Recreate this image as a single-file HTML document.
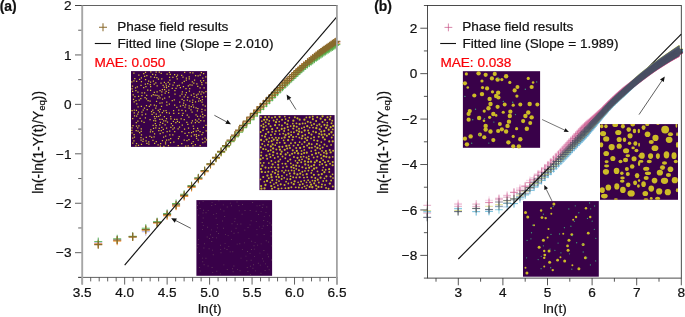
<!DOCTYPE html>
<html lang="en">
<head>
<meta charset="utf-8">
<title>JMAK fit of phase field results</title>
<style>html,body{margin:0;padding:0;background:#fff}svg{display:block}</style>
</head>
<body>
<svg width="685" height="317" viewBox="0 0 685 317" font-family='"Liberation Sans", sans-serif'>
<rect width="685" height="317" fill="#fff"/>
<defs>
<clipPath id="ca"><rect x="77.2" y="5.5" width="263.8" height="271.9"/></clipPath>
</defs>
<g clip-path="url(#ca)" fill="none">
<path d="M94.24 242.78h8M98.24 238.78v8M113.19 239.68h8M117.19 235.68v8M128.68 236.61h8M132.68 232.61v8M141.77 231.71h8M145.77 227.71v8M153.11 222.17h8M157.11 218.17v8M163.12 213.59h8M167.12 209.59v8M172.07 204.61h8M176.07 200.61v8M180.16 195.17h8M184.16 191.17v8M187.55 186.3h8M191.55 182.3v8M194.35 178.34h8M198.35 174.34v8M200.64 171h8M204.64 167v8M206.5 164.18h8M210.5 160.18v8M211.98 157.8h8M215.98 153.8v8M217.13 151.8h8M221.13 147.8v8M221.99 146.16h8M225.99 142.16v8M226.58 140.83h8M230.58 136.83v8M230.94 135.79h8M234.94 131.79v8M235.08 130.93h8M239.08 126.93v8M239.03 126.29h8M243.03 122.29v8M242.81 121.96h8M246.81 117.96v8M246.42 118.01h8M250.42 114.01v8M249.89 114.38h8M253.89 110.38v8M253.22 111.03h8M257.22 107.03v8M256.43 107.85h8M260.43 103.85v8M259.51 104.78h8M263.51 100.78v8M262.5 101.81h8M266.5 97.81v8M265.37 98.96h8M269.37 94.96v8M268.16 96.22h8M272.16 92.22v8M270.86 93.58h8M274.86 89.58v8M273.47 91.04h8M277.47 87.04v8M276.01 88.58h8M280.01 84.58v8M278.47 86.2h8M282.47 82.2v8M280.86 83.89h8M284.86 79.89v8M283.19 81.67h8M287.19 77.67v8M285.45 79.53h8M289.45 75.53v8M287.66 77.46h8M291.66 73.46v8M289.81 75.47h8M293.81 71.47v8M291.91 73.54h8M295.91 69.54v8M293.95 71.67h8M297.95 67.67v8M295.95 69.86h8M299.95 65.86v8M297.9 68.13h8M301.9 64.13v8M299.81 66.47h8M303.81 62.47v8M301.68 64.9h8M305.68 60.9v8M303.51 63.42h8M307.51 59.42v8M305.29 61.98h8M309.29 57.98v8M307.04 60.6h8M311.04 56.6v8M308.76 59.27h8M312.76 55.27v8M310.44 57.98h8M314.44 53.98v8M312.09 56.73h8M316.09 52.73v8M313.71 55.53h8M317.71 51.53v8M315.3 54.37h8M319.3 50.37v8M316.86 53.25h8M320.86 49.25v8M318.39 52.16h8M322.39 48.16v8M319.89 51.11h8M323.89 47.11v8M321.37 50.08h8M325.37 46.08v8M322.82 49.09h8M326.82 45.09v8M324.25 48.12h8M328.25 44.12v8M325.65 47.18h8M329.65 43.18v8M327.03 46.27h8M331.03 42.27v8M328.39 45.39h8M332.39 41.39v8M329.73 44.53h8M333.73 40.53v8M331.04 43.69h8M335.04 39.69v8M332.34 42.88h8M336.34 38.88v8" stroke="#b3b0ea" stroke-width="1.0"/>
<path d="M94.24 243.78h8M98.24 239.78v8M113.19 240.58h8M117.19 236.58v8M128.68 236.8h8M132.68 232.8v8M141.77 229.92h8M145.77 225.92v8M153.11 223.07h8M157.11 219.07v8M163.12 215.88h8M167.12 211.88v8M172.07 206.21h8M176.07 202.21v8M180.16 196.48h8M184.16 192.48v8M187.55 187.35h8M191.55 183.35v8M194.35 179.14h8M198.35 175.14v8M200.64 171.58h8M204.64 167.58v8M206.5 164.56h8M210.5 160.56v8M211.98 158.04h8M215.98 154.04v8M217.13 151.92h8M221.13 147.92v8M221.99 146.15h8M225.99 142.15v8M226.58 140.71h8M230.58 136.71v8M230.94 135.55h8M234.94 131.55v8M235.08 130.6h8M239.08 126.6v8M239.03 125.85h8M243.03 121.85v8M242.81 121.42h8M246.81 117.42v8M246.42 117.4h8M250.42 113.4v8M249.89 113.75h8M253.89 109.75v8M253.22 110.37h8M257.22 106.37v8M256.43 107.17h8M260.43 103.17v8M259.51 104.08h8M263.51 100.08v8M262.5 101.09h8M266.5 97.09v8M265.37 98.22h8M269.37 94.22v8M268.16 95.46h8M272.16 91.46v8M270.86 92.8h8M274.86 88.8v8M273.47 90.24h8M277.47 86.24v8M276.01 87.78h8M280.01 83.78v8M278.47 85.4h8M282.47 81.4v8M280.86 83.09h8M284.86 79.09v8M283.19 80.87h8M287.19 76.87v8M285.45 78.73h8M289.45 74.73v8M287.66 76.66h8M291.66 72.66v8M289.81 74.67h8M293.81 70.67v8M291.91 72.74h8M295.91 68.74v8M293.95 70.87h8M297.95 66.87v8M295.95 69.06h8M299.95 65.06v8M297.9 67.33h8M301.9 63.33v8M299.81 65.67h8M303.81 61.67v8M301.68 64.09h8M305.68 60.09v8M303.51 62.58h8M307.51 58.58v8M305.29 61.13h8M309.29 57.13v8M307.04 59.72h8M311.04 55.72v8M308.76 58.36h8M312.76 54.36v8M310.44 57.05h8M314.44 53.05v8M312.09 55.79h8M316.09 51.79v8M313.71 54.57h8M317.71 50.57v8M315.3 53.39h8M319.3 49.39v8M316.86 52.25h8M320.86 48.25v8M318.39 51.14h8M322.39 47.14v8M319.89 50.06h8M323.89 46.06v8M321.37 49.02h8M325.37 45.02v8M322.82 48h8M326.82 44v8M324.25 47.02h8M328.25 43.02v8M325.65 46.06h8M329.65 42.06v8M327.03 45.14h8M331.03 41.14v8M328.39 44.23h8M332.39 40.23v8M329.73 43.36h8M333.73 39.36v8M331.04 42.51h8M335.04 38.51v8M332.34 41.68h8M336.34 37.68v8" stroke="#e8703a" stroke-width="0.75"/>
<path d="M94.24 244.18h8M98.24 240.18v8M113.19 241.28h8M117.19 237.28v8M128.68 237h8M132.68 233v8M141.77 230.12h8M145.77 226.12v8M153.11 222.87h8M157.11 218.87v8M163.12 215.38h8M167.12 211.38v8M172.07 205.91h8M176.07 201.91v8M180.16 196.32h8M184.16 192.32v8M187.55 187.32h8M191.55 183.32v8M194.35 179.24h8M198.35 175.24v8M200.64 171.79h8M204.64 167.79v8M206.5 164.88h8M210.5 160.88v8M211.98 158.53h8M215.98 154.53v8M217.13 152.56h8M221.13 148.56v8M221.99 146.94h8M225.99 142.94v8M226.58 141.64h8M230.58 137.64v8M230.94 136.61h8M234.94 132.61v8M235.08 131.78h8M239.08 127.78v8M239.03 127.15h8M243.03 123.15v8M242.81 122.84h8M246.81 118.84v8M246.42 118.87h8M250.42 114.87v8M249.89 115.1h8M253.89 111.1v8M253.22 111.6h8M257.22 107.6v8M256.43 108.28h8M260.43 104.28v8M259.51 105.08h8M263.51 101.08v8M262.5 101.98h8M266.5 97.98v8M265.37 99.01h8M269.37 95.01v8M268.16 96.15h8M272.16 92.15v8M270.86 93.4h8M274.86 89.4v8M273.47 90.74h8M277.47 86.74v8M276.01 88.26h8M280.01 84.26v8M278.47 85.86h8M282.47 81.86v8M280.86 83.54h8M284.86 79.54v8M283.19 81.3h8M287.19 77.3v8M285.45 79.14h8M289.45 75.14v8M287.66 77.06h8M291.66 73.06v8M289.81 75.05h8M293.81 71.05v8M291.91 73.1h8M295.91 69.1v8M293.95 71.22h8M297.95 67.22v8M295.95 69.4h8M299.95 65.4v8M297.9 67.65h8M301.9 63.65v8M299.81 65.98h8M303.81 61.98v8M301.68 64.44h8M305.68 60.44v8M303.51 63.02h8M307.51 59.02v8M305.29 61.66h8M309.29 57.66v8M307.04 60.34h8M311.04 56.34v8M308.76 59.07h8M312.76 55.07v8M310.44 57.85h8M314.44 53.85v8M312.09 56.67h8M316.09 52.67v8M313.71 55.53h8M317.71 51.53v8M315.3 54.43h8M319.3 50.43v8M316.86 53.37h8M320.86 49.37v8M318.39 52.34h8M322.39 48.34v8M319.89 51.34h8M323.89 47.34v8M321.37 50.37h8M325.37 46.37v8M322.82 49.43h8M326.82 45.43v8M324.25 48.52h8M328.25 44.52v8M325.65 47.63h8M329.65 43.63v8M327.03 46.77h8M331.03 42.77v8M328.39 45.94h8M332.39 41.94v8M329.73 45.14h8M333.73 41.14v8M331.04 44.35h8M335.04 40.35v8M332.34 43.58h8M336.34 39.58v8" stroke="#f59b2e" stroke-width="0.8"/>
<path d="M94.24 241.58h8M98.24 237.58v8M113.19 238.78h8M117.19 234.78v8M128.68 236.3h8M132.68 232.3v8M141.77 228.22h8M145.77 224.22v8M153.11 221.67h8M157.11 217.67v8M163.12 213.59h8M167.12 209.59v8M172.07 203.51h8M176.07 199.51v8M180.16 194.26h8M184.16 190.26v8M187.55 185.57h8M191.55 181.57v8M194.35 177.77h8M198.35 173.77v8M200.64 170.58h8M204.64 166.58v8M206.5 163.93h8M210.5 159.93v8M211.98 157.83h8M215.98 153.83v8M217.13 152.11h8M221.13 148.11v8M221.99 146.72h8M225.99 142.72v8M226.58 141.64h8M230.58 137.64v8M230.94 136.82h8M234.94 132.82v8M235.08 132.19h8M239.08 128.19v8M239.03 127.74h8M243.03 123.74v8M242.81 123.61h8M246.81 119.61v8M246.42 119.79h8M250.42 115.79v8M249.89 116.08h8M253.89 112.08v8M253.22 112.63h8M257.22 108.63v8M256.43 109.37h8M260.43 105.37v8M259.51 106.23h8M263.51 102.23v8M262.5 103.19h8M266.5 99.19v8M265.37 100.27h8M269.37 96.27v8M268.16 97.46h8M272.16 93.46v8M270.86 94.75h8M274.86 90.75v8M273.47 92.14h8M277.47 88.14v8M276.01 89.67h8M280.01 85.67v8M278.47 87.28h8M282.47 83.28v8M280.86 84.97h8M284.86 80.97v8M283.19 82.73h8M287.19 78.73v8M285.45 80.58h8M289.45 76.58v8M287.66 78.51h8M291.66 74.51v8M289.81 76.51h8M293.81 72.51v8M291.91 74.57h8M295.91 70.57v8M293.95 72.69h8M297.95 68.69v8M295.95 70.88h8M299.95 66.88v8M297.9 69.14h8M301.9 65.14v8M299.81 67.47h8M303.81 63.47v8M301.68 65.93h8M305.68 61.93v8M303.51 64.48h8M307.51 60.48v8M305.29 63.08h8M309.29 59.08v8M307.04 61.74h8M311.04 57.74v8M308.76 60.44h8M312.76 56.44v8M310.44 59.19h8M314.44 55.19v8M312.09 57.99h8M316.09 53.99v8M313.71 56.82h8M317.71 52.82v8M315.3 55.7h8M319.3 51.7v8M316.86 54.61h8M320.86 50.61v8M318.39 53.56h8M322.39 49.56v8M319.89 52.53h8M323.89 48.53v8M321.37 51.54h8M325.37 47.54v8M322.82 50.58h8M326.82 46.58v8M324.25 49.64h8M328.25 45.64v8M325.65 48.74h8M329.65 44.74v8M327.03 47.86h8M331.03 43.86v8M328.39 47h8M332.39 43v8M329.73 46.17h8M333.73 42.17v8M331.04 45.37h8M335.04 41.37v8M332.34 44.58h8M336.34 40.58v8" stroke="#4fb04a" stroke-width="0.9"/>
<path d="M94.24 244.68h8M98.24 240.68v8M113.19 239.98h8M117.19 235.98v8M128.68 236.8h8M132.68 232.8v8M141.77 229.62h8M145.77 225.62v8M153.11 222.47h8M157.11 218.47v8M163.12 214.59h8M167.12 210.59v8M172.07 204.91h8M176.07 200.91v8M180.16 195.32h8M184.16 191.32v8M187.55 186.32h8M191.55 182.32v8M194.35 178.24h8M198.35 174.24v8M200.64 170.79h8M204.64 166.79v8M206.5 163.86h8M210.5 159.86v8M211.98 157.38h8M215.98 153.38v8M217.13 151.3h8M221.13 147.3v8M221.99 145.57h8M225.99 141.57v8M226.58 140.16h8M230.58 136.16v8M230.94 135.04h8M234.94 131.04v8M235.08 130.12h8M239.08 126.12v8M239.03 125.4h8M243.03 121.4v8M242.81 121h8M246.81 117v8M246.42 117.01h8M250.42 113.01v8M249.89 113.38h8M253.89 109.38v8M253.22 110.03h8M257.22 106.03v8M256.43 106.85h8M260.43 102.85v8M259.51 103.78h8M263.51 99.78v8M262.5 100.81h8M266.5 96.81v8M265.37 97.96h8M269.37 93.96v8M268.16 95.22h8M272.16 91.22v8M270.86 92.58h8M274.86 88.58v8M273.47 90.04h8M277.47 86.04v8M276.01 87.58h8M280.01 83.58v8M278.47 85.2h8M282.47 81.2v8M280.86 82.89h8M284.86 78.89v8M283.19 80.67h8M287.19 76.67v8M285.45 78.53h8M289.45 74.53v8M287.66 76.46h8M291.66 72.46v8M289.81 74.47h8M293.81 70.47v8M291.91 72.54h8M295.91 68.54v8M293.95 70.67h8M297.95 66.67v8M295.95 68.86h8M299.95 64.86v8M297.9 67.13h8M301.9 63.13v8M299.81 65.47h8M303.81 61.47v8M301.68 63.89h8M305.68 59.89v8M303.51 62.36h8M307.51 58.36v8M305.29 60.9h8M309.29 56.9v8M307.04 59.48h8M311.04 55.48v8M308.76 58.11h8M312.76 54.11v8M310.44 56.79h8M314.44 52.79v8M312.09 55.52h8M316.09 51.52v8M313.71 54.28h8M317.71 50.28v8M315.3 53.09h8M319.3 49.09v8M316.86 51.94h8M320.86 47.94v8M318.39 50.83h8M322.39 46.83v8M319.89 49.74h8M323.89 45.74v8M321.37 48.69h8M325.37 44.69v8M322.82 47.66h8M326.82 43.66v8M324.25 46.67h8M328.25 42.67v8M325.65 45.71h8M329.65 41.71v8M327.03 44.77h8M331.03 40.77v8M328.39 43.86h8M332.39 39.86v8M329.73 42.97h8M333.73 38.97v8M331.04 42.12h8M335.04 38.12v8M332.34 41.28h8M336.34 37.28v8" stroke="#876a2c" stroke-width="1.15"/>
</g>
<path d="M124.67 265.04L337 16.62" stroke="#111" stroke-width="1.15" fill="none"/>
<rect x="131" y="71.1" width="76.1" height="75.8" fill="#390149"/>
<path d="M177.82 138.03h1.25v1.25h-1.25zM189.1 87.9h1.25v1.25h-1.25zM153.48 136.27h1.25v1.25h-1.25zM131.39 132.36h1.25v1.25h-1.25zM190.7 106.01h1.25v1.25h-1.25zM153.7 91.87h1.25v1.25h-1.25zM150.09 104.3h1.25v1.25h-1.25zM168.79 112.39h1.25v1.25h-1.25zM205.56 130.23h1.25v1.25h-1.25zM177.6 144.88h1.25v1.25h-1.25zM147.13 83.05h1.25v1.25h-1.25zM176.88 74.38h1.25v1.25h-1.25zM133.67 109.51h1.25v1.25h-1.25zM165.92 139.52h1.25v1.25h-1.25zM178.13 109.45h1.25v1.25h-1.25zM168.22 89.56h1.25v1.25h-1.25zM131.88 85.45h1.25v1.25h-1.25zM182.83 86.07h1.25v1.25h-1.25zM158.68 71.38h1.25v1.25h-1.25zM193.17 82.62h1.25v1.25h-1.25zM151.04 136.77h1.25v1.25h-1.25zM169.18 134.3h1.25v1.25h-1.25zM178.91 126.44h1.25v1.25h-1.25zM137.85 111.47h1.25v1.25h-1.25zM158.06 115.72h1.25v1.25h-1.25zM135.44 100.02h1.25v1.25h-1.25zM155.2 82.3h1.25v1.25h-1.25zM192.14 99.41h1.25v1.25h-1.25zM204.31 115.11h1.25v1.25h-1.25zM176.32 118.69h1.25v1.25h-1.25zM181.67 82.35h1.25v1.25h-1.25zM163.98 88.97h1.25v1.25h-1.25zM161.15 78.31h1.25v1.25h-1.25zM203.49 87.14h1.25v1.25h-1.25zM181.32 93.51h1.25v1.25h-1.25zM196.47 120.5h1.25v1.25h-1.25zM140.86 134.14h1.25v1.25h-1.25zM201.78 138.53h1.25v1.25h-1.25zM173.67 81.95h1.25v1.25h-1.25zM145.42 140.32h1.25v1.25h-1.25zM172.37 84.57h1.25v1.25h-1.25zM173.67 99.17h1.25v1.25h-1.25zM161.78 88.97h1.25v1.25h-1.25zM133.85 136.47h1.25v1.25h-1.25zM166.03 111.95h1.25v1.25h-1.25zM155.13 127.15h1.25v1.25h-1.25zM132.89 98.87h1.25v1.25h-1.25zM133.27 80.27h1.25v1.25h-1.25zM203.44 120.17h1.25v1.25h-1.25zM163.07 110.17h1.25v1.25h-1.25zM196.37 96.78h1.25v1.25h-1.25zM175.21 122.1h1.25v1.25h-1.25zM157.62 109.82h1.25v1.25h-1.25zM188.32 138.92h1.25v1.25h-1.25zM142.31 140.73h1.25v1.25h-1.25zM131.39 127.27h1.25v1.25h-1.25zM191.71 81.3h1.25v1.25h-1.25zM162.38 131.92h1.25v1.25h-1.25zM132.07 117.98h1.25v1.25h-1.25zM190.4 109.37h1.25v1.25h-1.25zM185.37 87.99h1.25v1.25h-1.25zM145.87 98.19h1.25v1.25h-1.25zM144.44 96.92h1.25v1.25h-1.25zM202.01 113.87h1.25v1.25h-1.25zM156.47 91.36h1.25v1.25h-1.25zM202.31 104.26h1.25v1.25h-1.25zM204.43 109.56h1.25v1.25h-1.25zM170.04 137.98h1.25v1.25h-1.25zM186.63 114.42h1.25v1.25h-1.25zM162.96 136.61h1.25v1.25h-1.25zM161.83 139.94h1.25v1.25h-1.25zM136.15 103.18h1.25v1.25h-1.25zM169.91 142.04h1.25v1.25h-1.25zM149.8 131.23h1.25v1.25h-1.25zM181.67 124.59h1.25v1.25h-1.25zM155.92 100.81h1.25v1.25h-1.25zM146.2 74.88h1.25v1.25h-1.25zM193.93 79.49h1.25v1.25h-1.25zM176.22 106.85h1.25v1.25h-1.25zM153.97 142.82h1.25v1.25h-1.25zM165.89 117.96h1.25v1.25h-1.25zM178.58 84.82h1.25v1.25h-1.25zM188.23 131.92h1.25v1.25h-1.25zM185.68 79.55h1.25v1.25h-1.25zM199.41 130.93h1.25v1.25h-1.25zM196.74 110.14h1.25v1.25h-1.25zM199.58 74.58h1.25v1.25h-1.25zM133.27 72.61h1.25v1.25h-1.25zM149.93 89.64h1.25v1.25h-1.25zM145.04 113.4h1.25v1.25h-1.25zM133.92 115.14h1.25v1.25h-1.25zM143.43 121.67h1.25v1.25h-1.25zM132.58 94.27h1.25v1.25h-1.25zM201.28 111.26h1.25v1.25h-1.25zM191.79 120.19h1.25v1.25h-1.25zM176.75 85.37h1.25v1.25h-1.25zM174.02 74.06h1.25v1.25h-1.25zM191.04 142.72h1.25v1.25h-1.25zM194.97 74.88h1.25v1.25h-1.25zM156.37 94.82h1.25v1.25h-1.25zM139.44 117.85h1.25v1.25h-1.25zM190.73 94.5h1.25v1.25h-1.25zM195.62 130.57h1.25v1.25h-1.25zM140.67 128.31h1.25v1.25h-1.25zM197.11 85.82h1.25v1.25h-1.25zM173.97 118.75h1.25v1.25h-1.25zM176.64 78.28h1.25v1.25h-1.25zM180.52 118.24h1.25v1.25h-1.25zM192.71 131.04h1.25v1.25h-1.25zM155.5 124.96h1.25v1.25h-1.25zM195.96 137.71h1.25v1.25h-1.25zM143.1 73.09h1.25v1.25h-1.25zM179.75 87.11h1.25v1.25h-1.25zM173.22 141.58h1.25v1.25h-1.25zM159.41 89.96h1.25v1.25h-1.25zM165.19 120.13h1.25v1.25h-1.25zM138.57 99.49h1.25v1.25h-1.25zM141.02 120.52h1.25v1.25h-1.25zM158.84 111.35h1.25v1.25h-1.25zM147.11 89.56h1.25v1.25h-1.25zM155.71 105.22h1.25v1.25h-1.25zM137.11 127.25h1.25v1.25h-1.25zM174.37 93.46h1.25v1.25h-1.25zM140.82 81.04h1.25v1.25h-1.25zM140.79 77.16h1.25v1.25h-1.25zM198.89 91.19h1.25v1.25h-1.25zM153.95 133.23h1.25v1.25h-1.25zM159.12 124.13h1.25v1.25h-1.25zM138.25 125.36h1.25v1.25h-1.25zM181.5 98.76h1.25v1.25h-1.25zM135.81 109.8h1.25v1.25h-1.25zM187.73 85.34h1.25v1.25h-1.25zM150.94 111.09h1.25v1.25h-1.25zM140.42 84.85h1.25v1.25h-1.25zM185 145.46h1.25v1.25h-1.25zM201.34 133.99h1.25v1.25h-1.25zM189.21 100.57h1.25v1.25h-1.25zM187.89 127.62h1.25v1.25h-1.25zM185.03 104.28h1.25v1.25h-1.25zM159.33 102.41h1.25v1.25h-1.25zM133.5 134.09h1.25v1.25h-1.25zM171.62 100.01h1.25v1.25h-1.25zM172.05 124.93h1.25v1.25h-1.25zM159.57 133.07h1.25v1.25h-1.25zM199.87 100h1.25v1.25h-1.25zM205.37 82.14h1.25v1.25h-1.25zM184.38 132.67h1.25v1.25h-1.25zM199.95 80.3h1.25v1.25h-1.25zM137.88 144.8h1.25v1.25h-1.25zM174.06 104.39h1.25v1.25h-1.25zM199.49 87.3h1.25v1.25h-1.25zM188.61 76.14h1.25v1.25h-1.25zM166.46 73.53h1.25v1.25h-1.25zM154.5 94.39h1.25v1.25h-1.25zM135.25 145.35h1.25v1.25h-1.25zM197.56 139.46h1.25v1.25h-1.25zM149.47 100.5h1.25v1.25h-1.25zM148.02 80.42h1.25v1.25h-1.25zM195.45 107.22h1.25v1.25h-1.25zM152.19 109.61h1.25v1.25h-1.25zM160.63 130.09h1.25v1.25h-1.25zM204.37 141.34h1.25v1.25h-1.25zM148.28 143.46h1.25v1.25h-1.25zM146.57 108.88h1.25v1.25h-1.25zM168.25 139.36h1.25v1.25h-1.25zM175.94 76.05h1.25v1.25h-1.25zM148.72 105.79h1.25v1.25h-1.25zM196.98 127.87h1.25v1.25h-1.25zM193.09 127.88h1.25v1.25h-1.25zM153.59 83.61h1.25v1.25h-1.25zM199.87 115.61h1.25v1.25h-1.25zM155.67 140.97h1.25v1.25h-1.25zM142.62 109.48h1.25v1.25h-1.25zM174.1 131.05h1.25v1.25h-1.25zM152.12 130.91h1.25v1.25h-1.25zM183.64 119.12h1.25v1.25h-1.25zM162.09 122.73h1.25v1.25h-1.25zM193.55 96.1h1.25v1.25h-1.25zM172.32 128.48h1.25v1.25h-1.25zM135.89 125.4h1.25v1.25h-1.25zM132.16 142.59h1.25v1.25h-1.25zM166.1 101.62h1.25v1.25h-1.25zM184.96 110.14h1.25v1.25h-1.25zM185.74 77.42h1.25v1.25h-1.25zM173.15 112.73h1.25v1.25h-1.25zM172.25 76.63h1.25v1.25h-1.25zM175.43 87.68h1.25v1.25h-1.25zM145.65 136.65h1.25v1.25h-1.25zM145.82 104.99h1.25v1.25h-1.25zM187.2 123.87h1.25v1.25h-1.25zM179.07 101.4h1.25v1.25h-1.25zM186.75 99.48h1.25v1.25h-1.25zM165.95 127.46h1.25v1.25h-1.25zM168.72 96.32h1.25v1.25h-1.25zM164.5 124.28h1.25v1.25h-1.25zM195.44 114.33h1.25v1.25h-1.25zM172.78 120.69h1.25v1.25h-1.25zM181.76 114.64h1.25v1.25h-1.25zM162.51 84.79h1.25v1.25h-1.25zM163.26 145.63h1.25v1.25h-1.25zM197.24 107.94h1.25v1.25h-1.25zM182.35 76.57h1.25v1.25h-1.25zM195.91 94.45h1.25v1.25h-1.25zM168.04 85.87h1.25v1.25h-1.25zM192.99 106.44h1.25v1.25h-1.25zM188.52 105.27h1.25v1.25h-1.25zM146.08 94.72h1.25v1.25h-1.25zM183.92 128.58h1.25v1.25h-1.25zM192.23 104.31h1.25v1.25h-1.25zM135.68 122.05h1.25v1.25h-1.25zM149.44 119.09h1.25v1.25h-1.25zM159.21 118.63h1.25v1.25h-1.25zM170.3 118.17h1.25v1.25h-1.25zM146.22 142.87h1.25v1.25h-1.25zM152.66 93.93h1.25v1.25h-1.25zM150.2 76.13h1.25v1.25h-1.25zM162.68 128.68h1.25v1.25h-1.25zM141.26 95.08h1.25v1.25h-1.25zM188.54 107.51h1.25v1.25h-1.25zM200.15 120.07h1.25v1.25h-1.25zM177.51 128.37h1.25v1.25h-1.25zM187.19 96.75h1.25v1.25h-1.25zM167.64 81.67h1.25v1.25h-1.25zM144.01 92.24h1.25v1.25h-1.25zM203.03 73.02h1.25v1.25h-1.25zM144.76 83.41h1.25v1.25h-1.25zM165.32 83.25h1.25v1.25h-1.25zM144.79 117.14h1.25v1.25h-1.25zM161.43 102.25h1.25v1.25h-1.25zM181.06 74.79h1.25v1.25h-1.25zM199.54 144.94h1.25v1.25h-1.25zM176.83 120.78h1.25v1.25h-1.25zM202.34 116.45h1.25v1.25h-1.25zM132.4 125.12h1.25v1.25h-1.25zM182.97 102.51h1.25v1.25h-1.25zM156.22 76.88h1.25v1.25h-1.25zM153.76 104.48h1.25v1.25h-1.25zM198.3 121.86h1.25v1.25h-1.25zM194.93 101.18h1.25v1.25h-1.25zM131.25 129.81h1.25v1.25h-1.25zM190.88 122.3h1.25v1.25h-1.25zM201.35 91.13h1.25v1.25h-1.25zM183.61 80.76h1.25v1.25h-1.25zM169.65 73.73h1.25v1.25h-1.25zM172.2 134.26h1.25v1.25h-1.25zM137.32 91.56h1.25v1.25h-1.25zM188.28 116.46h1.25v1.25h-1.25zM154.43 118.02h1.25v1.25h-1.25zM165.06 135.43h1.25v1.25h-1.25zM152.94 127.63h1.25v1.25h-1.25zM183.31 100.01h1.25v1.25h-1.25zM185.74 91.89h1.25v1.25h-1.25zM164.56 92.59h1.25v1.25h-1.25zM153.88 76.85h1.25v1.25h-1.25zM143.96 75.8h1.25v1.25h-1.25zM165.89 87.09h1.25v1.25h-1.25zM186.33 139.92h1.25v1.25h-1.25zM151.45 113.79h1.25v1.25h-1.25zM168.95 76.7h1.25v1.25h-1.25zM140.35 137.1h1.25v1.25h-1.25zM166.51 131.12h1.25v1.25h-1.25zM135.99 115.47h1.25v1.25h-1.25zM195.81 135.78h1.25v1.25h-1.25zM131.43 110.02h1.25v1.25h-1.25zM158.64 127.8h1.25v1.25h-1.25zM164.94 143.35h1.25v1.25h-1.25zM154.96 74.21h1.25v1.25h-1.25zM160.38 82.54h1.25v1.25h-1.25zM137.13 113.46h1.25v1.25h-1.25zM179.47 95.24h1.25v1.25h-1.25zM173.78 127.22h1.25v1.25h-1.25zM161.19 91.25h1.25v1.25h-1.25zM182.43 112.81h1.25v1.25h-1.25zM139.02 132.11h1.25v1.25h-1.25zM149.69 84.06h1.25v1.25h-1.25zM134.32 95.9h1.25v1.25h-1.25zM143.83 107.43h1.25v1.25h-1.25zM170.25 126.71h1.25v1.25h-1.25zM163.78 81.63h1.25v1.25h-1.25zM157.49 144.36h1.25v1.25h-1.25zM189.53 72.05h1.25v1.25h-1.25zM196.26 83.21h1.25v1.25h-1.25zM169.04 83.44h1.25v1.25h-1.25zM141.42 92.33h1.25v1.25h-1.25zM134.92 87.25h1.25v1.25h-1.25zM140.74 105.77h1.25v1.25h-1.25zM152.04 73.63h1.25v1.25h-1.25zM149.96 81.51h1.25v1.25h-1.25zM163.8 116.04h1.25v1.25h-1.25zM201.08 81.98h1.25v1.25h-1.25zM184.36 106.57h1.25v1.25h-1.25zM140.87 143.66h1.25v1.25h-1.25zM137.94 95.83h1.25v1.25h-1.25zM186.22 121.72h1.25v1.25h-1.25zM191.88 101.77h1.25v1.25h-1.25zM205.3 90.95h1.25v1.25h-1.25zM164.93 141.43h1.25v1.25h-1.25zM201.84 98.92h1.25v1.25h-1.25zM201.42 101.38h1.25v1.25h-1.25zM166.29 104.54h1.25v1.25h-1.25zM181.32 130.95h1.25v1.25h-1.25zM144.97 79.04h1.25v1.25h-1.25zM133.55 101.26h1.25v1.25h-1.25zM174.29 90.01h1.25v1.25h-1.25zM149.99 86.04h1.25v1.25h-1.25zM170.04 115.96h1.25v1.25h-1.25zM183.61 96.16h1.25v1.25h-1.25zM155.56 71.42h1.25v1.25h-1.25zM133.64 112.13h1.25v1.25h-1.25zM136.68 86.21h1.25v1.25h-1.25zM133.31 140.25h1.25v1.25h-1.25zM163.6 86.38h1.25v1.25h-1.25zM184.06 71.8h1.25v1.25h-1.25zM198.24 118.54h1.25v1.25h-1.25zM142.67 138.45h1.25v1.25h-1.25zM137.48 130.48h1.25v1.25h-1.25zM202.32 132.06h1.25v1.25h-1.25zM132.13 137.55h1.25v1.25h-1.25zM136.01 80.73h1.25v1.25h-1.25zM194.77 144.04h1.25v1.25h-1.25zM149.29 135.71h1.25v1.25h-1.25zM161.15 94.33h1.25v1.25h-1.25zM168.84 71.71h1.25v1.25h-1.25zM201.34 108.7h1.25v1.25h-1.25zM138.23 74.52h1.25v1.25h-1.25zM168.76 103.58h1.25v1.25h-1.25zM202.25 141.88h1.25v1.25h-1.25zM192.25 72.15h1.25v1.25h-1.25zM163.12 120.36h1.25v1.25h-1.25zM135.25 89.95h1.25v1.25h-1.25zM159.57 108.68h1.25v1.25h-1.25zM153.16 120.1h1.25v1.25h-1.25zM152.52 124.81h1.25v1.25h-1.25zM156.02 116.05h1.25v1.25h-1.25zM191.46 111.52h1.25v1.25h-1.25zM159.39 97.23h1.25v1.25h-1.25zM181.14 142.88h1.25v1.25h-1.25zM204.46 137.44h1.25v1.25h-1.25zM191.42 84.38h1.25v1.25h-1.25zM152.77 80.49h1.25v1.25h-1.25zM140.6 130.87h1.25v1.25h-1.25zM131.99 90.77h1.25v1.25h-1.25zM160.9 105.67h1.25v1.25h-1.25zM184.83 94.18h1.25v1.25h-1.25zM197.99 100.5h1.25v1.25h-1.25zM143.09 87.02h1.25v1.25h-1.25zM137.47 106.31h1.25v1.25h-1.25zM141.32 111.53h1.25v1.25h-1.25zM169.27 79.62h1.25v1.25h-1.25zM205.29 124.81h1.25v1.25h-1.25zM189.37 84.21h1.25v1.25h-1.25zM152.32 139.69h1.25v1.25h-1.25zM154.69 122.97h1.25v1.25h-1.25zM153.82 116.03h1.25v1.25h-1.25zM192.59 140.97h1.25v1.25h-1.25zM155.63 113.6h1.25v1.25h-1.25zM202.96 79.97h1.25v1.25h-1.25zM153.24 112.08h1.25v1.25h-1.25zM186.7 135.02h1.25v1.25h-1.25zM204.68 105.4h1.25v1.25h-1.25zM188.64 78.36h1.25v1.25h-1.25zM197.53 129.82h1.25v1.25h-1.25zM150.91 95.33h1.25v1.25h-1.25zM200.77 72.05h1.25v1.25h-1.25zM196.92 115.72h1.25v1.25h-1.25zM159.81 114.55h1.25v1.25h-1.25zM203.17 92.17h1.25v1.25h-1.25zM135.94 143.1h1.25v1.25h-1.25zM161.55 118.86h1.25v1.25h-1.25zM167.85 144.92h1.25v1.25h-1.25zM150.18 71.15h1.25v1.25h-1.25zM160.03 142.91h1.25v1.25h-1.25zM183.62 139.51h1.25v1.25h-1.25zM195.64 133.89h1.25v1.25h-1.25zM157.84 78.49h1.25v1.25h-1.25zM159.78 145.38h1.25v1.25h-1.25zM172.93 110.02h1.25v1.25h-1.25zM205.86 139.13h1.25v1.25h-1.25zM158.26 95.51h1.25v1.25h-1.25zM140.48 139.41h1.25v1.25h-1.25zM144.92 71.77h1.25v1.25h-1.25zM134.2 77.95h1.25v1.25h-1.25zM201.35 83.9h1.25v1.25h-1.25zM161.71 111.89h1.25v1.25h-1.25zM165.45 110.09h1.25v1.25h-1.25zM161.94 98.38h1.25v1.25h-1.25zM167.96 92.08h1.25v1.25h-1.25zM193.69 134.35h1.25v1.25h-1.25zM198.58 97.89h1.25v1.25h-1.25zM178.57 136.03h1.25v1.25h-1.25zM135.58 130.1h1.25v1.25h-1.25zM155.08 120.2h1.25v1.25h-1.25zM137.28 120.52h1.25v1.25h-1.25zM197.49 75.36h1.25v1.25h-1.25zM188.81 90.6h1.25v1.25h-1.25zM155.12 107.53h1.25v1.25h-1.25zM170.74 122.91h1.25v1.25h-1.25zM178.78 121.7h1.25v1.25h-1.25zM159.77 121.63h1.25v1.25h-1.25zM147.48 99.88h1.25v1.25h-1.25zM140.17 98.1h1.25v1.25h-1.25zM158.18 130.09h1.25v1.25h-1.25zM141.51 114.36h1.25v1.25h-1.25zM192.38 145.14h1.25v1.25h-1.25zM200.39 93.62h1.25v1.25h-1.25zM160.6 72.76h1.25v1.25h-1.25zM165.78 85.17h1.25v1.25h-1.25zM161.18 126.68h1.25v1.25h-1.25zM190.96 132.07h1.25v1.25h-1.25zM192.64 125.42h1.25v1.25h-1.25zM193.17 93.32h1.25v1.25h-1.25zM181.37 109.69h1.25v1.25h-1.25zM194.79 121.94h1.25v1.25h-1.25zM202.18 77.51h1.25v1.25h-1.25zM169.12 130.6h1.25v1.25h-1.25zM164.03 97.46h1.25v1.25h-1.25zM205.03 96.1h1.25v1.25h-1.25zM148.14 141.21h1.25v1.25h-1.25zM194.91 119.37h1.25v1.25h-1.25zM138.95 78.83h1.25v1.25h-1.25zM201.69 96.3h1.25v1.25h-1.25zM179.85 105.5h1.25v1.25h-1.25zM150.23 129.33h1.25v1.25h-1.25zM202.88 126.67h1.25v1.25h-1.25zM166.88 121.55h1.25v1.25h-1.25zM187.59 145.2h1.25v1.25h-1.25zM157.13 97.59h1.25v1.25h-1.25zM156.53 85.33h1.25v1.25h-1.25zM131.21 81.36h1.25v1.25h-1.25zM205.2 76.28h1.25v1.25h-1.25zM182.51 104.8h1.25v1.25h-1.25zM145.29 86.03h1.25v1.25h-1.25zM171.62 87.63h1.25v1.25h-1.25zM197.49 93.38h1.25v1.25h-1.25zM190.8 135.44h1.25v1.25h-1.25zM165.54 90.78h1.25v1.25h-1.25zM181.72 91.27h1.25v1.25h-1.25zM131.43 88.26h1.25v1.25h-1.25zM198.15 134.87h1.25v1.25h-1.25zM178.11 112.8h1.25v1.25h-1.25z" fill="#d9c234"/>
<rect x="259.4" y="115.1" width="75.2" height="75" fill="#390149"/>
<g fill="#c4b52a"><circle cx="276.65" cy="179.81" r="0.85"/><circle cx="315.93" cy="153.44" r="1.14"/><circle cx="272.15" cy="131.81" r="0.91"/><circle cx="288.09" cy="140.21" r="1.12"/><circle cx="264.86" cy="145.68" r="0.86"/><circle cx="293.16" cy="137" r="1.11"/><circle cx="287.91" cy="161.17" r="1.04"/><circle cx="296.71" cy="130.48" r="1.06"/><circle cx="293.86" cy="168.03" r="0.97"/><circle cx="315.31" cy="177.91" r="0.97"/><circle cx="319.62" cy="164.8" r="0.9"/><circle cx="313.04" cy="127.54" r="0.89"/><circle cx="311.45" cy="134.62" r="1.04"/><circle cx="279.22" cy="124.85" r="0.95"/><circle cx="289.37" cy="117.55" r="0.86"/><circle cx="308.36" cy="170.56" r="0.9"/><circle cx="317.02" cy="125.48" r="0.9"/><circle cx="307.2" cy="177.13" r="0.91"/><circle cx="263.03" cy="130.18" r="0.99"/><circle cx="279.95" cy="149.73" r="1.12"/><circle cx="272.97" cy="155.33" r="1.02"/><circle cx="285.51" cy="163.79" r="1.07"/><circle cx="299.19" cy="166.06" r="0.88"/><circle cx="278.38" cy="167.57" r="1.06"/><circle cx="314.03" cy="168.66" r="1.11"/><circle cx="265.4" cy="184.98" r="1.15"/><circle cx="302.51" cy="135.92" r="1.06"/><circle cx="292.09" cy="153.78" r="1.03"/><circle cx="298.2" cy="134.15" r="1.14"/><circle cx="279.74" cy="142.57" r="0.89"/><circle cx="317.41" cy="147.95" r="1.09"/><circle cx="263.22" cy="149.02" r="1.07"/><circle cx="275.1" cy="117" r="1.07"/><circle cx="331.72" cy="137.48" r="0.96"/><circle cx="299.64" cy="142.18" r="0.87"/><circle cx="264.3" cy="181.68" r="0.89"/><circle cx="328.7" cy="129.67" r="1.05"/><circle cx="290.91" cy="143.3" r="0.94"/><circle cx="272.61" cy="164.27" r="1.13"/><circle cx="317.49" cy="171.41" r="0.89"/><circle cx="309.69" cy="117.37" r="1.09"/><circle cx="277.16" cy="153.56" r="0.99"/><circle cx="311.71" cy="144.23" r="0.94"/><circle cx="293.2" cy="177.3" r="0.93"/><circle cx="262.12" cy="135.65" r="0.96"/><circle cx="281.57" cy="188.37" r="0.96"/><circle cx="277.01" cy="119.53" r="0.92"/><circle cx="290.8" cy="163.39" r="0.92"/><circle cx="271.6" cy="177.23" r="1.14"/><circle cx="274.74" cy="167.37" r="0.98"/><circle cx="272.21" cy="180.29" r="1.04"/><circle cx="321.62" cy="134.66" r="1.06"/><circle cx="267.18" cy="158.77" r="0.95"/><circle cx="296.83" cy="150.99" r="1.13"/><circle cx="293.58" cy="145.64" r="0.94"/><circle cx="272.15" cy="137.6" r="0.91"/><circle cx="279.74" cy="134.17" r="0.86"/><circle cx="283.22" cy="133.58" r="0.93"/><circle cx="287.66" cy="152.65" r="0.87"/><circle cx="309.63" cy="186.88" r="1.04"/><circle cx="322.64" cy="147.4" r="1.02"/><circle cx="277.84" cy="185.39" r="0.86"/><circle cx="308.72" cy="159.02" r="1.13"/><circle cx="280.74" cy="184.31" r="1.07"/><circle cx="290.29" cy="159.51" r="1.02"/><circle cx="267.04" cy="180.96" r="1.13"/><circle cx="267.92" cy="144.79" r="1.01"/><circle cx="325.05" cy="184.9" r="0.9"/><circle cx="326.39" cy="176.35" r="1.08"/><circle cx="293.38" cy="120.7" r="1.14"/><circle cx="330.52" cy="116.7" r="0.87"/><circle cx="284.16" cy="130.9" r="1"/><circle cx="261.4" cy="152.43" r="0.92"/><circle cx="321.83" cy="174.11" r="1.12"/><circle cx="284.23" cy="177.78" r="0.88"/><circle cx="328.25" cy="161.23" r="1.09"/><circle cx="286.08" cy="181.66" r="0.91"/><circle cx="329.23" cy="141.38" r="1.04"/><circle cx="308.93" cy="132.99" r="1.06"/><circle cx="301.79" cy="138.54" r="1.08"/><circle cx="285.4" cy="188.13" r="0.87"/><circle cx="276.34" cy="149.45" r="0.99"/><circle cx="281.94" cy="175.88" r="0.89"/><circle cx="321.32" cy="126.51" r="0.89"/><circle cx="303.64" cy="156.54" r="0.9"/><circle cx="311.04" cy="138.44" r="0.89"/><circle cx="288.44" cy="133.63" r="1.13"/><circle cx="281.71" cy="128.89" r="1.02"/><circle cx="326.42" cy="180.7" r="0.93"/><circle cx="286.68" cy="166.57" r="1"/><circle cx="296.19" cy="136.54" r="0.87"/><circle cx="285.33" cy="158.23" r="0.91"/><circle cx="319.45" cy="124.41" r="1.04"/><circle cx="313.93" cy="174.83" r="1.06"/><circle cx="321.53" cy="187.08" r="1.03"/><circle cx="312.3" cy="187.24" r="1.15"/><circle cx="280.72" cy="154.07" r="1.14"/><circle cx="276.03" cy="122.18" r="1.1"/><circle cx="317.23" cy="117.34" r="0.99"/><circle cx="329.18" cy="134.1" r="1.08"/><circle cx="325.68" cy="169.71" r="0.92"/><circle cx="284.7" cy="149.79" r="1.11"/><circle cx="321.33" cy="142.11" r="0.92"/><circle cx="294.61" cy="181.37" r="1.15"/><circle cx="288.47" cy="170.69" r="0.85"/><circle cx="307.1" cy="140.22" r="1.09"/><circle cx="299.22" cy="160.22" r="1"/><circle cx="299.59" cy="124.16" r="1.09"/><circle cx="332.78" cy="186.47" r="1.01"/><circle cx="299.68" cy="119.72" r="1.1"/><circle cx="326.84" cy="135.77" r="1.06"/><circle cx="317.72" cy="179.66" r="1.04"/><circle cx="286.32" cy="145.96" r="1.14"/><circle cx="284.78" cy="116.52" r="0.89"/><circle cx="277.3" cy="140.24" r="1.13"/><circle cx="268.31" cy="171.83" r="1.01"/><circle cx="315.4" cy="150.3" r="1.06"/><circle cx="303.95" cy="146.87" r="1.05"/><circle cx="301.06" cy="181.43" r="0.97"/><circle cx="310.57" cy="122.42" r="1.01"/><circle cx="330.63" cy="152.41" r="1.14"/><circle cx="278.31" cy="171.46" r="1"/><circle cx="319.94" cy="162.01" r="1.12"/><circle cx="327.28" cy="122.57" r="0.85"/><circle cx="298.91" cy="170.18" r="1.02"/><circle cx="314.22" cy="183.35" r="1.06"/><circle cx="265.23" cy="172.13" r="0.97"/><circle cx="294.24" cy="170.83" r="0.87"/><circle cx="320.6" cy="118.66" r="1.09"/><circle cx="281.65" cy="151.66" r="1.08"/><circle cx="282.53" cy="156.42" r="0.96"/><circle cx="308.14" cy="180.17" r="0.88"/><circle cx="324.6" cy="134.31" r="1.1"/><circle cx="314.83" cy="162.33" r="1.08"/><circle cx="325.92" cy="150.99" r="1.1"/><circle cx="327.28" cy="125.39" r="1.1"/><circle cx="272.53" cy="171.73" r="0.93"/><circle cx="296.69" cy="126.71" r="1.04"/><circle cx="271" cy="135.01" r="0.99"/><circle cx="318.84" cy="182.51" r="0.97"/><circle cx="323.92" cy="152.64" r="0.97"/><circle cx="287.22" cy="148.51" r="1.05"/><circle cx="273.28" cy="152.21" r="1.15"/><circle cx="277.25" cy="127.89" r="0.99"/><circle cx="288.19" cy="120.75" r="0.96"/><circle cx="325.06" cy="162.24" r="1.04"/><circle cx="318.72" cy="136.81" r="1.04"/><circle cx="298.85" cy="187.43" r="0.97"/><circle cx="304.11" cy="152.99" r="1.04"/><circle cx="302.33" cy="167.28" r="1.05"/><circle cx="316.89" cy="144" r="1.07"/><circle cx="269.31" cy="120.83" r="0.9"/><circle cx="329.18" cy="169.16" r="1.05"/><circle cx="301.57" cy="154.04" r="0.98"/><circle cx="311.02" cy="161.71" r="1.11"/><circle cx="284.95" cy="122.85" r="1.04"/><circle cx="275.07" cy="173.08" r="1.09"/><circle cx="306.72" cy="174.13" r="1.09"/><circle cx="288.3" cy="183.52" r="0.91"/><circle cx="309.64" cy="127.57" r="0.87"/><circle cx="304.53" cy="142.05" r="1.08"/><circle cx="265.92" cy="125.8" r="0.87"/><circle cx="261.41" cy="188.68" r="1.13"/><circle cx="275.73" cy="131.3" r="1.06"/><circle cx="289.77" cy="173.6" r="0.98"/><circle cx="263.25" cy="177.06" r="1.05"/><circle cx="332.69" cy="156.81" r="0.89"/><circle cx="273.76" cy="139.64" r="1.04"/><circle cx="322.57" cy="116.34" r="1.13"/><circle cx="261.79" cy="121.16" r="0.85"/><circle cx="314.06" cy="165.11" r="1.13"/><circle cx="268.8" cy="163.11" r="0.94"/><circle cx="266.75" cy="129.17" r="0.97"/><circle cx="304.68" cy="130.5" r="1.13"/><circle cx="268.75" cy="123.82" r="1.09"/><circle cx="302.77" cy="184.07" r="0.97"/><circle cx="332.72" cy="141.31" r="1.14"/><circle cx="307.93" cy="137.13" r="0.86"/><circle cx="268.21" cy="151.04" r="1.05"/><circle cx="269.62" cy="154.33" r="1"/><circle cx="306.8" cy="152.65" r="1.12"/><circle cx="322.51" cy="170.16" r="0.86"/><circle cx="321.36" cy="158.18" r="0.95"/><circle cx="314.06" cy="140.14" r="0.99"/><circle cx="292.83" cy="123.58" r="0.87"/><circle cx="287.72" cy="127.03" r="1.04"/><circle cx="285.63" cy="134.92" r="1.1"/><circle cx="288.56" cy="188.05" r="1.12"/><circle cx="332.57" cy="174.36" r="0.89"/><circle cx="302.37" cy="171.63" r="1"/><circle cx="271.27" cy="186.03" r="1.15"/><circle cx="323.24" cy="167.33" r="0.87"/><circle cx="311.68" cy="177.28" r="1.06"/><circle cx="287.19" cy="179.09" r="0.94"/><circle cx="326.18" cy="127.79" r="1.12"/><circle cx="284.1" cy="172.45" r="1.03"/><circle cx="304.4" cy="119.71" r="1.12"/><circle cx="332.99" cy="178" r="0.87"/><circle cx="293.31" cy="128.52" r="1.03"/><circle cx="324.44" cy="144.6" r="0.98"/><circle cx="311.23" cy="151.2" r="0.88"/><circle cx="282.07" cy="119.73" r="0.97"/><circle cx="260.99" cy="169.06" r="1.07"/><circle cx="309.17" cy="167.63" r="1.02"/><circle cx="316.18" cy="120.91" r="1.03"/><circle cx="288.34" cy="130.05" r="0.93"/><circle cx="322.47" cy="122.1" r="1"/><circle cx="265.67" cy="122.21" r="0.98"/><circle cx="316.81" cy="160.64" r="1.12"/><circle cx="279.58" cy="116.78" r="1.11"/><circle cx="296.46" cy="123.36" r="0.98"/><circle cx="317.37" cy="156.87" r="1"/><circle cx="332.26" cy="120.65" r="0.94"/><circle cx="314.02" cy="137.31" r="1.02"/><circle cx="290.65" cy="126.03" r="0.89"/><circle cx="329.81" cy="183.6" r="1.14"/><circle cx="320.75" cy="154.8" r="0.97"/><circle cx="282.33" cy="163.54" r="0.85"/><circle cx="271.45" cy="161" r="0.94"/><circle cx="265.22" cy="117.09" r="1.13"/><circle cx="311.3" cy="172.88" r="0.94"/><circle cx="322.21" cy="164.07" r="0.97"/><circle cx="315.9" cy="132.36" r="1.14"/><circle cx="265.5" cy="167.56" r="1.09"/><circle cx="281.97" cy="125.58" r="0.96"/><circle cx="323.21" cy="180.98" r="0.9"/><circle cx="326.04" cy="187.9" r="0.97"/><circle cx="328.54" cy="188.68" r="0.96"/><circle cx="261.79" cy="171.9" r="1.12"/><circle cx="301.75" cy="132.21" r="1.01"/><circle cx="273.16" cy="148.42" r="1.13"/><circle cx="307.25" cy="126.15" r="1.15"/><circle cx="318.61" cy="174.76" r="1.11"/><circle cx="276.25" cy="176.72" r="0.97"/><circle cx="298.96" cy="128.7" r="0.97"/><circle cx="317.47" cy="140.69" r="1.01"/><circle cx="297.46" cy="118.37" r="1.05"/><circle cx="289.13" cy="136.81" r="1.1"/><circle cx="305.25" cy="164.44" r="1.1"/><circle cx="305.21" cy="134.75" r="0.94"/><circle cx="261.17" cy="186.09" r="1.07"/><circle cx="323.15" cy="160.33" r="0.96"/><circle cx="332.68" cy="162.06" r="1.08"/><circle cx="268.64" cy="167.9" r="0.85"/><circle cx="321.27" cy="131.55" r="1.1"/><circle cx="265.83" cy="134.06" r="1.06"/><circle cx="324.43" cy="178.33" r="0.89"/><circle cx="331.12" cy="180.47" r="0.93"/><circle cx="291.12" cy="132.09" r="0.94"/><circle cx="293.93" cy="157.12" r="1"/><circle cx="293.75" cy="184.18" r="1.12"/><circle cx="316.05" cy="185.53" r="1.14"/><circle cx="329.72" cy="149.91" r="1.03"/><circle cx="331.08" cy="144.97" r="0.88"/><circle cx="325.09" cy="119.8" r="1.14"/><circle cx="263.61" cy="127.22" r="1.14"/><circle cx="295.43" cy="160.78" r="0.88"/><circle cx="278.38" cy="188.74" r="1.05"/><circle cx="284.55" cy="185.01" r="1.05"/><circle cx="260.58" cy="131.94" r="1.05"/><circle cx="284.67" cy="143.05" r="1.07"/><circle cx="298.12" cy="182.32" r="0.85"/><circle cx="303.94" cy="177.61" r="0.94"/><circle cx="304.17" cy="127.14" r="0.95"/><circle cx="293.92" cy="125.91" r="1.04"/><circle cx="269.3" cy="138.04" r="0.88"/><circle cx="283.01" cy="167.43" r="0.93"/><circle cx="308.31" cy="165.08" r="0.9"/><circle cx="308.79" cy="156.33" r="0.86"/><circle cx="275.86" cy="170.08" r="0.99"/><circle cx="326.97" cy="146.06" r="0.91"/><circle cx="331.53" cy="123.19" r="0.99"/><circle cx="274.87" cy="134.03" r="0.91"/><circle cx="308.2" cy="161.92" r="1.09"/><circle cx="283.62" cy="140.42" r="0.88"/><circle cx="299.7" cy="177.26" r="1.08"/><circle cx="296.15" cy="165.65" r="1.05"/><circle cx="296.28" cy="168.95" r="0.9"/><circle cx="321.94" cy="184.38" r="0.96"/><circle cx="302.63" cy="123.52" r="0.96"/><circle cx="281.63" cy="178.92" r="0.99"/><circle cx="297.99" cy="144.96" r="1.05"/><circle cx="307.12" cy="185.46" r="0.85"/><circle cx="333.35" cy="135.08" r="0.9"/><circle cx="316.5" cy="167.77" r="1.06"/><circle cx="275.27" cy="145.24" r="0.88"/><circle cx="278.53" cy="161.45" r="1.1"/><circle cx="301.22" cy="162.24" r="0.96"/><circle cx="264.15" cy="141.37" r="0.86"/><circle cx="276.24" cy="182.77" r="1.08"/><circle cx="265.87" cy="149.3" r="0.92"/><circle cx="267.39" cy="175.58" r="1.15"/><circle cx="309.38" cy="147.79" r="1.13"/><circle cx="270.85" cy="146.45" r="1.12"/><circle cx="326.24" cy="165.24" r="1.12"/><circle cx="304.29" cy="149.95" r="0.87"/><circle cx="290.52" cy="176.16" r="0.86"/><circle cx="260.9" cy="117.26" r="0.97"/><circle cx="289.71" cy="155.16" r="0.98"/><circle cx="333.12" cy="150.82" r="0.97"/><circle cx="287.35" cy="124.21" r="1.03"/><circle cx="324.45" cy="124.85" r="1.09"/><circle cx="292.76" cy="150.35" r="1.09"/><circle cx="291.35" cy="167.19" r="1.13"/><circle cx="312.84" cy="119.14" r="1.05"/><circle cx="332.67" cy="165.26" r="1.11"/><circle cx="280.29" cy="159.4" r="0.88"/><circle cx="270.39" cy="182.39" r="0.86"/><circle cx="296.22" cy="147.96" r="0.99"/><circle cx="326.32" cy="156.79" r="1.11"/><circle cx="291.38" cy="187.21" r="0.97"/><circle cx="306.53" cy="182.36" r="0.88"/><circle cx="273.9" cy="184.02" r="0.89"/><circle cx="311.93" cy="147.7" r="0.92"/><circle cx="260.54" cy="159.29" r="1.11"/><circle cx="318.72" cy="152.81" r="0.95"/><circle cx="304.87" cy="161.31" r="1.11"/><circle cx="324.27" cy="130.93" r="1.13"/><circle cx="324.79" cy="139.48" r="1.08"/><circle cx="316.29" cy="128.23" r="1.13"/><circle cx="313.18" cy="131.47" r="0.93"/><circle cx="300.89" cy="156.99" r="0.91"/><circle cx="261.23" cy="125.7" r="0.92"/><circle cx="260.49" cy="179.43" r="0.86"/><circle cx="272.17" cy="129.24" r="1.13"/><circle cx="322.02" cy="150.83" r="0.91"/><circle cx="292.55" cy="139.83" r="1.04"/><circle cx="279" cy="181.09" r="0.94"/><circle cx="282.4" cy="146.87" r="1.01"/><circle cx="308.14" cy="130.54" r="0.98"/><circle cx="329.43" cy="157.38" r="1.07"/><circle cx="268.68" cy="141.75" r="0.91"/><circle cx="263" cy="157.95" r="0.94"/><circle cx="309.96" cy="182.26" r="0.89"/><circle cx="313.7" cy="157.55" r="0.95"/><circle cx="294.28" cy="173.44" r="1.1"/><circle cx="298.15" cy="153.45" r="1.14"/><circle cx="260.56" cy="162.94" r="0.85"/><circle cx="275.11" cy="125.13" r="1.1"/><circle cx="311.39" cy="166.22" r="1.07"/><circle cx="306.35" cy="117.44" r="0.87"/><circle cx="286.76" cy="174.86" r="0.9"/><circle cx="264.52" cy="188.45" r="1.11"/><circle cx="281.79" cy="138.09" r="0.91"/><circle cx="262.32" cy="165.72" r="1.12"/><circle cx="262.25" cy="144" r="1.01"/><circle cx="266.53" cy="139.62" r="1.15"/><circle cx="291.12" cy="134.89" r="1"/><circle cx="311.58" cy="125.25" r="0.89"/><circle cx="290.37" cy="179.14" r="1.03"/><circle cx="332.71" cy="129.39" r="0.98"/><circle cx="302" cy="144.05" r="0.87"/><circle cx="330.69" cy="127.19" r="1.1"/><circle cx="285.67" cy="154.43" r="1.12"/><circle cx="266.43" cy="155.59" r="1.14"/><circle cx="295.19" cy="142.73" r="1.04"/><circle cx="272" cy="188.75" r="1.02"/><circle cx="274.68" cy="157.98" r="0.91"/><circle cx="323.81" cy="156.17" r="1.14"/><circle cx="271.47" cy="167.23" r="1.07"/><circle cx="294.71" cy="152.79" r="1.05"/><circle cx="278.13" cy="164.7" r="1.06"/><circle cx="299.74" cy="184.76" r="1.1"/><circle cx="263.77" cy="162.85" r="0.95"/><circle cx="279.25" cy="121.55" r="0.88"/><circle cx="300.13" cy="147.96" r="1.15"/><circle cx="302.98" cy="174.94" r="0.86"/><circle cx="270.46" cy="156.97" r="0.93"/><circle cx="260.67" cy="147.32" r="1"/><circle cx="305.28" cy="123.45" r="0.86"/><circle cx="275.35" cy="162.35" r="0.94"/><circle cx="299.16" cy="131.61" r="1.11"/><circle cx="271.68" cy="141.14" r="1.04"/><circle cx="268.42" cy="132.14" r="1.03"/><circle cx="304.96" cy="170.9" r="0.86"/><circle cx="270.69" cy="150.31" r="0.98"/><circle cx="302.14" cy="187.67" r="0.89"/><circle cx="320.22" cy="148.67" r="0.97"/><circle cx="275.88" cy="137.63" r="0.97"/><circle cx="314.05" cy="124.03" r="0.98"/><circle cx="282" cy="170.84" r="0.94"/><circle cx="300.25" cy="173.59" r="1.08"/><circle cx="327.46" cy="117.26" r="0.99"/><circle cx="264.99" cy="136.57" r="1.12"/><circle cx="279.3" cy="130.77" r="0.95"/><circle cx="304.32" cy="180.56" r="0.89"/><circle cx="293.36" cy="165.15" r="0.96"/><circle cx="279.27" cy="146.83" r="1.11"/><circle cx="273.64" cy="120.5" r="0.96"/><circle cx="320.6" cy="177.65" r="1.1"/><circle cx="307.8" cy="121.8" r="1.06"/><circle cx="306.47" cy="157.51" r="0.93"/><circle cx="296.23" cy="177.52" r="0.91"/><circle cx="312.48" cy="180.52" r="0.88"/><circle cx="307.14" cy="145.58" r="0.98"/><circle cx="312.04" cy="154.77" r="1.06"/><circle cx="312.12" cy="170.38" r="0.94"/><circle cx="322.95" cy="137.46" r="1.14"/><circle cx="301.79" cy="128.2" r="0.85"/><circle cx="266.96" cy="119.6" r="1.09"/><circle cx="315.05" cy="146.5" r="0.9"/><circle cx="331.49" cy="132.23" r="1.15"/><circle cx="291.45" cy="182.71" r="0.88"/><circle cx="311.1" cy="184.64" r="1.13"/><circle cx="319.14" cy="133.67" r="0.97"/><circle cx="316.47" cy="188.82" r="0.94"/><circle cx="306.18" cy="188.4" r="0.86"/><circle cx="301.57" cy="150.94" r="0.92"/><circle cx="295.71" cy="187.36" r="0.96"/><circle cx="284.65" cy="137.43" r="1.13"/><circle cx="326.61" cy="153.51" r="1.14"/><circle cx="268.93" cy="116.89" r="0.87"/><circle cx="284.56" cy="128.38" r="1.02"/><circle cx="271.96" cy="117.66" r="0.86"/><circle cx="285.58" cy="119.08" r="0.88"/><circle cx="330.6" cy="176.46" r="1.03"/><circle cx="315.06" cy="180.67" r="1.01"/><circle cx="297.36" cy="174.49" r="1.12"/><circle cx="333.18" cy="125.9" r="1.12"/><circle cx="278.8" cy="137.98" r="0.9"/><circle cx="270.58" cy="126.23" r="1.04"/><circle cx="271.12" cy="174.67" r="1.09"/><circle cx="278.03" cy="174.51" r="1.08"/><circle cx="261.11" cy="155.53" r="1.02"/><circle cx="268.77" cy="178.29" r="1"/><circle cx="274.66" cy="187.28" r="1.02"/><circle cx="293.93" cy="132.24" r="0.97"/><circle cx="278.9" cy="177.13" r="1.02"/><circle cx="264.13" cy="119.77" r="1.12"/><circle cx="312.73" cy="116.51" r="0.95"/><circle cx="289.21" cy="145.46" r="0.98"/><circle cx="330.05" cy="163.7" r="0.98"/><circle cx="297.55" cy="162.78" r="1.11"/><circle cx="302.01" cy="159.34" r="0.92"/><circle cx="294.83" cy="117.19" r="0.98"/><circle cx="329.79" cy="119.3" r="1.08"/><circle cx="319.67" cy="145.59" r="0.97"/><circle cx="318.48" cy="186.9" r="1.11"/><circle cx="289.99" cy="147.97" r="1.01"/><circle cx="299.34" cy="137.6" r="0.88"/><circle cx="305.94" cy="168.17" r="0.96"/><circle cx="278" cy="156.74" r="0.89"/><circle cx="329.28" cy="171.99" r="0.98"/><circle cx="263.38" cy="124.22" r="0.96"/><circle cx="276.89" cy="142.91" r="0.95"/><circle cx="272.7" cy="144.43" r="1.1"/><circle cx="305.34" cy="138.36" r="1.12"/><circle cx="324.39" cy="172.17" r="1.08"/><circle cx="297.48" cy="157.84" r="1.08"/><circle cx="309.02" cy="143.72" r="1.12"/><circle cx="261.13" cy="140" r="1.13"/><circle cx="291.61" cy="170.42" r="0.9"/><circle cx="319.7" cy="129.32" r="1.12"/><circle cx="285.7" cy="170.38" r="0.9"/><circle cx="304.55" cy="186.33" r="0.93"/></g>
<rect x="196.4" y="200.1" width="75.7" height="75.7" fill="#390149"/>
<path d="M255.71 210.76h.9v.9h-.9zM268.7 269.28h.9v.9h-.9zM196.56 247.37h.9v.9h-.9zM265.78 240.25h.9v.9h-.9zM236.74 243.69h.9v.9h-.9zM247.45 271.1h.9v.9h-.9zM202.71 217.52h.9v.9h-.9zM196.98 205.11h.9v.9h-.9zM211.64 267.08h.9v.9h-.9zM220.13 244.76h.9v.9h-.9zM219.95 273.45h.9v.9h-.9zM210.96 229.45h.9v.9h-.9zM224.21 216h.9v.9h-.9zM202.08 229.16h.9v.9h-.9zM211.64 201.89h.9v.9h-.9zM262.8 225.61h.9v.9h-.9zM232.32 251.32h.9v.9h-.9zM223.49 210.55h.9v.9h-.9zM244.39 229.71h.9v.9h-.9zM213.19 213.95h.9v.9h-.9zM215.72 217.85h.9v.9h-.9zM235.59 227.77h.9v.9h-.9zM269.07 215.28h.9v.9h-.9zM266.88 225.07h.9v.9h-.9zM232.7 271.33h.9v.9h-.9zM254.94 270.4h.9v.9h-.9zM236.85 223.74h.9v.9h-.9zM247.05 250.99h.9v.9h-.9zM199.66 208.1h.9v.9h-.9zM267.33 253.64h.9v.9h-.9zM258.1 214.1h.9v.9h-.9zM269.44 222.48h.9v.9h-.9zM207.03 226.81h.9v.9h-.9zM222.84 204.47h.9v.9h-.9zM259.87 264.72h.9v.9h-.9zM211.32 241.02h.9v.9h-.9zM261.67 228.2h.9v.9h-.9zM234.63 218.26h.9v.9h-.9zM231.55 223.32h.9v.9h-.9zM199.02 266.99h.9v.9h-.9zM249.59 224.4h.9v.9h-.9zM211.28 205h.9v.9h-.9zM263.85 216.18h.9v.9h-.9zM263.68 234.01h.9v.9h-.9zM266.33 206.6h.9v.9h-.9zM260.52 272.82h.9v.9h-.9zM249.72 210.07h.9v.9h-.9zM271.16 259.6h.9v.9h-.9zM212.26 272.16h.9v.9h-.9zM203 209.78h.9v.9h-.9zM197.67 244.1h.9v.9h-.9zM226.76 206.51h.9v.9h-.9zM233.43 265.52h.9v.9h-.9zM203.44 247.55h.9v.9h-.9zM209.16 238.05h.9v.9h-.9zM222.18 220.62h.9v.9h-.9zM229.72 251.45h.9v.9h-.9zM198.03 214.69h.9v.9h-.9zM244.54 210.09h.9v.9h-.9zM216.04 237.38h.9v.9h-.9zM253.13 264.29h.9v.9h-.9zM220.24 248.95h.9v.9h-.9zM246.8 267.1h.9v.9h-.9zM212.29 237h.9v.9h-.9zM252.18 202.02h.9v.9h-.9zM259.46 252.67h.9v.9h-.9zM254.67 242.22h.9v.9h-.9zM207.76 209.95h.9v.9h-.9zM216.9 227.47h.9v.9h-.9zM208.66 248.35h.9v.9h-.9zM263.44 250h.9v.9h-.9zM267.24 221.15h.9v.9h-.9zM223.03 227.81h.9v.9h-.9zM255.85 221.17h.9v.9h-.9zM227.69 235.2h.9v.9h-.9zM271.07 224.59h.9v.9h-.9zM256.42 228.92h.9v.9h-.9zM198.16 238.96h.9v.9h-.9zM218.44 200.29h.9v.9h-.9zM251.21 240.79h.9v.9h-.9zM244.15 242.41h.9v.9h-.9zM225.05 234.19h.9v.9h-.9zM232.18 268.23h.9v.9h-.9zM202.82 225.17h.9v.9h-.9zM239.36 243.37h.9v.9h-.9zM251 249.08h.9v.9h-.9zM240.57 257.63h.9v.9h-.9zM205.49 257.76h.9v.9h-.9zM238.33 205.04h.9v.9h-.9zM212.05 249.66h.9v.9h-.9zM226.81 269.02h.9v.9h-.9zM265.1 263.46h.9v.9h-.9zM201.94 257.71h.9v.9h-.9zM223.4 264.38h.9v.9h-.9zM201.76 222.01h.9v.9h-.9zM238.79 210.46h.9v.9h-.9zM248.48 238.2h.9v.9h-.9zM229.9 202.65h.9v.9h-.9zM249.62 253.17h.9v.9h-.9zM264.63 270.02h.9v.9h-.9zM224.25 247.87h.9v.9h-.9zM242.01 204.04h.9v.9h-.9zM250.69 220.37h.9v.9h-.9zM228.33 246.2h.9v.9h-.9zM234.28 220.92h.9v.9h-.9zM261.86 207.11h.9v.9h-.9zM241.64 213.87h.9v.9h-.9zM249.93 265.75h.9v.9h-.9zM253.87 248.68h.9v.9h-.9zM252.47 267.73h.9v.9h-.9zM212.77 254.26h.9v.9h-.9zM209.97 234.35h.9v.9h-.9zM259.36 204.98h.9v.9h-.9zM268.09 256.28h.9v.9h-.9zM253.56 245.23h.9v.9h-.9zM241.91 249.22h.9v.9h-.9zM240.45 223.61h.9v.9h-.9zM199.71 270.61h.9v.9h-.9zM268.21 241.59h.9v.9h-.9zM250.67 259.74h.9v.9h-.9zM204.07 243.32h.9v.9h-.9zM265.51 212.19h.9v.9h-.9zM262.06 258.34h.9v.9h-.9zM224.6 243.14h.9v.9h-.9zM236.6 201.57h.9v.9h-.9zM206.73 236.57h.9v.9h-.9zM231.07 205.27h.9v.9h-.9zM217.99 233.02h.9v.9h-.9zM199.13 202.57h.9v.9h-.9zM202.29 261.36h.9v.9h-.9zM257.86 262.78h.9v.9h-.9zM233.58 232.8h.9v.9h-.9zM216.36 270.82h.9v.9h-.9zM246.4 260.24h.9v.9h-.9zM198.97 252.98h.9v.9h-.9zM256.62 234.4h.9v.9h-.9zM237.69 232.34h.9v.9h-.9zM263.25 220.07h.9v.9h-.9zM262.56 204.23h.9v.9h-.9zM202.57 212.48h.9v.9h-.9zM270.37 231.02h.9v.9h-.9zM270.7 235.58h.9v.9h-.9zM215.9 213.2h.9v.9h-.9zM247.57 227.07h.9v.9h-.9zM216.2 230.94h.9v.9h-.9zM256.6 205.44h.9v.9h-.9zM214.81 204.09h.9v.9h-.9zM220.18 208.73h.9v.9h-.9zM203.66 264.26h.9v.9h-.9zM205.57 212.28h.9v.9h-.9zM220.54 252.24h.9v.9h-.9zM207.62 265.54h.9v.9h-.9zM239.61 270.36h.9v.9h-.9zM260.73 243.4h.9v.9h-.9zM271.21 245.41h.9v.9h-.9zM258.92 226.44h.9v.9h-.9zM216.8 224h.9v.9h-.9zM245.5 255.72h.9v.9h-.9zM254.05 255.95h.9v.9h-.9zM230.89 230.81h.9v.9h-.9zM202.65 201.14h.9v.9h-.9zM260.66 211.18h.9v.9h-.9zM249.99 274.18h.9v.9h-.9zM237.08 269.16h.9v.9h-.9zM226.55 249.12h.9v.9h-.9zM263.11 260.71h.9v.9h-.9zM231.02 239.13h.9v.9h-.9zM257.05 244.63h.9v.9h-.9zM267.23 266.3h.9v.9h-.9zM197.13 209.15h.9v.9h-.9z" fill="#9a9470" opacity=".42"/>
<path d="M214.4 115.3L226.43 121.82" stroke="#1a1a1a" stroke-width="0.7" fill="none"/>
<path d="M231 124.3L225.33 123.84L227.52 119.8Z" fill="#111"/>
<path d="M296 109.6L289.36 99.01" stroke="#1a1a1a" stroke-width="0.7" fill="none"/>
<path d="M286.6 94.6L291.31 97.78L287.41 100.23Z" fill="#111"/>
<path d="M190.8 228.3L175.82 220.58" stroke="#1a1a1a" stroke-width="0.7" fill="none"/>
<path d="M171.2 218.2L176.88 218.54L174.77 222.63Z" fill="#111"/>
<path d="M78.2 277.4H82.2M75 252.68H82.2M78.2 227.96H82.2M75 203.25H82.2M78.2 178.53H82.2M75 153.81H82.2M78.2 129.09H82.2M75 104.37H82.2M78.2 79.65H82.2M75 54.94H82.2M78.2 30.22H82.2M75 5.5H82.2M82.2 277.4V284.6M90.69 277.4V281.4M99.19 277.4V281.4M107.68 277.4V281.4M116.17 277.4V281.4M124.67 277.4V284.6M133.16 277.4V281.4M141.65 277.4V281.4M150.15 277.4V281.4M158.64 277.4V281.4M167.13 277.4V284.6M175.63 277.4V281.4M184.12 277.4V281.4M192.61 277.4V281.4M201.11 277.4V281.4M209.6 277.4V284.6M218.09 277.4V281.4M226.59 277.4V281.4M235.08 277.4V281.4M243.57 277.4V281.4M252.07 277.4V284.6M260.56 277.4V281.4M269.05 277.4V281.4M277.55 277.4V281.4M286.04 277.4V281.4M294.53 277.4V284.6M303.03 277.4V281.4M311.52 277.4V281.4M320.01 277.4V281.4M328.51 277.4V281.4M337 277.4V284.6" stroke="#3a3a3a" stroke-width=".8" fill="none"/>
<path d="M75 5.5H337.6M78.2 277.4H337.6" stroke="#3a3a3a" stroke-width=".8" fill="none"/>
<path d="M82.2 5.5V284.6" stroke="#a6a6a6" stroke-width="1.9" fill="none"/>
<path d="M336.9 5.5V284.6" stroke="#a2a2a2" stroke-width="1.8" fill="none"/>
<text x="71.6" y="257.38" text-anchor="end" fill="#111" stroke="#111" stroke-width=".22" font-size="13.6">−3</text>
<text x="71.6" y="207.95" text-anchor="end" fill="#111" stroke="#111" stroke-width=".22" font-size="13.6">−2</text>
<text x="71.6" y="158.51" text-anchor="end" fill="#111" stroke="#111" stroke-width=".22" font-size="13.6">−1</text>
<text x="71.6" y="109.07" text-anchor="end" fill="#111" stroke="#111" stroke-width=".22" font-size="13.6">0</text>
<text x="71.6" y="59.64" text-anchor="end" fill="#111" stroke="#111" stroke-width=".22" font-size="13.6">1</text>
<text x="71.6" y="10.2" text-anchor="end" fill="#111" stroke="#111" stroke-width=".22" font-size="13.6">2</text>
<text x="82.2" y="296.7" text-anchor="middle" fill="#111" stroke="#111" stroke-width=".22" font-size="13.6">3.5</text>
<text x="124.67" y="296.7" text-anchor="middle" fill="#111" stroke="#111" stroke-width=".22" font-size="13.6">4.0</text>
<text x="167.13" y="296.7" text-anchor="middle" fill="#111" stroke="#111" stroke-width=".22" font-size="13.6">4.5</text>
<text x="209.6" y="296.7" text-anchor="middle" fill="#111" stroke="#111" stroke-width=".22" font-size="13.6">5.0</text>
<text x="252.07" y="296.7" text-anchor="middle" fill="#111" stroke="#111" stroke-width=".22" font-size="13.6">5.5</text>
<text x="294.53" y="296.7" text-anchor="middle" fill="#111" stroke="#111" stroke-width=".22" font-size="13.6">6.0</text>
<text x="337" y="296.7" text-anchor="middle" fill="#111" stroke="#111" stroke-width=".22" font-size="13.6">6.5</text>
<text x="209.8" y="312.7" text-anchor="middle" fill="#111" stroke="#111" stroke-width=".22" font-size="13.6">ln(t)</text>
<text transform="translate(42.6 142.4) rotate(-90)" text-anchor="middle" fill="#111" stroke="#111" stroke-width=".22" font-size="13.85">ln(-ln(1-Y(t)/Y<tspan font-size="9.5" dy="2.6">eq</tspan><tspan dy="-2.6">))</tspan></text>
<text x="-0.3" y="11.3" text-anchor="start" fill="#111" stroke="#111" stroke-width=".22" font-size="13.9" font-weight="bold">(a)</text>
<path d="M99 27.2h8M103 23.2v8" stroke="#8a6a2c" stroke-width="1.05" fill="none"/>
<path d="M94.8 43.5H111" stroke="#111" stroke-width="1.1" fill="none"/>
<text x="117.2" y="31.4" text-anchor="start" fill="#111" stroke="#111" stroke-width=".22" font-size="13.6">Phase field results</text>
<text x="117.4" y="47.9" text-anchor="start" fill="#111" stroke="#111" stroke-width=".22" font-size="13.6">Fitted line (Slope = 2.010)</text>
<text x="94.4" y="67" text-anchor="start" fill="#fa0007" stroke="#fa0007" stroke-width=".22" font-size="13.6">MAE: 0.050</text>
<defs><clipPath id="cb"><rect x="422.5" y="5.5" width="262.8" height="272.6"/></clipPath></defs>
<path d="M549 167.57L681.3 34.2" stroke="#111" stroke-width="1.15" fill="none"/>
<g clip-path="url(#cb)" fill="none">
<path d="M423.3 213h7.8M427.2 209.1v7.8M454.21 203.4h7.8M458.11 199.5v7.8M472.29 206.3h7.8M476.19 202.4v7.8M485.12 200.3h7.8M489.02 196.4v7.8M495.08 199.96h7.8M498.98 196.06v7.8M503.21 195.65h7.8M507.11 191.75v7.8M510.08 192.58h7.8M513.98 188.68v7.8M516.04 187.94h7.8M519.94 184.04v7.8M521.29 185.66h7.8M525.19 181.76v7.8M525.99 180.34h7.8M529.89 176.44v7.8M530.24 177.55h7.8M534.14 173.65v7.8M534.12 173.8h7.8M538.02 169.9v7.8M537.69 171.06h7.8M541.59 167.16v7.8M541 167.7h7.8M544.9 163.8v7.8M544.07 164.68h7.8M547.97 160.78v7.8M546.95 161.77h7.8M550.85 157.87v7.8M549.66 158.99h7.8M553.56 155.09v7.8M552.21 156.33h7.8M556.11 152.43v7.8M554.62 153.78h7.8M558.52 149.88v7.8M556.9 151.34h7.8M560.8 147.44v7.8M559.08 149.01h7.8M562.98 145.11v7.8M561.16 146.77h7.8M565.06 142.87v7.8M563.14 144.62h7.8M567.04 140.72v7.8M565.04 142.57h7.8M568.94 138.67v7.8M566.86 140.59h7.8M570.76 136.69v7.8M568.61 138.7h7.8M572.51 134.8v7.8M570.29 136.87h7.8M574.19 132.97v7.8M571.91 135.12h7.8M575.81 131.22v7.8M573.48 133.43h7.8M577.38 129.53v7.8M574.99 131.81h7.8M578.89 127.91v7.8M576.45 130.25h7.8M580.35 126.35v7.8M577.87 128.74h7.8M581.77 124.84v7.8M579.24 127.29h7.8M583.14 123.39v7.8M580.57 125.89h7.8M584.47 121.99v7.8M581.86 124.69h7.8M585.76 120.79v7.8M583.12 123.63h7.8M587.02 119.73v7.8M584.34 122.6h7.8M588.24 118.7v7.8M585.53 121.6h7.8M589.43 117.7v7.8M586.69 120.62h7.8M590.59 116.72v7.8M587.82 119.67h7.8M591.72 115.77v7.8M588.92 118.74h7.8M592.82 114.84v7.8M590 117.83h7.8M593.9 113.93v7.8M591.04 116.94h7.8M594.94 113.04v7.8M592.07 116.08h7.8M595.97 112.18v7.8M593.07 115.23h7.8M596.97 111.33v7.8M594.05 114.39h7.8M597.95 110.49v7.8M595.01 113.57h7.8M598.91 109.67v7.8M595.95 112.77h7.8M599.85 108.87v7.8M596.87 111.98h7.8M600.77 108.08v7.8M597.77 111.13h7.8M601.67 107.23v7.8M598.65 110.27h7.8M602.55 106.37v7.8M599.52 109.41h7.8M603.42 105.51v7.8M600.37 108.56h7.8M604.27 104.66v7.8M601.2 107.71h7.8M605.1 103.81v7.8M602.02 106.89h7.8M605.92 102.99v7.8M602.83 106.08h7.8M606.73 102.18v7.8M603.62 105.29h7.8M607.52 101.39v7.8M604.39 104.53h7.8M608.29 100.63v7.8M605.15 103.8h7.8M609.05 99.9v7.8M605.9 103.1h7.8M609.8 99.2v7.8M606.64 102.39h7.8M610.54 98.49v7.8M607.37 101.69h7.8M611.27 97.79v7.8M608.08 101.01h7.8M611.98 97.11v7.8M608.78 100.35h7.8M612.68 96.45v7.8M609.47 99.7h7.8M613.37 95.8v7.8M610.15 99.07h7.8M614.05 95.17v7.8M610.82 98.45h7.8M614.72 94.55v7.8M611.49 97.84h7.8M615.39 93.94v7.8M612.14 97.25h7.8M616.04 93.35v7.8M612.78 96.67h7.8M616.68 92.77v7.8M613.41 96.1h7.8M617.31 92.2v7.8M614.03 95.54h7.8M617.93 91.64v7.8M614.65 95h7.8M618.55 91.1v7.8M615.26 94.46h7.8M619.16 90.56v7.8M615.86 93.93h7.8M619.76 90.03v7.8M616.45 93.42h7.8M620.35 89.52v7.8M617.03 92.91h7.8M620.93 89.01v7.8M617.6 92.41h7.8M621.5 88.51v7.8M618.17 91.91h7.8M622.07 88.01v7.8M618.73 91.43h7.8M622.63 87.53v7.8M619.29 90.95h7.8M623.19 87.05v7.8M619.83 90.53h7.8M623.73 86.63v7.8M620.38 90.13h7.8M624.28 86.23v7.8M620.91 89.73h7.8M624.81 85.83v7.8M621.44 89.34h7.8M625.34 85.44v7.8M621.96 88.95h7.8M625.86 85.05v7.8M622.47 88.57h7.8M626.37 84.67v7.8M622.98 88.19h7.8M626.88 84.29v7.8M623.49 87.82h7.8M627.39 83.92v7.8M623.99 87.44h7.8M627.89 83.54v7.8M624.48 87.08h7.8M628.38 83.18v7.8M624.97 86.71h7.8M628.87 82.81v7.8M625.45 86.35h7.8M629.35 82.45v7.8M625.93 86h7.8M629.83 82.1v7.8M626.4 85.65h7.8M630.3 81.75v7.8M626.87 85.3h7.8M630.77 81.4v7.8M627.33 84.95h7.8M631.23 81.05v7.8M627.78 84.61h7.8M631.68 80.71v7.8M628.24 84.27h7.8M632.14 80.37v7.8M628.69 83.94h7.8M632.59 80.04v7.8M629.13 83.6h7.8M633.03 79.7v7.8M629.57 83.28h7.8M633.47 79.38v7.8M630 82.95h7.8M633.9 79.05v7.8M630.44 82.63h7.8M634.34 78.73v7.8M630.86 82.31h7.8M634.76 78.41v7.8M631.28 82h7.8M635.18 78.1v7.8M631.7 81.69h7.8M635.6 77.79v7.8M632.12 81.38h7.8M636.02 77.48v7.8M632.53 81.08h7.8M636.43 77.18v7.8M632.94 80.78h7.8M636.84 76.88v7.8M633.34 80.48h7.8M637.24 76.58v7.8M633.74 80.19h7.8M637.64 76.29v7.8M634.14 79.9h7.8M638.04 76v7.8M634.53 79.61h7.8M638.43 75.71v7.8M634.92 79.32h7.8M638.82 75.42v7.8M635.31 79.04h7.8M639.21 75.14v7.8M635.69 78.76h7.8M639.59 74.86v7.8M636.07 78.49h7.8M639.97 74.59v7.8M636.44 78.22h7.8M640.34 74.32v7.8M636.82 77.95h7.8M640.72 74.05v7.8M637.19 77.68h7.8M641.09 73.78v7.8M637.55 77.4h7.8M641.45 73.5v7.8M637.92 77.11h7.8M641.82 73.21v7.8M638.28 76.83h7.8M642.18 72.93v7.8M638.64 76.55h7.8M642.54 72.65v7.8M638.99 76.28h7.8M642.89 72.38v7.8M639.35 76.01h7.8M643.25 72.11v7.8M639.7 75.74h7.8M643.6 71.84v7.8M640.04 75.47h7.8M643.94 71.57v7.8M640.39 75.21h7.8M644.29 71.31v7.8M640.73 74.95h7.8M644.63 71.05v7.8M641.07 74.69h7.8M644.97 70.79v7.8M641.4 74.44h7.8M645.3 70.54v7.8M641.74 74.18h7.8M645.64 70.28v7.8M642.07 73.93h7.8M645.97 70.03v7.8M642.4 73.68h7.8M646.3 69.78v7.8M642.73 73.44h7.8M646.63 69.54v7.8M643.05 73.2h7.8M646.95 69.3v7.8M643.37 72.96h7.8M647.27 69.06v7.8M643.69 72.72h7.8M647.59 68.82v7.8M644.01 72.48h7.8M647.91 68.58v7.8M644.33 72.25h7.8M648.23 68.35v7.8M644.64 72.01h7.8M648.54 68.11v7.8M644.95 71.78h7.8M648.85 67.88v7.8M645.26 71.56h7.8M649.16 67.66v7.8M645.56 71.33h7.8M649.46 67.43v7.8M645.87 71.11h7.8M649.77 67.21v7.8M646.17 70.89h7.8M650.07 66.99v7.8M646.47 70.67h7.8M650.37 66.77v7.8M646.77 70.45h7.8M650.67 66.55v7.8M647.07 70.24h7.8M650.97 66.34v7.8M647.36 70.02h7.8M651.26 66.12v7.8M647.65 69.81h7.8M651.55 65.91v7.8M647.94 69.6h7.8M651.84 65.7v7.8M648.23 69.39h7.8M652.13 65.49v7.8M648.52 69.19h7.8M652.42 65.29v7.8M648.8 68.98h7.8M652.7 65.08v7.8M649.09 68.78h7.8M652.99 64.88v7.8M649.37 68.58h7.8M653.27 64.68v7.8M649.65 68.38h7.8M653.55 64.48v7.8M649.93 68.18h7.8M653.83 64.28v7.8M650.2 67.99h7.8M654.1 64.09v7.8M650.48 67.8h7.8M654.38 63.9v7.8M650.75 67.6h7.8M654.65 63.7v7.8M651.02 67.42h7.8M654.92 63.52v7.8M651.29 67.23h7.8M655.19 63.33v7.8M651.56 67.05h7.8M655.46 63.15v7.8M651.82 66.87h7.8M655.72 62.97v7.8M652.09 66.68h7.8M655.99 62.78v7.8M652.35 66.51h7.8M656.25 62.61v7.8M652.61 66.33h7.8M656.51 62.43v7.8M652.87 66.15h7.8M656.77 62.25v7.8M653.13 65.98h7.8M657.03 62.08v7.8M653.39 65.8h7.8M657.29 61.9v7.8M653.64 65.63h7.8M657.54 61.73v7.8M653.9 65.46h7.8M657.8 61.56v7.8M654.15 65.29h7.8M658.05 61.39v7.8M654.4 65.12h7.8M658.3 61.22v7.8M654.65 64.96h7.8M658.55 61.06v7.8M654.9 64.79h7.8M658.8 60.89v7.8M655.15 64.63h7.8M659.05 60.73v7.8M655.39 64.46h7.8M659.29 60.56v7.8M655.64 64.3h7.8M659.54 60.4v7.8M655.88 64.14h7.8M659.78 60.24v7.8M656.12 63.98h7.8M660.02 60.08v7.8M656.36 63.83h7.8M660.26 59.93v7.8M656.6 63.67h7.8M660.5 59.77v7.8M656.84 63.51h7.8M660.74 59.61v7.8M657.08 63.36h7.8M660.98 59.46v7.8M657.31 63.21h7.8M661.21 59.31v7.8M657.55 63.05h7.8M661.45 59.15v7.8M657.78 62.9h7.8M661.68 59v7.8M658.01 62.75h7.8M661.91 58.85v7.8M658.24 62.6h7.8M662.14 58.7v7.8M658.47 62.45h7.8M662.37 58.55v7.8M658.7 62.31h7.8M662.6 58.41v7.8M658.93 62.16h7.8M662.83 58.26v7.8M659.15 62.01h7.8M663.05 58.11v7.8M659.38 61.87h7.8M663.28 57.97v7.8M659.6 61.73h7.8M663.5 57.83v7.8M659.82 61.58h7.8M663.72 57.68v7.8M660.04 61.44h7.8M663.94 57.54v7.8M660.26 61.3h7.8M664.16 57.4v7.8M660.48 61.16h7.8M664.38 57.26v7.8M660.7 61.02h7.8M664.6 57.12v7.8M660.92 60.88h7.8M664.82 56.98v7.8M661.13 60.75h7.8M665.03 56.85v7.8M661.35 60.61h7.8M665.25 56.71v7.8M661.56 60.47h7.8M665.46 56.57v7.8M661.78 60.34h7.8M665.68 56.44v7.8M661.99 60.2h7.8M665.89 56.3v7.8M662.2 60.07h7.8M666.1 56.17v7.8M662.41 59.94h7.8M666.31 56.04v7.8M662.62 59.81h7.8M666.52 55.91v7.8M662.83 59.67h7.8M666.73 55.77v7.8M663.03 59.54h7.8M666.93 55.64v7.8M663.24 59.41h7.8M667.14 55.51v7.8M663.44 59.28h7.8M667.34 55.38v7.8M663.65 59.16h7.8M667.55 55.26v7.8M663.85 59.03h7.8M667.75 55.13v7.8M664.05 58.9h7.8M667.95 55v7.8M664.25 58.77h7.8M668.15 54.87v7.8M664.46 58.65h7.8M668.36 54.75v7.8M664.65 58.52h7.8M668.55 54.62v7.8M664.85 58.4h7.8M668.75 54.5v7.8M665.05 58.28h7.8M668.95 54.38v7.8M665.25 58.15h7.8M669.15 54.25v7.8M665.44 58.03h7.8M669.34 54.13v7.8M665.64 57.91h7.8M669.54 54.01v7.8M665.83 57.79h7.8M669.73 53.89v7.8M666.03 57.66h7.8M669.93 53.76v7.8M666.22 57.54h7.8M670.12 53.64v7.8M666.41 57.43h7.8M670.31 53.53v7.8M666.6 57.31h7.8M670.5 53.41v7.8M666.79 57.2h7.8M670.69 53.3v7.8M666.98 57.09h7.8M670.88 53.19v7.8M667.17 56.98h7.8M671.07 53.08v7.8M667.36 56.87h7.8M671.26 52.97v7.8M667.55 56.75h7.8M671.45 52.85v7.8M667.73 56.64h7.8M671.63 52.74v7.8M667.92 56.53h7.8M671.82 52.63v7.8M668.1 56.43h7.8M672 52.53v7.8M668.29 56.32h7.8M672.19 52.42v7.8M668.47 56.21h7.8M672.37 52.31v7.8M668.65 56.1h7.8M672.55 52.2v7.8M668.83 55.99h7.8M672.73 52.09v7.8M669.01 55.89h7.8M672.91 51.99v7.8M669.19 55.78h7.8M673.09 51.88v7.8M669.37 55.68h7.8M673.27 51.78v7.8M669.55 55.57h7.8M673.45 51.67v7.8M669.73 55.47h7.8M673.63 51.57v7.8M669.91 55.37h7.8M673.81 51.47v7.8M670.08 55.26h7.8M673.98 51.36v7.8M670.26 55.16h7.8M674.16 51.26v7.8M670.44 55.06h7.8M674.34 51.16v7.8M670.61 54.96h7.8M674.51 51.06v7.8M670.78 54.85h7.8M674.68 50.95v7.8M670.96 54.75h7.8M674.86 50.85v7.8M671.13 54.65h7.8M675.03 50.75v7.8M671.3 54.55h7.8M675.2 50.65v7.8M671.47 54.46h7.8M675.37 50.56v7.8M671.64 54.36h7.8M675.54 50.46v7.8M671.81 54.26h7.8M675.71 50.36v7.8M671.98 54.16h7.8M675.88 50.26v7.8M672.15 54.06h7.8M676.05 50.16v7.8M672.32 53.97h7.8M676.22 50.07v7.8M672.49 53.87h7.8M676.39 49.97v7.8M672.65 53.78h7.8M676.55 49.88v7.8M672.82 53.68h7.8M676.72 49.78v7.8M672.98 53.59h7.8M676.88 49.69v7.8M673.15 53.49h7.8M677.05 49.59v7.8M673.31 53.4h7.8M677.21 49.5v7.8M673.48 53.3h7.8M677.38 49.4v7.8M673.64 53.21h7.8M677.54 49.31v7.8M673.8 53.12h7.8M677.7 49.22v7.8M673.97 53.03h7.8M677.87 49.13v7.8M674.13 52.93h7.8M678.03 49.03v7.8M674.29 52.84h7.8M678.19 48.94v7.8M674.45 52.75h7.8M678.35 48.85v7.8M674.61 52.66h7.8M678.51 48.76v7.8M674.77 52.57h7.8M678.67 48.67v7.8M674.92 52.48h7.8M678.82 48.58v7.8M675.08 52.39h7.8M678.98 48.49v7.8M675.24 52.3h7.8M679.14 48.4v7.8" stroke="#e9a9c8" stroke-width="0.5"/>
<path d="M423.3 211.7h7.8M427.2 207.8v7.8M454.21 208.4h7.8M458.11 204.5v7.8M472.29 211.5h7.8M476.19 207.6v7.8M485.12 211.5h7.8M489.02 207.6v7.8M495.08 209.73h7.8M498.98 205.83v7.8M503.21 203.37h7.8M507.11 199.47v7.8M510.08 203.48h7.8M513.98 199.58v7.8M516.04 197.61h7.8M519.94 193.71v7.8M521.29 195.04h7.8M525.19 191.14v7.8M525.99 190.28h7.8M529.89 186.38v7.8M530.24 186.77h7.8M534.14 182.87v7.8M534.12 183.37h7.8M538.02 179.47v7.8M537.69 180.34h7.8M541.59 176.44v7.8M541 176.85h7.8M544.9 172.95v7.8M544.07 173.87h7.8M547.97 169.97v7.8M546.95 171.04h7.8M550.85 167.14v7.8M549.66 168.32h7.8M553.56 164.42v7.8M552.21 165.73h7.8M556.11 161.83v7.8M554.62 163.24h7.8M558.52 159.34v7.8M556.9 160.86h7.8M560.8 156.96v7.8M559.08 158.58h7.8M562.98 154.68v7.8M561.16 156.4h7.8M565.06 152.5v7.8M563.14 154.31h7.8M567.04 150.41v7.8M565.04 152.3h7.8M568.94 148.4v7.8M566.86 150.37h7.8M570.76 146.47v7.8M568.61 148.52h7.8M572.51 144.62v7.8M570.29 146.74h7.8M574.19 142.84v7.8M571.91 145.03h7.8M575.81 141.13v7.8M573.48 143.38h7.8M577.38 139.48v7.8M574.99 141.8h7.8M578.89 137.9v7.8M576.45 140.27h7.8M580.35 136.37v7.8M577.87 138.8h7.8M581.77 134.9v7.8M579.24 137.38h7.8M583.14 133.48v7.8M580.57 136.02h7.8M584.47 132.12v7.8M581.86 134.55h7.8M585.76 130.65v7.8M583.12 133.03h7.8M587.02 129.13v7.8M584.34 131.56h7.8M588.24 127.66v7.8M585.53 130.12h7.8M589.43 126.22v7.8M586.69 128.72h7.8M590.59 124.82v7.8M587.82 127.36h7.8M591.72 123.46v7.8M588.92 126.03h7.8M592.82 122.13v7.8M590 124.73h7.8M593.9 120.83v7.8M591.04 123.47h7.8M594.94 119.57v7.8M592.07 122.22h7.8M595.97 118.32v7.8M593.07 121.01h7.8M596.97 117.11v7.8M594.05 119.82h7.8M597.95 115.92v7.8M595.01 118.65h7.8M598.91 114.75v7.8M595.95 117.51h7.8M599.85 113.61v7.8M596.87 116.39h7.8M600.77 112.49v7.8M597.77 115.36h7.8M601.67 111.46v7.8M598.65 114.36h7.8M602.55 110.46v7.8M599.52 113.38h7.8M603.42 109.48v7.8M600.37 112.4h7.8M604.27 108.5v7.8M601.2 111.44h7.8M605.1 107.54v7.8M602.02 110.49h7.8M605.92 106.59v7.8M602.83 109.57h7.8M606.73 105.67v7.8M603.62 108.66h7.8M607.52 104.76v7.8M604.39 107.79h7.8M608.29 103.89v7.8M605.15 106.95h7.8M609.05 103.05v7.8M605.9 106.14h7.8M609.8 102.24v7.8M606.64 105.39h7.8M610.54 101.49v7.8M607.37 104.66h7.8M611.27 100.76v7.8M608.08 103.96h7.8M611.98 100.06v7.8M608.78 103.27h7.8M612.68 99.37v7.8M609.47 102.6h7.8M613.37 98.7v7.8M610.15 101.94h7.8M614.05 98.04v7.8M610.82 101.3h7.8M614.72 97.4v7.8M611.49 100.67h7.8M615.39 96.77v7.8M612.14 100.05h7.8M616.04 96.15v7.8M612.78 99.45h7.8M616.68 95.55v7.8M613.41 98.86h7.8M617.31 94.96v7.8M614.03 98.28h7.8M617.93 94.38v7.8M614.65 97.71h7.8M618.55 93.81v7.8M615.26 97.15h7.8M619.16 93.25v7.8M615.86 96.6h7.8M619.76 92.7v7.8M616.45 96.06h7.8M620.35 92.16v7.8M617.03 95.53h7.8M620.93 91.63v7.8M617.6 95.01h7.8M621.5 91.11v7.8M618.17 94.49h7.8M622.07 90.59v7.8M618.73 93.99h7.8M622.63 90.09v7.8M619.29 93.49h7.8M623.19 89.59v7.8M619.83 92.96h7.8M623.73 89.06v7.8M620.38 92.43h7.8M624.28 88.53v7.8M620.91 91.91h7.8M624.81 88.01v7.8M621.44 91.39h7.8M625.34 87.49v7.8M621.96 90.88h7.8M625.86 86.98v7.8M622.47 90.38h7.8M626.37 86.48v7.8M622.98 89.89h7.8M626.88 85.99v7.8M623.49 89.4h7.8M627.39 85.5v7.8M623.99 88.92h7.8M627.89 85.02v7.8M624.48 88.44h7.8M628.38 84.54v7.8M624.97 87.97h7.8M628.87 84.07v7.8M625.45 87.51h7.8M629.35 83.61v7.8M625.93 87.05h7.8M629.83 83.15v7.8M626.4 86.6h7.8M630.3 82.7v7.8M626.87 86.15h7.8M630.77 82.25v7.8M627.33 85.72h7.8M631.23 81.82v7.8M627.78 85.28h7.8M631.68 81.38v7.8M628.24 84.86h7.8M632.14 80.96v7.8M628.69 84.44h7.8M632.59 80.54v7.8M629.13 84.02h7.8M633.03 80.12v7.8M629.57 83.62h7.8M633.47 79.72v7.8M630 83.21h7.8M633.9 79.31v7.8M630.44 82.82h7.8M634.34 78.92v7.8M630.86 82.43h7.8M634.76 78.53v7.8M631.28 82.04h7.8M635.18 78.14v7.8M631.7 81.66h7.8M635.6 77.76v7.8M632.12 81.29h7.8M636.02 77.39v7.8M632.53 80.92h7.8M636.43 77.02v7.8M632.94 80.55h7.8M636.84 76.65v7.8M633.34 80.19h7.8M637.24 76.29v7.8M633.74 79.84h7.8M637.64 75.94v7.8M634.14 79.49h7.8M638.04 75.59v7.8M634.53 79.15h7.8M638.43 75.25v7.8M634.92 78.81h7.8M638.82 74.91v7.8M635.31 78.47h7.8M639.21 74.57v7.8M635.69 78.14h7.8M639.59 74.24v7.8M636.07 77.82h7.8M639.97 73.92v7.8M636.44 77.5h7.8M640.34 73.6v7.8M636.82 77.18h7.8M640.72 73.28v7.8M637.19 76.87h7.8M641.09 72.97v7.8M637.55 76.57h7.8M641.45 72.67v7.8M637.92 76.28h7.8M641.82 72.38v7.8M638.28 76h7.8M642.18 72.1v7.8M638.64 75.72h7.8M642.54 71.82v7.8M638.99 75.44h7.8M642.89 71.54v7.8M639.35 75.16h7.8M643.25 71.26v7.8M639.7 74.88h7.8M643.6 70.98v7.8M640.04 74.61h7.8M643.94 70.71v7.8M640.39 74.34h7.8M644.29 70.44v7.8M640.73 74.08h7.8M644.63 70.18v7.8M641.07 73.82h7.8M644.97 69.92v7.8M641.4 73.56h7.8M645.3 69.66v7.8M641.74 73.3h7.8M645.64 69.4v7.8M642.07 73.04h7.8M645.97 69.14v7.8M642.4 72.79h7.8M646.3 68.89v7.8M642.73 72.54h7.8M646.63 68.64v7.8M643.05 72.29h7.8M646.95 68.39v7.8M643.37 72.04h7.8M647.27 68.14v7.8M643.69 71.8h7.8M647.59 67.9v7.8M644.01 71.56h7.8M647.91 67.66v7.8M644.33 71.32h7.8M648.23 67.42v7.8M644.64 71.08h7.8M648.54 67.18v7.8M644.95 70.85h7.8M648.85 66.95v7.8M645.26 70.62h7.8M649.16 66.72v7.8M645.56 70.39h7.8M649.46 66.49v7.8M645.87 70.16h7.8M649.77 66.26v7.8M646.17 69.93h7.8M650.07 66.03v7.8M646.47 69.71h7.8M650.37 65.81v7.8M646.77 69.49h7.8M650.67 65.59v7.8M647.07 69.27h7.8M650.97 65.37v7.8M647.36 69.05h7.8M651.26 65.15v7.8M647.65 68.83h7.8M651.55 64.93v7.8M647.94 68.62h7.8M651.84 64.72v7.8M648.23 68.41h7.8M652.13 64.51v7.8M648.52 68.2h7.8M652.42 64.3v7.8M648.8 67.99h7.8M652.7 64.09v7.8M649.09 67.78h7.8M652.99 63.88v7.8M649.37 67.58h7.8M653.27 63.68v7.8M649.65 67.37h7.8M653.55 63.47v7.8M649.93 67.17h7.8M653.83 63.27v7.8M650.2 66.97h7.8M654.1 63.07v7.8M650.48 66.78h7.8M654.38 62.88v7.8M650.75 66.58h7.8M654.65 62.68v7.8M651.02 66.38h7.8M654.92 62.48v7.8M651.29 66.19h7.8M655.19 62.29v7.8M651.56 66h7.8M655.46 62.1v7.8M651.82 65.8h7.8M655.72 61.9v7.8M652.09 65.61h7.8M655.99 61.71v7.8M652.35 65.43h7.8M656.25 61.53v7.8M652.61 65.24h7.8M656.51 61.34v7.8M652.87 65.06h7.8M656.77 61.16v7.8M653.13 64.87h7.8M657.03 60.97v7.8M653.39 64.69h7.8M657.29 60.79v7.8M653.64 64.51h7.8M657.54 60.61v7.8M653.9 64.33h7.8M657.8 60.43v7.8M654.15 64.15h7.8M658.05 60.25v7.8M654.4 63.98h7.8M658.3 60.08v7.8M654.65 63.8h7.8M658.55 59.9v7.8M654.9 63.63h7.8M658.8 59.73v7.8M655.15 63.46h7.8M659.05 59.56v7.8M655.39 63.29h7.8M659.29 59.39v7.8M655.64 63.12h7.8M659.54 59.22v7.8M655.88 62.95h7.8M659.78 59.05v7.8M656.12 62.78h7.8M660.02 58.88v7.8M656.36 62.62h7.8M660.26 58.72v7.8M656.6 62.45h7.8M660.5 58.55v7.8M656.84 62.29h7.8M660.74 58.39v7.8M657.08 62.13h7.8M660.98 58.23v7.8M657.31 61.96h7.8M661.21 58.06v7.8M657.55 61.8h7.8M661.45 57.9v7.8M657.78 61.65h7.8M661.68 57.75v7.8M658.01 61.49h7.8M661.91 57.59v7.8M658.24 61.33h7.8M662.14 57.43v7.8M658.47 61.17h7.8M662.37 57.27v7.8M658.7 61.02h7.8M662.6 57.12v7.8M658.93 60.87h7.8M662.83 56.97v7.8M659.15 60.71h7.8M663.05 56.81v7.8M659.38 60.56h7.8M663.28 56.66v7.8M659.6 60.41h7.8M663.5 56.51v7.8M659.82 60.26h7.8M663.72 56.36v7.8M660.04 60.11h7.8M663.94 56.21v7.8M660.26 59.96h7.8M664.16 56.06v7.8M660.48 59.82h7.8M664.38 55.92v7.8M660.7 59.67h7.8M664.6 55.77v7.8M660.92 59.52h7.8M664.82 55.62v7.8M661.13 59.38h7.8M665.03 55.48v7.8M661.35 59.24h7.8M665.25 55.34v7.8M661.56 59.09h7.8M665.46 55.19v7.8M661.78 58.95h7.8M665.68 55.05v7.8M661.99 58.81h7.8M665.89 54.91v7.8M662.2 58.67h7.8M666.1 54.77v7.8M662.41 58.53h7.8M666.31 54.63v7.8M662.62 58.39h7.8M666.52 54.49v7.8M662.83 58.25h7.8M666.73 54.35v7.8M663.03 58.12h7.8M666.93 54.22v7.8M663.24 57.98h7.8M667.14 54.08v7.8M663.44 57.84h7.8M667.34 53.94v7.8M663.65 57.71h7.8M667.55 53.81v7.8M663.85 57.57h7.8M667.75 53.67v7.8M664.05 57.44h7.8M667.95 53.54v7.8M664.25 57.31h7.8M668.15 53.41v7.8M664.46 57.17h7.8M668.36 53.27v7.8M664.65 57.04h7.8M668.55 53.14v7.8M664.85 56.91h7.8M668.75 53.01v7.8M665.05 56.78h7.8M668.95 52.88v7.8M665.25 56.65h7.8M669.15 52.75v7.8M665.44 56.52h7.8M669.34 52.62v7.8M665.64 56.39h7.8M669.54 52.49v7.8M665.83 56.27h7.8M669.73 52.37v7.8M666.03 56.14h7.8M669.93 52.24v7.8M666.22 56.01h7.8M670.12 52.11v7.8M666.41 55.88h7.8M670.31 51.98v7.8M666.6 55.76h7.8M670.5 51.86v7.8M666.79 55.63h7.8M670.69 51.73v7.8M666.98 55.5h7.8M670.88 51.6v7.8M667.17 55.38h7.8M671.07 51.48v7.8M667.36 55.25h7.8M671.26 51.35v7.8M667.55 55.13h7.8M671.45 51.23v7.8M667.73 55h7.8M671.63 51.1v7.8M667.92 54.88h7.8M671.82 50.98v7.8M668.1 54.76h7.8M672 50.86v7.8M668.29 54.63h7.8M672.19 50.73v7.8M668.47 54.51h7.8M672.37 50.61v7.8M668.65 54.39h7.8M672.55 50.49v7.8M668.83 54.27h7.8M672.73 50.37v7.8M669.01 54.15h7.8M672.91 50.25v7.8M669.19 54.03h7.8M673.09 50.13v7.8M669.37 53.91h7.8M673.27 50.01v7.8M669.55 53.8h7.8M673.45 49.9v7.8M669.73 53.68h7.8M673.63 49.78v7.8M669.91 53.56h7.8M673.81 49.66v7.8M670.08 53.45h7.8M673.98 49.55v7.8M670.26 53.33h7.8M674.16 49.43v7.8M670.44 53.22h7.8M674.34 49.32v7.8M670.61 53.1h7.8M674.51 49.2v7.8M670.78 52.99h7.8M674.68 49.09v7.8M670.96 52.88h7.8M674.86 48.98v7.8M671.13 52.76h7.8M675.03 48.86v7.8M671.3 52.65h7.8M675.2 48.75v7.8M671.47 52.54h7.8M675.37 48.64v7.8M671.64 52.43h7.8M675.54 48.53v7.8M671.81 52.32h7.8M675.71 48.42v7.8M671.98 52.21h7.8M675.88 48.31v7.8M672.15 52.1h7.8M676.05 48.2v7.8M672.32 51.99h7.8M676.22 48.09v7.8M672.49 51.88h7.8M676.39 47.98v7.8M672.65 51.77h7.8M676.55 47.87v7.8M672.82 51.67h7.8M676.72 47.77v7.8M672.98 51.56h7.8M676.88 47.66v7.8M673.15 51.45h7.8M677.05 47.55v7.8M673.31 51.35h7.8M677.21 47.45v7.8M673.48 51.24h7.8M677.38 47.34v7.8M673.64 51.13h7.8M677.54 47.23v7.8M673.8 51.03h7.8M677.7 47.13v7.8M673.97 50.93h7.8M677.87 47.03v7.8M674.13 50.82h7.8M678.03 46.92v7.8M674.29 50.72h7.8M678.19 46.82v7.8M674.45 50.62h7.8M678.35 46.72v7.8M674.61 50.51h7.8M678.51 46.61v7.8M674.77 50.41h7.8M678.67 46.51v7.8M674.92 50.31h7.8M678.82 46.41v7.8M675.08 50.21h7.8M678.98 46.31v7.8M675.24 50.11h7.8M679.14 46.21v7.8" stroke="#3fb6cf" stroke-width="0.6"/>
<path d="M423.3 211.9h7.8M427.2 208v7.8M454.21 208.9h7.8M458.11 205v7.8M472.29 211.8h7.8M476.19 207.9v7.8M485.12 211.2h7.8M489.02 207.3v7.8M495.08 206.77h7.8M498.98 202.87v7.8M503.21 206.92h7.8M507.11 203.02v7.8M510.08 203.7h7.8M513.98 199.8v7.8M516.04 199.05h7.8M519.94 195.15v7.8M521.29 194.38h7.8M525.19 190.48v7.8M525.99 190.46h7.8M529.89 186.56v7.8M530.24 187.23h7.8M534.14 183.33v7.8M534.12 183.72h7.8M538.02 179.82v7.8M537.69 180.44h7.8M541.59 176.54v7.8M541 177.3h7.8M544.9 173.4v7.8M544.07 174.36h7.8M547.97 170.46v7.8M546.95 171.52h7.8M550.85 167.62v7.8M549.66 168.81h7.8M553.56 164.91v7.8M552.21 166.22h7.8M556.11 162.32v7.8M554.62 163.74h7.8M558.52 159.84v7.8M556.9 161.36h7.8M560.8 157.46v7.8M559.08 159.09h7.8M562.98 155.19v7.8M561.16 156.91h7.8M565.06 153.01v7.8M563.14 154.82h7.8M567.04 150.92v7.8M565.04 152.81h7.8M568.94 148.91v7.8M566.86 150.88h7.8M570.76 146.98v7.8M568.61 149.04h7.8M572.51 145.14v7.8M570.29 147.26h7.8M574.19 143.36v7.8M571.91 145.55h7.8M575.81 141.65v7.8M573.48 143.91h7.8M577.38 140.01v7.8M574.99 142.32h7.8M578.89 138.42v7.8M576.45 140.8h7.8M580.35 136.9v7.8M577.87 139.33h7.8M581.77 135.43v7.8M579.24 137.92h7.8M583.14 134.02v7.8M580.57 136.55h7.8M584.47 132.65v7.8M581.86 135.07h7.8M585.76 131.17v7.8M583.12 133.52h7.8M587.02 129.62v7.8M584.34 132.03h7.8M588.24 128.13v7.8M585.53 130.57h7.8M589.43 126.67v7.8M586.69 129.15h7.8M590.59 125.25v7.8M587.82 127.77h7.8M591.72 123.87v7.8M588.92 126.42h7.8M592.82 122.52v7.8M590 125.1h7.8M593.9 121.2v7.8M591.04 123.81h7.8M594.94 119.91v7.8M592.07 122.55h7.8M595.97 118.65v7.8M593.07 121.31h7.8M596.97 117.41v7.8M594.05 120.11h7.8M597.95 116.21v7.8M595.01 118.92h7.8M598.91 115.02v7.8M595.95 117.76h7.8M599.85 113.86v7.8M596.87 116.62h7.8M600.77 112.72v7.8M597.77 115.58h7.8M601.67 111.68v7.8M598.65 114.58h7.8M602.55 110.68v7.8M599.52 113.59h7.8M603.42 109.69v7.8M600.37 112.6h7.8M604.27 108.7v7.8M601.2 111.63h7.8M605.1 107.73v7.8M602.02 110.68h7.8M605.92 106.78v7.8M602.83 109.75h7.8M606.73 105.85v7.8M603.62 108.84h7.8M607.52 104.94v7.8M604.39 107.96h7.8M608.29 104.06v7.8M605.15 107.11h7.8M609.05 103.21v7.8M605.9 106.3h7.8M609.8 102.4v7.8M606.64 105.54h7.8M610.54 101.64v7.8M607.37 104.82h7.8M611.27 100.92v7.8M608.08 104.11h7.8M611.98 100.21v7.8M608.78 103.42h7.8M612.68 99.52v7.8M609.47 102.75h7.8M613.37 98.85v7.8M610.15 102.09h7.8M614.05 98.19v7.8M610.82 101.45h7.8M614.72 97.55v7.8M611.49 100.82h7.8M615.39 96.92v7.8M612.14 100.2h7.8M616.04 96.3v7.8M612.78 99.59h7.8M616.68 95.69v7.8M613.41 99h7.8M617.31 95.1v7.8M614.03 98.42h7.8M617.93 94.52v7.8M614.65 97.85h7.8M618.55 93.95v7.8M615.26 97.29h7.8M619.16 93.39v7.8M615.86 96.74h7.8M619.76 92.84v7.8M616.45 96.2h7.8M620.35 92.3v7.8M617.03 95.67h7.8M620.93 91.77v7.8M617.6 95.14h7.8M621.5 91.24v7.8M618.17 94.63h7.8M622.07 90.73v7.8M618.73 94.12h7.8M622.63 90.22v7.8M619.29 93.62h7.8M623.19 89.72v7.8M619.83 93.11h7.8M623.73 89.21v7.8M620.38 92.59h7.8M624.28 88.69v7.8M620.91 92.08h7.8M624.81 88.18v7.8M621.44 91.58h7.8M625.34 87.68v7.8M621.96 91.09h7.8M625.86 87.19v7.8M622.47 90.6h7.8M626.37 86.7v7.8M622.98 90.12h7.8M626.88 86.22v7.8M623.49 89.64h7.8M627.39 85.74v7.8M623.99 89.17h7.8M627.89 85.27v7.8M624.48 88.71h7.8M628.38 84.81v7.8M624.97 88.25h7.8M628.87 84.35v7.8M625.45 87.79h7.8M629.35 83.89v7.8M625.93 87.34h7.8M629.83 83.44v7.8M626.4 86.9h7.8M630.3 83v7.8M626.87 86.47h7.8M630.77 82.57v7.8M627.33 86.04h7.8M631.23 82.14v7.8M627.78 85.61h7.8M631.68 81.71v7.8M628.24 85.2h7.8M632.14 81.3v7.8M628.69 84.78h7.8M632.59 80.88v7.8M629.13 84.38h7.8M633.03 80.48v7.8M629.57 83.98h7.8M633.47 80.08v7.8M630 83.58h7.8M633.9 79.68v7.8M630.44 83.19h7.8M634.34 79.29v7.8M630.86 82.81h7.8M634.76 78.91v7.8M631.28 82.43h7.8M635.18 78.53v7.8M631.7 82.06h7.8M635.6 78.16v7.8M632.12 81.69h7.8M636.02 77.79v7.8M632.53 81.32h7.8M636.43 77.42v7.8M632.94 80.96h7.8M636.84 77.06v7.8M633.34 80.61h7.8M637.24 76.71v7.8M633.74 80.26h7.8M637.64 76.36v7.8M634.14 79.92h7.8M638.04 76.02v7.8M634.53 79.58h7.8M638.43 75.68v7.8M634.92 79.24h7.8M638.82 75.34v7.8M635.31 78.91h7.8M639.21 75.01v7.8M635.69 78.59h7.8M639.59 74.69v7.8M636.07 78.26h7.8M639.97 74.36v7.8M636.44 77.95h7.8M640.34 74.05v7.8M636.82 77.63h7.8M640.72 73.73v7.8M637.19 77.32h7.8M641.09 73.42v7.8M637.55 77.03h7.8M641.45 73.13v7.8M637.92 76.74h7.8M641.82 72.84v7.8M638.28 76.46h7.8M642.18 72.56v7.8M638.64 76.18h7.8M642.54 72.28v7.8M638.99 75.9h7.8M642.89 72v7.8M639.35 75.63h7.8M643.25 71.73v7.8M639.7 75.36h7.8M643.6 71.46v7.8M640.04 75.09h7.8M643.94 71.19v7.8M640.39 74.83h7.8M644.29 70.93v7.8M640.73 74.56h7.8M644.63 70.66v7.8M641.07 74.3h7.8M644.97 70.4v7.8M641.4 74.04h7.8M645.3 70.14v7.8M641.74 73.79h7.8M645.64 69.89v7.8M642.07 73.54h7.8M645.97 69.64v7.8M642.4 73.29h7.8M646.3 69.39v7.8M642.73 73.04h7.8M646.63 69.14v7.8M643.05 72.79h7.8M646.95 68.89v7.8M643.37 72.55h7.8M647.27 68.65v7.8M643.69 72.31h7.8M647.59 68.41v7.8M644.01 72.07h7.8M647.91 68.17v7.8M644.33 71.83h7.8M648.23 67.93v7.8M644.64 71.6h7.8M648.54 67.7v7.8M644.95 71.37h7.8M648.85 67.47v7.8M645.26 71.14h7.8M649.16 67.24v7.8M645.56 70.91h7.8M649.46 67.01v7.8M645.87 70.69h7.8M649.77 66.79v7.8M646.17 70.46h7.8M650.07 66.56v7.8M646.47 70.24h7.8M650.37 66.34v7.8M646.77 70.02h7.8M650.67 66.12v7.8M647.07 69.81h7.8M650.97 65.91v7.8M647.36 69.59h7.8M651.26 65.69v7.8M647.65 69.38h7.8M651.55 65.48v7.8M647.94 69.16h7.8M651.84 65.26v7.8M648.23 68.96h7.8M652.13 65.06v7.8M648.52 68.75h7.8M652.42 64.85v7.8M648.8 68.54h7.8M652.7 64.64v7.8M649.09 68.34h7.8M652.99 64.44v7.8M649.37 68.13h7.8M653.27 64.23v7.8M649.65 67.93h7.8M653.55 64.03v7.8M649.93 67.74h7.8M653.83 63.84v7.8M650.2 67.54h7.8M654.1 63.64v7.8M650.48 67.34h7.8M654.38 63.44v7.8M650.75 67.15h7.8M654.65 63.25v7.8M651.02 66.96h7.8M654.92 63.06v7.8M651.29 66.77h7.8M655.19 62.87v7.8M651.56 66.58h7.8M655.46 62.68v7.8M651.82 66.39h7.8M655.72 62.49v7.8M652.09 66.21h7.8M655.99 62.31v7.8M652.35 66.03h7.8M656.25 62.13v7.8M652.61 65.84h7.8M656.51 61.94v7.8M652.87 65.66h7.8M656.77 61.76v7.8M653.13 65.49h7.8M657.03 61.59v7.8M653.39 65.31h7.8M657.29 61.41v7.8M653.64 65.13h7.8M657.54 61.23v7.8M653.9 64.96h7.8M657.8 61.06v7.8M654.15 64.79h7.8M658.05 60.89v7.8M654.4 64.61h7.8M658.3 60.71v7.8M654.65 64.44h7.8M658.55 60.54v7.8M654.9 64.28h7.8M658.8 60.38v7.8M655.15 64.11h7.8M659.05 60.21v7.8M655.39 63.94h7.8M659.29 60.04v7.8M655.64 63.78h7.8M659.54 59.88v7.8M655.88 63.61h7.8M659.78 59.71v7.8M656.12 63.45h7.8M660.02 59.55v7.8M656.36 63.29h7.8M660.26 59.39v7.8M656.6 63.13h7.8M660.5 59.23v7.8M656.84 62.97h7.8M660.74 59.07v7.8M657.08 62.81h7.8M660.98 58.91v7.8M657.31 62.65h7.8M661.21 58.75v7.8M657.55 62.5h7.8M661.45 58.6v7.8M657.78 62.34h7.8M661.68 58.44v7.8M658.01 62.19h7.8M661.91 58.29v7.8M658.24 62.04h7.8M662.14 58.14v7.8M658.47 61.89h7.8M662.37 57.99v7.8M658.7 61.73h7.8M662.6 57.83v7.8M658.93 61.58h7.8M662.83 57.68v7.8M659.15 61.44h7.8M663.05 57.54v7.8M659.38 61.29h7.8M663.28 57.39v7.8M659.6 61.14h7.8M663.5 57.24v7.8M659.82 61h7.8M663.72 57.1v7.8M660.04 60.85h7.8M663.94 56.95v7.8M660.26 60.71h7.8M664.16 56.81v7.8M660.48 60.56h7.8M664.38 56.66v7.8M660.7 60.42h7.8M664.6 56.52v7.8M660.92 60.28h7.8M664.82 56.38v7.8M661.13 60.14h7.8M665.03 56.24v7.8M661.35 60h7.8M665.25 56.1v7.8M661.56 59.86h7.8M665.46 55.96v7.8M661.78 59.72h7.8M665.68 55.82v7.8M661.99 59.58h7.8M665.89 55.68v7.8M662.2 59.45h7.8M666.1 55.55v7.8M662.41 59.31h7.8M666.31 55.41v7.8M662.62 59.18h7.8M666.52 55.28v7.8M662.83 59.04h7.8M666.73 55.14v7.8M663.03 58.91h7.8M666.93 55.01v7.8M663.24 58.78h7.8M667.14 54.88v7.8M663.44 58.64h7.8M667.34 54.74v7.8M663.65 58.51h7.8M667.55 54.61v7.8M663.85 58.38h7.8M667.75 54.48v7.8M664.05 58.25h7.8M667.95 54.35v7.8M664.25 58.12h7.8M668.15 54.22v7.8M664.46 57.99h7.8M668.36 54.09v7.8M664.65 57.87h7.8M668.55 53.97v7.8M664.85 57.74h7.8M668.75 53.84v7.8M665.05 57.61h7.8M668.95 53.71v7.8M665.25 57.49h7.8M669.15 53.59v7.8M665.44 57.36h7.8M669.34 53.46v7.8M665.64 57.23h7.8M669.54 53.33v7.8M665.83 57.11h7.8M669.73 53.21v7.8M666.03 56.99h7.8M669.93 53.09v7.8M666.22 56.86h7.8M670.12 52.96v7.8M666.41 56.74h7.8M670.31 52.84v7.8M666.6 56.62h7.8M670.5 52.72v7.8M666.79 56.5h7.8M670.69 52.6v7.8M666.98 56.38h7.8M670.88 52.48v7.8M667.17 56.27h7.8M671.07 52.37v7.8M667.36 56.15h7.8M671.26 52.25v7.8M667.55 56.03h7.8M671.45 52.13v7.8M667.73 55.91h7.8M671.63 52.01v7.8M667.92 55.8h7.8M671.82 51.9v7.8M668.1 55.68h7.8M672 51.78v7.8M668.29 55.57h7.8M672.19 51.67v7.8M668.47 55.46h7.8M672.37 51.56v7.8M668.65 55.34h7.8M672.55 51.44v7.8M668.83 55.23h7.8M672.73 51.33v7.8M669.01 55.12h7.8M672.91 51.22v7.8M669.19 55.01h7.8M673.09 51.11v7.8M669.37 54.89h7.8M673.27 50.99v7.8M669.55 54.78h7.8M673.45 50.88v7.8M669.73 54.67h7.8M673.63 50.77v7.8M669.91 54.56h7.8M673.81 50.66v7.8M670.08 54.46h7.8M673.98 50.56v7.8M670.26 54.35h7.8M674.16 50.45v7.8M670.44 54.24h7.8M674.34 50.34v7.8M670.61 54.13h7.8M674.51 50.23v7.8M670.78 54.03h7.8M674.68 50.13v7.8M670.96 53.92h7.8M674.86 50.02v7.8M671.13 53.81h7.8M675.03 49.91v7.8M671.3 53.71h7.8M675.2 49.81v7.8M671.47 53.6h7.8M675.37 49.7v7.8M671.64 53.5h7.8M675.54 49.6v7.8M671.81 53.4h7.8M675.71 49.5v7.8M671.98 53.29h7.8M675.88 49.39v7.8M672.15 53.19h7.8M676.05 49.29v7.8M672.32 53.09h7.8M676.22 49.19v7.8M672.49 52.99h7.8M676.39 49.09v7.8M672.65 52.89h7.8M676.55 48.99v7.8M672.82 52.78h7.8M676.72 48.88v7.8M672.98 52.68h7.8M676.88 48.78v7.8M673.15 52.58h7.8M677.05 48.68v7.8M673.31 52.49h7.8M677.21 48.59v7.8M673.48 52.39h7.8M677.38 48.49v7.8M673.64 52.29h7.8M677.54 48.39v7.8M673.8 52.19h7.8M677.7 48.29v7.8M673.97 52.09h7.8M677.87 48.19v7.8M674.13 52h7.8M678.03 48.1v7.8M674.29 51.9h7.8M678.19 48v7.8M674.45 51.8h7.8M678.35 47.9v7.8M674.61 51.71h7.8M678.51 47.81v7.8M674.77 51.61h7.8M678.67 47.71v7.8M674.92 51.52h7.8M678.82 47.62v7.8M675.08 51.42h7.8M678.98 47.52v7.8M675.24 51.33h7.8M679.14 47.43v7.8" stroke="#6fb0d8" stroke-width="0.6"/>
<path d="M423.3 210.5h7.8M427.2 206.6v7.8M454.21 210.5h7.8M458.11 206.6v7.8M472.29 208.4h7.8M476.19 204.5v7.8M485.12 206.3h7.8M489.02 202.4v7.8M495.08 204.58h7.8M498.98 200.68v7.8M503.21 200.83h7.8M507.11 196.93v7.8M510.08 198.88h7.8M513.98 194.98v7.8M516.04 195.26h7.8M519.94 191.36v7.8M521.29 191.16h7.8M525.19 187.26v7.8M525.99 187.48h7.8M529.89 183.58v7.8M530.24 183.56h7.8M534.14 179.66v7.8M534.12 180.63h7.8M538.02 176.73v7.8M537.69 177.77h7.8M541.59 173.87v7.8M541 174.47h7.8M544.9 170.57v7.8M544.07 171.45h7.8M547.97 167.55v7.8M546.95 168.6h7.8M550.85 164.7v7.8M549.66 165.87h7.8M553.56 161.97v7.8M552.21 163.25h7.8M556.11 159.35v7.8M554.62 160.75h7.8M558.52 156.85v7.8M556.9 158.36h7.8M560.8 154.46v7.8M559.08 156.06h7.8M562.98 152.16v7.8M561.16 153.86h7.8M565.06 149.96v7.8M563.14 151.76h7.8M567.04 147.86v7.8M565.04 149.74h7.8M568.94 145.84v7.8M566.86 147.8h7.8M570.76 143.9v7.8M568.61 145.93h7.8M572.51 142.03v7.8M570.29 144.14h7.8M574.19 140.24v7.8M571.91 142.42h7.8M575.81 138.52v7.8M573.48 140.76h7.8M577.38 136.86v7.8M574.99 139.17h7.8M578.89 135.27v7.8M576.45 137.63h7.8M580.35 133.73v7.8M577.87 136.15h7.8M581.77 132.25v7.8M579.24 134.73h7.8M583.14 130.83v7.8M580.57 133.35h7.8M584.47 129.45v7.8M581.86 131.95h7.8M585.76 128.05v7.8M583.12 130.56h7.8M587.02 126.66v7.8M584.34 129.2h7.8M588.24 125.3v7.8M585.53 127.88h7.8M589.43 123.98v7.8M586.69 126.59h7.8M590.59 122.69v7.8M587.82 125.34h7.8M591.72 121.44v7.8M588.92 124.11h7.8M592.82 120.21v7.8M590 122.92h7.8M593.9 119.02v7.8M591.04 121.75h7.8M594.94 117.85v7.8M592.07 120.61h7.8M595.97 116.71v7.8M593.07 119.49h7.8M596.97 115.59v7.8M594.05 118.39h7.8M597.95 114.49v7.8M595.01 117.32h7.8M598.91 113.42v7.8M595.95 116.26h7.8M599.85 112.36v7.8M596.87 115.23h7.8M600.77 111.33v7.8M597.77 114.24h7.8M601.67 110.34v7.8M598.65 113.29h7.8M602.55 109.39v7.8M599.52 112.33h7.8M603.42 108.43v7.8M600.37 111.39h7.8M604.27 107.49v7.8M601.2 110.46h7.8M605.1 106.56v7.8M602.02 109.54h7.8M605.92 105.64v7.8M602.83 108.65h7.8M606.73 104.75v7.8M603.62 107.78h7.8M607.52 103.88v7.8M604.39 106.93h7.8M608.29 103.03v7.8M605.15 106.12h7.8M609.05 102.22v7.8M605.9 105.34h7.8M609.8 101.44v7.8M606.64 104.6h7.8M610.54 100.7v7.8M607.37 103.88h7.8M611.27 99.98v7.8M608.08 103.18h7.8M611.98 99.28v7.8M608.78 102.5h7.8M612.68 98.6v7.8M609.47 101.83h7.8M613.37 97.93v7.8M610.15 101.18h7.8M614.05 97.28v7.8M610.82 100.55h7.8M614.72 96.65v7.8M611.49 99.92h7.8M615.39 96.02v7.8M612.14 99.31h7.8M616.04 95.41v7.8M612.78 98.72h7.8M616.68 94.82v7.8M613.41 98.13h7.8M617.31 94.23v7.8M614.03 97.56h7.8M617.93 93.66v7.8M614.65 96.99h7.8M618.55 93.09v7.8M615.26 96.44h7.8M619.16 92.54v7.8M615.86 95.9h7.8M619.76 92v7.8M616.45 95.36h7.8M620.35 91.46v7.8M617.03 94.84h7.8M620.93 90.94v7.8M617.6 94.32h7.8M621.5 90.42v7.8M618.17 93.81h7.8M622.07 89.91v7.8M618.73 93.31h7.8M622.63 89.41v7.8M619.29 92.82h7.8M623.19 88.92v7.8M619.83 92.3h7.8M623.73 88.4v7.8M620.38 91.78h7.8M624.28 87.88v7.8M620.91 91.26h7.8M624.81 87.36v7.8M621.44 90.76h7.8M625.34 86.86v7.8M621.96 90.26h7.8M625.86 86.36v7.8M622.47 89.76h7.8M626.37 85.86v7.8M622.98 89.28h7.8M626.88 85.38v7.8M623.49 88.8h7.8M627.39 84.9v7.8M623.99 88.32h7.8M627.89 84.42v7.8M624.48 87.85h7.8M628.38 83.95v7.8M624.97 87.39h7.8M628.87 83.49v7.8M625.45 86.94h7.8M629.35 83.04v7.8M625.93 86.49h7.8M629.83 82.59v7.8M626.4 86.04h7.8M630.3 82.14v7.8M626.87 85.61h7.8M630.77 81.71v7.8M627.33 85.18h7.8M631.23 81.28v7.8M627.78 84.75h7.8M631.68 80.85v7.8M628.24 84.33h7.8M632.14 80.43v7.8M628.69 83.92h7.8M632.59 80.02v7.8M629.13 83.51h7.8M633.03 79.61v7.8M629.57 83.11h7.8M633.47 79.21v7.8M630 82.72h7.8M633.9 78.82v7.8M630.44 82.33h7.8M634.34 78.43v7.8M630.86 81.95h7.8M634.76 78.05v7.8M631.28 81.57h7.8M635.18 77.67v7.8M631.7 81.19h7.8M635.6 77.29v7.8M632.12 80.83h7.8M636.02 76.93v7.8M632.53 80.46h7.8M636.43 76.56v7.8M632.94 80.11h7.8M636.84 76.21v7.8M633.34 79.75h7.8M637.24 75.85v7.8M633.74 79.41h7.8M637.64 75.51v7.8M634.14 79.06h7.8M638.04 75.16v7.8M634.53 78.72h7.8M638.43 74.82v7.8M634.92 78.39h7.8M638.82 74.49v7.8M635.31 78.06h7.8M639.21 74.16v7.8M635.69 77.74h7.8M639.59 73.84v7.8M636.07 77.42h7.8M639.97 73.52v7.8M636.44 77.1h7.8M640.34 73.2v7.8M636.82 76.79h7.8M640.72 72.89v7.8M637.19 76.49h7.8M641.09 72.59v7.8M637.55 76.19h7.8M641.45 72.29v7.8M637.92 75.9h7.8M641.82 72v7.8M638.28 75.61h7.8M642.18 71.71v7.8M638.64 75.32h7.8M642.54 71.42v7.8M638.99 75.04h7.8M642.89 71.14v7.8M639.35 74.76h7.8M643.25 70.86v7.8M639.7 74.49h7.8M643.6 70.59v7.8M640.04 74.21h7.8M643.94 70.31v7.8M640.39 73.94h7.8M644.29 70.04v7.8M640.73 73.67h7.8M644.63 69.77v7.8M641.07 73.41h7.8M644.97 69.51v7.8M641.4 73.14h7.8M645.3 69.24v7.8M641.74 72.88h7.8M645.64 68.98v7.8M642.07 72.63h7.8M645.97 68.73v7.8M642.4 72.37h7.8M646.3 68.47v7.8M642.73 72.12h7.8M646.63 68.22v7.8M643.05 71.87h7.8M646.95 67.97v7.8M643.37 71.62h7.8M647.27 67.72v7.8M643.69 71.37h7.8M647.59 67.47v7.8M644.01 71.13h7.8M647.91 67.23v7.8M644.33 70.89h7.8M648.23 66.99v7.8M644.64 70.65h7.8M648.54 66.75v7.8M644.95 70.41h7.8M648.85 66.51v7.8M645.26 70.18h7.8M649.16 66.28v7.8M645.56 69.95h7.8M649.46 66.05v7.8M645.87 69.72h7.8M649.77 65.82v7.8M646.17 69.49h7.8M650.07 65.59v7.8M646.47 69.26h7.8M650.37 65.36v7.8M646.77 69.04h7.8M650.67 65.14v7.8M647.07 68.82h7.8M650.97 64.92v7.8M647.36 68.6h7.8M651.26 64.7v7.8M647.65 68.38h7.8M651.55 64.48v7.8M647.94 68.16h7.8M651.84 64.26v7.8M648.23 67.95h7.8M652.13 64.05v7.8M648.52 67.74h7.8M652.42 63.84v7.8M648.8 67.52h7.8M652.7 63.62v7.8M649.09 67.32h7.8M652.99 63.42v7.8M649.37 67.11h7.8M653.27 63.21v7.8M649.65 66.9h7.8M653.55 63v7.8M649.93 66.7h7.8M653.83 62.8v7.8M650.2 66.5h7.8M654.1 62.6v7.8M650.48 66.3h7.8M654.38 62.4v7.8M650.75 66.1h7.8M654.65 62.2v7.8M651.02 65.9h7.8M654.92 62v7.8M651.29 65.7h7.8M655.19 61.8v7.8M651.56 65.5h7.8M655.46 61.6v7.8M651.82 65.31h7.8M655.72 61.41v7.8M652.09 65.12h7.8M655.99 61.22v7.8M652.35 64.92h7.8M656.25 61.02v7.8M652.61 64.73h7.8M656.51 60.83v7.8M652.87 64.54h7.8M656.77 60.64v7.8M653.13 64.36h7.8M657.03 60.46v7.8M653.39 64.17h7.8M657.29 60.27v7.8M653.64 63.99h7.8M657.54 60.09v7.8M653.9 63.8h7.8M657.8 59.9v7.8M654.15 63.62h7.8M658.05 59.72v7.8M654.4 63.44h7.8M658.3 59.54v7.8M654.65 63.26h7.8M658.55 59.36v7.8M654.9 63.09h7.8M658.8 59.19v7.8M655.15 62.91h7.8M659.05 59.01v7.8M655.39 62.74h7.8M659.29 58.84v7.8M655.64 62.56h7.8M659.54 58.66v7.8M655.88 62.39h7.8M659.78 58.49v7.8M656.12 62.22h7.8M660.02 58.32v7.8M656.36 62.05h7.8M660.26 58.15v7.8M656.6 61.88h7.8M660.5 57.98v7.8M656.84 61.72h7.8M660.74 57.82v7.8M657.08 61.55h7.8M660.98 57.65v7.8M657.31 61.39h7.8M661.21 57.49v7.8M657.55 61.22h7.8M661.45 57.32v7.8M657.78 61.06h7.8M661.68 57.16v7.8M658.01 60.9h7.8M661.91 57v7.8M658.24 60.74h7.8M662.14 56.84v7.8M658.47 60.58h7.8M662.37 56.68v7.8M658.7 60.42h7.8M662.6 56.52v7.8M658.93 60.26h7.8M662.83 56.36v7.8M659.15 60.11h7.8M663.05 56.21v7.8M659.38 59.95h7.8M663.28 56.05v7.8M659.6 59.8h7.8M663.5 55.9v7.8M659.82 59.64h7.8M663.72 55.74v7.8M660.04 59.49h7.8M663.94 55.59v7.8M660.26 59.34h7.8M664.16 55.44v7.8M660.48 59.19h7.8M664.38 55.29v7.8M660.7 59.04h7.8M664.6 55.14v7.8M660.92 58.89h7.8M664.82 54.99v7.8M661.13 58.74h7.8M665.03 54.84v7.8M661.35 58.6h7.8M665.25 54.7v7.8M661.56 58.45h7.8M665.46 54.55v7.8M661.78 58.3h7.8M665.68 54.4v7.8M661.99 58.16h7.8M665.89 54.26v7.8M662.2 58.02h7.8M666.1 54.12v7.8M662.41 57.87h7.8M666.31 53.97v7.8M662.62 57.73h7.8M666.52 53.83v7.8M662.83 57.59h7.8M666.73 53.69v7.8M663.03 57.45h7.8M666.93 53.55v7.8M663.24 57.31h7.8M667.14 53.41v7.8M663.44 57.17h7.8M667.34 53.27v7.8M663.65 57.03h7.8M667.55 53.13v7.8M663.85 56.89h7.8M667.75 52.99v7.8M664.05 56.76h7.8M667.95 52.86v7.8M664.25 56.62h7.8M668.15 52.72v7.8M664.46 56.49h7.8M668.36 52.59v7.8M664.65 56.35h7.8M668.55 52.45v7.8M664.85 56.22h7.8M668.75 52.32v7.8M665.05 56.08h7.8M668.95 52.18v7.8M665.25 55.95h7.8M669.15 52.05v7.8M665.44 55.82h7.8M669.34 51.92v7.8M665.64 55.69h7.8M669.54 51.79v7.8M665.83 55.56h7.8M669.73 51.66v7.8M666.03 55.43h7.8M669.93 51.53v7.8M666.22 55.3h7.8M670.12 51.4v7.8M666.41 55.16h7.8M670.31 51.26v7.8M666.6 55.03h7.8M670.5 51.13v7.8M666.79 54.89h7.8M670.69 50.99v7.8M666.98 54.76h7.8M670.88 50.86v7.8M667.17 54.63h7.8M671.07 50.73v7.8M667.36 54.5h7.8M671.26 50.6v7.8M667.55 54.37h7.8M671.45 50.47v7.8M667.73 54.24h7.8M671.63 50.34v7.8M667.92 54.11h7.8M671.82 50.21v7.8M668.1 53.98h7.8M672 50.08v7.8M668.29 53.85h7.8M672.19 49.95v7.8M668.47 53.72h7.8M672.37 49.82v7.8M668.65 53.59h7.8M672.55 49.69v7.8M668.83 53.47h7.8M672.73 49.57v7.8M669.01 53.34h7.8M672.91 49.44v7.8M669.19 53.22h7.8M673.09 49.32v7.8M669.37 53.09h7.8M673.27 49.19v7.8M669.55 52.97h7.8M673.45 49.07v7.8M669.73 52.85h7.8M673.63 48.95v7.8M669.91 52.72h7.8M673.81 48.82v7.8M670.08 52.6h7.8M673.98 48.7v7.8M670.26 52.48h7.8M674.16 48.58v7.8M670.44 52.36h7.8M674.34 48.46v7.8M670.61 52.24h7.8M674.51 48.34v7.8M670.78 52.12h7.8M674.68 48.22v7.8M670.96 52h7.8M674.86 48.1v7.8M671.13 51.88h7.8M675.03 47.98v7.8M671.3 51.76h7.8M675.2 47.86v7.8M671.47 51.64h7.8M675.37 47.74v7.8M671.64 51.53h7.8M675.54 47.63v7.8M671.81 51.41h7.8M675.71 47.51v7.8M671.98 51.3h7.8M675.88 47.4v7.8M672.15 51.18h7.8M676.05 47.28v7.8M672.32 51.07h7.8M676.22 47.17v7.8M672.49 50.95h7.8M676.39 47.05v7.8M672.65 50.84h7.8M676.55 46.94v7.8M672.82 50.72h7.8M676.72 46.82v7.8M672.98 50.61h7.8M676.88 46.71v7.8M673.15 50.5h7.8M677.05 46.6v7.8M673.31 50.39h7.8M677.21 46.49v7.8M673.48 50.28h7.8M677.38 46.38v7.8M673.64 50.17h7.8M677.54 46.27v7.8M673.8 50.06h7.8M677.7 46.16v7.8M673.97 49.95h7.8M677.87 46.05v7.8M674.13 49.84h7.8M678.03 45.94v7.8M674.29 49.73h7.8M678.19 45.83v7.8M674.45 49.62h7.8M678.35 45.72v7.8M674.61 49.51h7.8M678.51 45.61v7.8M674.77 49.41h7.8M678.67 45.51v7.8M674.92 49.3h7.8M678.82 45.4v7.8M675.08 49.19h7.8M678.98 45.29v7.8M675.24 49.09h7.8M679.14 45.19v7.8" stroke="#cfd255" stroke-width="0.6"/>
<path d="M423.3 213.2h7.8M427.2 209.3v7.8M454.21 204.4h7.8M458.11 200.5v7.8M472.29 206.5h7.8M476.19 202.6v7.8M485.12 202.4h7.8M489.02 198.5v7.8M495.08 198.15h7.8M498.98 194.25v7.8M503.21 195.29h7.8M507.11 191.39v7.8M510.08 192.41h7.8M513.98 188.51v7.8M516.04 189.31h7.8M519.94 185.41v7.8M521.29 186.61h7.8M525.19 182.71v7.8M525.99 182.85h7.8M529.89 178.95v7.8M530.24 178.99h7.8M534.14 175.09v7.8M534.12 174.62h7.8M538.02 170.72v7.8M537.69 171.39h7.8M541.59 167.49v7.8M541 168.21h7.8M544.9 164.31v7.8M544.07 165.17h7.8M547.97 161.27v7.8M546.95 162.26h7.8M550.85 158.36v7.8M549.66 159.48h7.8M553.56 155.58v7.8M552.21 156.82h7.8M556.11 152.92v7.8M554.62 154.28h7.8M558.52 150.38v7.8M556.9 151.84h7.8M560.8 147.94v7.8M559.08 149.51h7.8M562.98 145.61v7.8M561.16 147.28h7.8M565.06 143.38v7.8M563.14 145.13h7.8M567.04 141.23v7.8M565.04 143.08h7.8M568.94 139.18v7.8M566.86 141.11h7.8M570.76 137.21v7.8M568.61 139.21h7.8M572.51 135.31v7.8M570.29 137.39h7.8M574.19 133.49v7.8M571.91 135.64h7.8M575.81 131.74v7.8M573.48 133.96h7.8M577.38 130.06v7.8M574.99 132.34h7.8M578.89 128.44v7.8M576.45 130.78h7.8M580.35 126.88v7.8M577.87 129.27h7.8M581.77 125.37v7.8M579.24 127.82h7.8M583.14 123.92v7.8M580.57 126.42h7.8M584.47 122.52v7.8M581.86 125.21h7.8M585.76 121.31v7.8M583.12 124.13h7.8M587.02 120.23v7.8M584.34 123.07h7.8M588.24 119.17v7.8M585.53 122.05h7.8M589.43 118.15v7.8M586.69 121.05h7.8M590.59 117.15v7.8M587.82 120.08h7.8M591.72 116.18v7.8M588.92 119.12h7.8M592.82 115.22v7.8M590 118.2h7.8M593.9 114.3v7.8M591.04 117.29h7.8M594.94 113.39v7.8M592.07 116.4h7.8M595.97 112.5v7.8M593.07 115.53h7.8M596.97 111.63v7.8M594.05 114.68h7.8M597.95 110.78v7.8M595.01 113.84h7.8M598.91 109.94v7.8M595.95 113.02h7.8M599.85 109.12v7.8M596.87 112.22h7.8M600.77 108.32v7.8M597.77 111.36h7.8M601.67 107.46v7.8M598.65 110.49h7.8M602.55 106.59v7.8M599.52 109.62h7.8M603.42 105.72v7.8M600.37 108.76h7.8M604.27 104.86v7.8M601.2 107.91h7.8M605.1 104.01v7.8M602.02 107.08h7.8M605.92 103.18v7.8M602.83 106.26h7.8M606.73 102.36v7.8M603.62 105.47h7.8M607.52 101.57v7.8M604.39 104.7h7.8M608.29 100.8v7.8M605.15 103.96h7.8M609.05 100.06v7.8M605.9 103.26h7.8M609.8 99.36v7.8M606.64 102.55h7.8M610.54 98.65v7.8M607.37 101.85h7.8M611.27 97.95v7.8M608.08 101.17h7.8M611.98 97.27v7.8M608.78 100.5h7.8M612.68 96.6v7.8M609.47 99.85h7.8M613.37 95.95v7.8M610.15 99.22h7.8M614.05 95.32v7.8M610.82 98.6h7.8M614.72 94.7v7.8M611.49 97.99h7.8M615.39 94.09v7.8M612.14 97.4h7.8M616.04 93.5v7.8M612.78 96.82h7.8M616.68 92.92v7.8M613.41 96.25h7.8M617.31 92.35v7.8M614.03 95.69h7.8M617.93 91.79v7.8M614.65 95.14h7.8M618.55 91.24v7.8M615.26 94.6h7.8M619.16 90.7v7.8M615.86 94.07h7.8M619.76 90.17v7.8M616.45 93.55h7.8M620.35 89.65v7.8M617.03 93.04h7.8M620.93 89.14v7.8M617.6 92.54h7.8M621.5 88.64v7.8M618.17 92.05h7.8M622.07 88.15v7.8M618.73 91.56h7.8M622.63 87.66v7.8M619.29 91.08h7.8M623.19 87.18v7.8M619.83 90.66h7.8M623.73 86.76v7.8M620.38 90.26h7.8M624.28 86.36v7.8M620.91 89.86h7.8M624.81 85.96v7.8M621.44 89.47h7.8M625.34 85.57v7.8M621.96 89.08h7.8M625.86 85.18v7.8M622.47 88.7h7.8M626.37 84.8v7.8M622.98 88.32h7.8M626.88 84.42v7.8M623.49 87.94h7.8M627.39 84.04v7.8M623.99 87.57h7.8M627.89 83.67v7.8M624.48 87.2h7.8M628.38 83.3v7.8M624.97 86.84h7.8M628.87 82.94v7.8M625.45 86.48h7.8M629.35 82.58v7.8M625.93 86.12h7.8M629.83 82.22v7.8M626.4 85.76h7.8M630.3 81.86v7.8M626.87 85.41h7.8M630.77 81.51v7.8M627.33 85.07h7.8M631.23 81.17v7.8M627.78 84.72h7.8M631.68 80.82v7.8M628.24 84.38h7.8M632.14 80.48v7.8M628.69 84.05h7.8M632.59 80.15v7.8M629.13 83.72h7.8M633.03 79.82v7.8M629.57 83.39h7.8M633.47 79.49v7.8M630 83.06h7.8M633.9 79.16v7.8M630.44 82.74h7.8M634.34 78.84v7.8M630.86 82.42h7.8M634.76 78.52v7.8M631.28 82.11h7.8M635.18 78.21v7.8M631.7 81.8h7.8M635.6 77.9v7.8M632.12 81.49h7.8M636.02 77.59v7.8M632.53 81.18h7.8M636.43 77.28v7.8M632.94 80.88h7.8M636.84 76.98v7.8M633.34 80.58h7.8M637.24 76.68v7.8M633.74 80.29h7.8M637.64 76.39v7.8M634.14 80h7.8M638.04 76.1v7.8M634.53 79.71h7.8M638.43 75.81v7.8M634.92 79.42h7.8M638.82 75.52v7.8M635.31 79.14h7.8M639.21 75.24v7.8M635.69 78.86h7.8M639.59 74.96v7.8M636.07 78.58h7.8M639.97 74.68v7.8M636.44 78.31h7.8M640.34 74.41v7.8M636.82 78.04h7.8M640.72 74.14v7.8M637.19 77.77h7.8M641.09 73.87v7.8M637.55 77.49h7.8M641.45 73.59v7.8M637.92 77.2h7.8M641.82 73.3v7.8M638.28 76.92h7.8M642.18 73.02v7.8M638.64 76.65h7.8M642.54 72.75v7.8M638.99 76.37h7.8M642.89 72.47v7.8M639.35 76.1h7.8M643.25 72.2v7.8M639.7 75.83h7.8M643.6 71.93v7.8M640.04 75.57h7.8M643.94 71.67v7.8M640.39 75.31h7.8M644.29 71.41v7.8M640.73 75.05h7.8M644.63 71.15v7.8M641.07 74.79h7.8M644.97 70.89v7.8M641.4 74.53h7.8M645.3 70.63v7.8M641.74 74.28h7.8M645.64 70.38v7.8M642.07 74.03h7.8M645.97 70.13v7.8M642.4 73.78h7.8M646.3 69.88v7.8M642.73 73.54h7.8M646.63 69.64v7.8M643.05 73.3h7.8M646.95 69.4v7.8M643.37 73.06h7.8M647.27 69.16v7.8M643.69 72.82h7.8M647.59 68.92v7.8M644.01 72.58h7.8M647.91 68.68v7.8M644.33 72.35h7.8M648.23 68.45v7.8M644.64 72.12h7.8M648.54 68.22v7.8M644.95 71.89h7.8M648.85 67.99v7.8M645.26 71.66h7.8M649.16 67.76v7.8M645.56 71.44h7.8M649.46 67.54v7.8M645.87 71.21h7.8M649.77 67.31v7.8M646.17 70.99h7.8M650.07 67.09v7.8M646.47 70.77h7.8M650.37 66.87v7.8M646.77 70.56h7.8M650.67 66.66v7.8M647.07 70.34h7.8M650.97 66.44v7.8M647.36 70.13h7.8M651.26 66.23v7.8M647.65 69.92h7.8M651.55 66.02v7.8M647.94 69.71h7.8M651.84 65.81v7.8M648.23 69.5h7.8M652.13 65.6v7.8M648.52 69.3h7.8M652.42 65.4v7.8M648.8 69.09h7.8M652.7 65.19v7.8M649.09 68.89h7.8M652.99 64.99v7.8M649.37 68.69h7.8M653.27 64.79v7.8M649.65 68.49h7.8M653.55 64.59v7.8M649.93 68.3h7.8M653.83 64.4v7.8M650.2 68.1h7.8M654.1 64.2v7.8M650.48 67.91h7.8M654.38 64.01v7.8M650.75 67.72h7.8M654.65 63.82v7.8M651.02 67.53h7.8M654.92 63.63v7.8M651.29 67.35h7.8M655.19 63.45v7.8M651.56 67.16h7.8M655.46 63.26v7.8M651.82 66.98h7.8M655.72 63.08v7.8M652.09 66.8h7.8M655.99 62.9v7.8M652.35 66.62h7.8M656.25 62.72v7.8M652.61 66.45h7.8M656.51 62.55v7.8M652.87 66.27h7.8M656.77 62.37v7.8M653.13 66.1h7.8M657.03 62.2v7.8M653.39 65.93h7.8M657.29 62.03v7.8M653.64 65.76h7.8M657.54 61.86v7.8M653.9 65.59h7.8M657.8 61.69v7.8M654.15 65.42h7.8M658.05 61.52v7.8M654.4 65.25h7.8M658.3 61.35v7.8M654.65 65.08h7.8M658.55 61.18v7.8M654.9 64.92h7.8M658.8 61.02v7.8M655.15 64.76h7.8M659.05 60.86v7.8M655.39 64.6h7.8M659.29 60.7v7.8M655.64 64.43h7.8M659.54 60.53v7.8M655.88 64.28h7.8M659.78 60.38v7.8M656.12 64.12h7.8M660.02 60.22v7.8M656.36 63.96h7.8M660.26 60.06v7.8M656.6 63.8h7.8M660.5 59.9v7.8M656.84 63.65h7.8M660.74 59.75v7.8M657.08 63.5h7.8M660.98 59.6v7.8M657.31 63.34h7.8M661.21 59.44v7.8M657.55 63.19h7.8M661.45 59.29v7.8M657.78 63.04h7.8M661.68 59.14v7.8M658.01 62.89h7.8M661.91 58.99v7.8M658.24 62.74h7.8M662.14 58.84v7.8M658.47 62.6h7.8M662.37 58.7v7.8M658.7 62.45h7.8M662.6 58.55v7.8M658.93 62.3h7.8M662.83 58.4v7.8M659.15 62.16h7.8M663.05 58.26v7.8M659.38 62.02h7.8M663.28 58.12v7.8M659.6 61.87h7.8M663.5 57.97v7.8M659.82 61.73h7.8M663.72 57.83v7.8M660.04 61.59h7.8M663.94 57.69v7.8M660.26 61.45h7.8M664.16 57.55v7.8M660.48 61.31h7.8M664.38 57.41v7.8M660.7 61.17h7.8M664.6 57.27v7.8M660.92 61.03h7.8M664.82 57.13v7.8M661.13 60.9h7.8M665.03 57v7.8M661.35 60.76h7.8M665.25 56.86v7.8M661.56 60.63h7.8M665.46 56.73v7.8M661.78 60.49h7.8M665.68 56.59v7.8M661.99 60.36h7.8M665.89 56.46v7.8M662.2 60.23h7.8M666.1 56.33v7.8M662.41 60.09h7.8M666.31 56.19v7.8M662.62 59.96h7.8M666.52 56.06v7.8M662.83 59.83h7.8M666.73 55.93v7.8M663.03 59.7h7.8M666.93 55.8v7.8M663.24 59.57h7.8M667.14 55.67v7.8M663.44 59.45h7.8M667.34 55.55v7.8M663.65 59.32h7.8M667.55 55.42v7.8M663.85 59.19h7.8M667.75 55.29v7.8M664.05 59.06h7.8M667.95 55.16v7.8M664.25 58.94h7.8M668.15 55.04v7.8M664.46 58.81h7.8M668.36 54.91v7.8M664.65 58.69h7.8M668.55 54.79v7.8M664.85 58.56h7.8M668.75 54.66v7.8M665.05 58.44h7.8M668.95 54.54v7.8M665.25 58.32h7.8M669.15 54.42v7.8M665.44 58.2h7.8M669.34 54.3v7.8M665.64 58.08h7.8M669.54 54.18v7.8M665.83 57.95h7.8M669.73 54.05v7.8M666.03 57.83h7.8M669.93 53.93v7.8M666.22 57.71h7.8M670.12 53.81v7.8M666.41 57.6h7.8M670.31 53.7v7.8M666.6 57.49h7.8M670.5 53.59v7.8M666.79 57.38h7.8M670.69 53.48v7.8M666.98 57.27h7.8M670.88 53.37v7.8M667.17 57.15h7.8M671.07 53.25v7.8M667.36 57.04h7.8M671.26 53.14v7.8M667.55 56.94h7.8M671.45 53.04v7.8M667.73 56.83h7.8M671.63 52.93v7.8M667.92 56.72h7.8M671.82 52.82v7.8M668.1 56.61h7.8M672 52.71v7.8M668.29 56.5h7.8M672.19 52.6v7.8M668.47 56.4h7.8M672.37 52.5v7.8M668.65 56.29h7.8M672.55 52.39v7.8M668.83 56.19h7.8M672.73 52.29v7.8M669.01 56.08h7.8M672.91 52.18v7.8M669.19 55.98h7.8M673.09 52.08v7.8M669.37 55.87h7.8M673.27 51.97v7.8M669.55 55.77h7.8M673.45 51.87v7.8M669.73 55.67h7.8M673.63 51.77v7.8M669.91 55.57h7.8M673.81 51.67v7.8M670.08 55.46h7.8M673.98 51.56v7.8M670.26 55.36h7.8M674.16 51.46v7.8M670.44 55.26h7.8M674.34 51.36v7.8M670.61 55.16h7.8M674.51 51.26v7.8M670.78 55.06h7.8M674.68 51.16v7.8M670.96 54.96h7.8M674.86 51.06v7.8M671.13 54.86h7.8M675.03 50.96v7.8M671.3 54.77h7.8M675.2 50.87v7.8M671.47 54.67h7.8M675.37 50.77v7.8M671.64 54.57h7.8M675.54 50.67v7.8M671.81 54.47h7.8M675.71 50.57v7.8M671.98 54.38h7.8M675.88 50.48v7.8M672.15 54.28h7.8M676.05 50.38v7.8M672.32 54.19h7.8M676.22 50.29v7.8M672.49 54.09h7.8M676.39 50.19v7.8M672.65 54h7.8M676.55 50.1v7.8M672.82 53.9h7.8M676.72 50v7.8M672.98 53.81h7.8M676.88 49.91v7.8M673.15 53.72h7.8M677.05 49.82v7.8M673.31 53.63h7.8M677.21 49.73v7.8M673.48 53.53h7.8M677.38 49.63v7.8M673.64 53.44h7.8M677.54 49.54v7.8M673.8 53.35h7.8M677.7 49.45v7.8M673.97 53.26h7.8M677.87 49.36v7.8M674.13 53.17h7.8M678.03 49.27v7.8M674.29 53.08h7.8M678.19 49.18v7.8M674.45 52.99h7.8M678.35 49.09v7.8M674.61 52.9h7.8M678.51 49v7.8M674.77 52.81h7.8M678.67 48.91v7.8M674.92 52.72h7.8M678.82 48.82v7.8M675.08 52.63h7.8M678.98 48.73v7.8M675.24 52.55h7.8M679.14 48.65v7.8" stroke="#e08fb6" stroke-width="0.5"/>
<path d="M423.3 205.3h7.8M427.2 201.4v7.8M454.21 206.3h7.8M458.11 202.4v7.8M472.29 204.1h7.8M476.19 200.2v7.8M485.12 202.6h7.8M489.02 198.7v7.8M495.08 199.04h7.8M498.98 195.14v7.8M503.21 197.2h7.8M507.11 193.3v7.8M510.08 192.23h7.8M513.98 188.33v7.8M516.04 190.67h7.8M519.94 186.77v7.8M521.29 186.22h7.8M525.19 182.32v7.8M525.99 182.41h7.8M529.89 178.51v7.8M530.24 179.79h7.8M534.14 175.89v7.8M534.12 175.42h7.8M538.02 171.52v7.8M537.69 172.49h7.8M541.59 168.59v7.8M541 169.05h7.8M544.9 165.15v7.8M544.07 166.13h7.8M547.97 162.23v7.8M546.95 163.23h7.8M550.85 159.33v7.8M549.66 160.46h7.8M553.56 156.56v7.8M552.21 157.81h7.8M556.11 153.91v7.8M554.62 155.27h7.8M558.52 151.37v7.8M556.9 152.84h7.8M560.8 148.94v7.8M559.08 150.52h7.8M562.98 146.62v7.8M561.16 148.29h7.8M565.06 144.39v7.8M563.14 146.15h7.8M567.04 142.25v7.8M565.04 144.1h7.8M568.94 140.2v7.8M566.86 142.14h7.8M570.76 138.24v7.8M568.61 140.25h7.8M572.51 136.35v7.8M570.29 138.43h7.8M574.19 134.53v7.8M571.91 136.69h7.8M575.81 132.79v7.8M573.48 135.01h7.8M577.38 131.11v7.8M574.99 133.39h7.8M578.89 129.49v7.8M576.45 131.83h7.8M580.35 127.93v7.8M577.87 130.33h7.8M581.77 126.43v7.8M579.24 128.88h7.8M583.14 124.98v7.8M580.57 127.49h7.8M584.47 123.59v7.8M581.86 126.25h7.8M585.76 122.35v7.8M583.12 125.12h7.8M587.02 121.22v7.8M584.34 124.02h7.8M588.24 120.12v7.8M585.53 122.95h7.8M589.43 119.05v7.8M586.69 121.9h7.8M590.59 118v7.8M587.82 120.88h7.8M591.72 116.98v7.8M588.92 119.89h7.8M592.82 115.99v7.8M590 118.92h7.8M593.9 115.02v7.8M591.04 117.97h7.8M594.94 114.07v7.8M592.07 117.05h7.8M595.97 113.15v7.8M593.07 116.14h7.8M596.97 112.24v7.8M594.05 115.25h7.8M597.95 111.35v7.8M595.01 114.38h7.8M598.91 110.48v7.8M595.95 113.52h7.8M599.85 109.62v7.8M596.87 112.68h7.8M600.77 108.78v7.8M597.77 111.8h7.8M601.67 107.9v7.8M598.65 110.92h7.8M602.55 107.02v7.8M599.52 110.04h7.8M603.42 106.14v7.8M600.37 109.16h7.8M604.27 105.26v7.8M601.2 108.3h7.8M605.1 104.4v7.8M602.02 107.46h7.8M605.92 103.56v7.8M602.83 106.63h7.8M606.73 102.73v7.8M603.62 105.82h7.8M607.52 101.92v7.8M604.39 105.05h7.8M608.29 101.15v7.8M605.15 104.29h7.8M609.05 100.39v7.8M605.9 103.58h7.8M609.8 99.68v7.8M606.64 102.86h7.8M610.54 98.96v7.8M607.37 102.16h7.8M611.27 98.26v7.8M608.08 101.48h7.8M611.98 97.58v7.8M608.78 100.81h7.8M612.68 96.91v7.8M609.47 100.16h7.8M613.37 96.26v7.8M610.15 99.52h7.8M614.05 95.62v7.8M610.82 98.9h7.8M614.72 95v7.8M611.49 98.29h7.8M615.39 94.39v7.8M612.14 97.69h7.8M616.04 93.79v7.8M612.78 97.11h7.8M616.68 93.21v7.8M613.41 96.54h7.8M617.31 92.64v7.8M614.03 95.98h7.8M617.93 92.08v7.8M614.65 95.43h7.8M618.55 91.53v7.8M615.26 94.89h7.8M619.16 90.99v7.8M615.86 94.35h7.8M619.76 90.45v7.8M616.45 93.83h7.8M620.35 89.93v7.8M617.03 93.32h7.8M620.93 89.42v7.8M617.6 92.82h7.8M621.5 88.92v7.8M618.17 92.32h7.8M622.07 88.42v7.8M618.73 91.83h7.8M622.63 87.93v7.8M619.29 91.35h7.8M623.19 87.45v7.8M619.83 90.92h7.8M623.73 87.02v7.8M620.38 90.52h7.8M624.28 86.62v7.8M620.91 90.12h7.8M624.81 86.22v7.8M621.44 89.72h7.8M625.34 85.82v7.8M621.96 89.33h7.8M625.86 85.43v7.8M622.47 88.94h7.8M626.37 85.04v7.8M622.98 88.56h7.8M626.88 84.66v7.8M623.49 88.18h7.8M627.39 84.28v7.8M623.99 87.8h7.8M627.89 83.9v7.8M624.48 87.43h7.8M628.38 83.53v7.8M624.97 87.06h7.8M628.87 83.16v7.8M625.45 86.7h7.8M629.35 82.8v7.8M625.93 86.34h7.8M629.83 82.44v7.8M626.4 85.98h7.8M630.3 82.08v7.8M626.87 85.62h7.8M630.77 81.72v7.8M627.33 85.27h7.8M631.23 81.37v7.8M627.78 84.93h7.8M631.68 81.03v7.8M628.24 84.58h7.8M632.14 80.68v7.8M628.69 84.24h7.8M632.59 80.34v7.8M629.13 83.91h7.8M633.03 80.01v7.8M629.57 83.58h7.8M633.47 79.68v7.8M630 83.25h7.8M633.9 79.35v7.8M630.44 82.92h7.8M634.34 79.02v7.8M630.86 82.6h7.8M634.76 78.7v7.8M631.28 82.28h7.8M635.18 78.38v7.8M631.7 81.97h7.8M635.6 78.07v7.8M632.12 81.66h7.8M636.02 77.76v7.8M632.53 81.35h7.8M636.43 77.45v7.8M632.94 81.05h7.8M636.84 77.15v7.8M633.34 80.75h7.8M637.24 76.85v7.8M633.74 80.45h7.8M637.64 76.55v7.8M634.14 80.15h7.8M638.04 76.25v7.8M634.53 79.86h7.8M638.43 75.96v7.8M634.92 79.57h7.8M638.82 75.67v7.8M635.31 79.29h7.8M639.21 75.39v7.8M635.69 79.01h7.8M639.59 75.11v7.8M636.07 78.73h7.8M639.97 74.83v7.8M636.44 78.45h7.8M640.34 74.55v7.8M636.82 78.18h7.8M640.72 74.28v7.8M637.19 77.91h7.8M641.09 74.01v7.8M637.55 77.62h7.8M641.45 73.72v7.8M637.92 77.34h7.8M641.82 73.44v7.8M638.28 77.06h7.8M642.18 73.16v7.8M638.64 76.79h7.8M642.54 72.89v7.8M638.99 76.51h7.8M642.89 72.61v7.8M639.35 76.24h7.8M643.25 72.34v7.8M639.7 75.98h7.8M643.6 72.08v7.8M640.04 75.71h7.8M643.94 71.81v7.8M640.39 75.45h7.8M644.29 71.55v7.8M640.73 75.19h7.8M644.63 71.29v7.8M641.07 74.94h7.8M644.97 71.04v7.8M641.4 74.68h7.8M645.3 70.78v7.8M641.74 74.43h7.8M645.64 70.53v7.8M642.07 74.18h7.8M645.97 70.28v7.8M642.4 73.93h7.8M646.3 70.03v7.8M642.73 73.69h7.8M646.63 69.79v7.8M643.05 73.45h7.8M646.95 69.55v7.8M643.37 73.21h7.8M647.27 69.31v7.8M643.69 72.97h7.8M647.59 69.07v7.8M644.01 72.74h7.8M647.91 68.84v7.8M644.33 72.5h7.8M648.23 68.6v7.8M644.64 72.27h7.8M648.54 68.37v7.8M644.95 72.04h7.8M648.85 68.14v7.8M645.26 71.82h7.8M649.16 67.92v7.8M645.56 71.59h7.8M649.46 67.69v7.8M645.87 71.37h7.8M649.77 67.47v7.8M646.17 71.15h7.8M650.07 67.25v7.8M646.47 70.93h7.8M650.37 67.03v7.8M646.77 70.72h7.8M650.67 66.82v7.8M647.07 70.5h7.8M650.97 66.6v7.8M647.36 70.29h7.8M651.26 66.39v7.8M647.65 70.08h7.8M651.55 66.18v7.8M647.94 69.87h7.8M651.84 65.97v7.8M648.23 69.67h7.8M652.13 65.77v7.8M648.52 69.46h7.8M652.42 65.56v7.8M648.8 69.26h7.8M652.7 65.36v7.8M649.09 69.06h7.8M652.99 65.16v7.8M649.37 68.86h7.8M653.27 64.96v7.8M649.65 68.66h7.8M653.55 64.76v7.8M649.93 68.47h7.8M653.83 64.57v7.8M650.2 68.27h7.8M654.1 64.37v7.8M650.48 68.08h7.8M654.38 64.18v7.8M650.75 67.89h7.8M654.65 63.99v7.8M651.02 67.7h7.8M654.92 63.8v7.8M651.29 67.52h7.8M655.19 63.62v7.8M651.56 67.34h7.8M655.46 63.44v7.8M651.82 67.16h7.8M655.72 63.26v7.8M652.09 66.98h7.8M655.99 63.08v7.8M652.35 66.8h7.8M656.25 62.9v7.8M652.61 66.63h7.8M656.51 62.73v7.8M652.87 66.46h7.8M656.77 62.56v7.8M653.13 66.28h7.8M657.03 62.38v7.8M653.39 66.11h7.8M657.29 62.21v7.8M653.64 65.94h7.8M657.54 62.04v7.8M653.9 65.77h7.8M657.8 61.87v7.8M654.15 65.61h7.8M658.05 61.71v7.8M654.4 65.44h7.8M658.3 61.54v7.8M654.65 65.28h7.8M658.55 61.38v7.8M654.9 65.11h7.8M658.8 61.21v7.8M655.15 64.95h7.8M659.05 61.05v7.8M655.39 64.79h7.8M659.29 60.89v7.8M655.64 64.63h7.8M659.54 60.73v7.8M655.88 64.47h7.8M659.78 60.57v7.8M656.12 64.32h7.8M660.02 60.42v7.8M656.36 64.16h7.8M660.26 60.26v7.8M656.6 64.01h7.8M660.5 60.11v7.8M656.84 63.85h7.8M660.74 59.95v7.8M657.08 63.7h7.8M660.98 59.8v7.8M657.31 63.55h7.8M661.21 59.65v7.8M657.55 63.4h7.8M661.45 59.5v7.8M657.78 63.25h7.8M661.68 59.35v7.8M658.01 63.1h7.8M661.91 59.2v7.8M658.24 62.95h7.8M662.14 59.05v7.8M658.47 62.81h7.8M662.37 58.91v7.8M658.7 62.66h7.8M662.6 58.76v7.8M658.93 62.52h7.8M662.83 58.62v7.8M659.15 62.38h7.8M663.05 58.48v7.8M659.38 62.23h7.8M663.28 58.33v7.8M659.6 62.09h7.8M663.5 58.19v7.8M659.82 61.95h7.8M663.72 58.05v7.8M660.04 61.81h7.8M663.94 57.91v7.8M660.26 61.67h7.8M664.16 57.77v7.8M660.48 61.53h7.8M664.38 57.63v7.8M660.7 61.4h7.8M664.6 57.5v7.8M660.92 61.26h7.8M664.82 57.36v7.8M661.13 61.13h7.8M665.03 57.23v7.8M661.35 60.99h7.8M665.25 57.09v7.8M661.56 60.86h7.8M665.46 56.96v7.8M661.78 60.72h7.8M665.68 56.82v7.8M661.99 60.59h7.8M665.89 56.69v7.8M662.2 60.46h7.8M666.1 56.56v7.8M662.41 60.33h7.8M666.31 56.43v7.8M662.62 60.2h7.8M666.52 56.3v7.8M662.83 60.07h7.8M666.73 56.17v7.8M663.03 59.94h7.8M666.93 56.04v7.8M663.24 59.81h7.8M667.14 55.91v7.8M663.44 59.69h7.8M667.34 55.79v7.8M663.65 59.56h7.8M667.55 55.66v7.8M663.85 59.43h7.8M667.75 55.53v7.8M664.05 59.31h7.8M667.95 55.41v7.8M664.25 59.18h7.8M668.15 55.28v7.8M664.46 59.06h7.8M668.36 55.16v7.8M664.65 58.94h7.8M668.55 55.04v7.8M664.85 58.81h7.8M668.75 54.91v7.8M665.05 58.69h7.8M668.95 54.79v7.8M665.25 58.57h7.8M669.15 54.67v7.8M665.44 58.45h7.8M669.34 54.55v7.8M665.64 58.33h7.8M669.54 54.43v7.8M665.83 58.21h7.8M669.73 54.31v7.8M666.03 58.09h7.8M669.93 54.19v7.8M666.22 57.97h7.8M670.12 54.07v7.8M666.41 57.86h7.8M670.31 53.96v7.8M666.6 57.75h7.8M670.5 53.85v7.8M666.79 57.64h7.8M670.69 53.74v7.8M666.98 57.53h7.8M670.88 53.63v7.8M667.17 57.42h7.8M671.07 53.52v7.8M667.36 57.31h7.8M671.26 53.41v7.8M667.55 57.21h7.8M671.45 53.31v7.8M667.73 57.1h7.8M671.63 53.2v7.8M667.92 56.99h7.8M671.82 53.09v7.8M668.1 56.89h7.8M672 52.99v7.8M668.29 56.78h7.8M672.19 52.88v7.8M668.47 56.68h7.8M672.37 52.78v7.8M668.65 56.58h7.8M672.55 52.68v7.8M668.83 56.47h7.8M672.73 52.57v7.8M669.01 56.37h7.8M672.91 52.47v7.8M669.19 56.27h7.8M673.09 52.37v7.8M669.37 56.17h7.8M673.27 52.27v7.8M669.55 56.07h7.8M673.45 52.17v7.8M669.73 55.97h7.8M673.63 52.07v7.8M669.91 55.87h7.8M673.81 51.97v7.8M670.08 55.77h7.8M673.98 51.87v7.8M670.26 55.67h7.8M674.16 51.77v7.8M670.44 55.57h7.8M674.34 51.67v7.8M670.61 55.47h7.8M674.51 51.57v7.8M670.78 55.37h7.8M674.68 51.47v7.8M670.96 55.28h7.8M674.86 51.38v7.8M671.13 55.18h7.8M675.03 51.28v7.8M671.3 55.08h7.8M675.2 51.18v7.8M671.47 54.99h7.8M675.37 51.09v7.8M671.64 54.89h7.8M675.54 50.99v7.8M671.81 54.8h7.8M675.71 50.9v7.8M671.98 54.7h7.8M675.88 50.8v7.8M672.15 54.61h7.8M676.05 50.71v7.8M672.32 54.52h7.8M676.22 50.62v7.8M672.49 54.42h7.8M676.39 50.52v7.8M672.65 54.33h7.8M676.55 50.43v7.8M672.82 54.24h7.8M676.72 50.34v7.8M672.98 54.15h7.8M676.88 50.25v7.8M673.15 54.06h7.8M677.05 50.16v7.8M673.31 53.97h7.8M677.21 50.07v7.8M673.48 53.88h7.8M677.38 49.98v7.8M673.64 53.79h7.8M677.54 49.89v7.8M673.8 53.7h7.8M677.7 49.8v7.8M673.97 53.61h7.8M677.87 49.71v7.8M674.13 53.52h7.8M678.03 49.62v7.8M674.29 53.43h7.8M678.19 49.53v7.8M674.45 53.34h7.8M678.35 49.44v7.8M674.61 53.26h7.8M678.51 49.36v7.8M674.77 53.17h7.8M678.67 49.27v7.8M674.92 53.08h7.8M678.82 49.18v7.8M675.08 53h7.8M678.98 49.1v7.8M675.24 52.91h7.8M679.14 49.01v7.8" stroke="#c9558a" stroke-width="0.5"/>
<path d="M423.3 217.3h7.8M427.2 213.4v7.8M454.21 211.5h7.8M458.11 207.6v7.8M472.29 208.6h7.8M476.19 204.7v7.8M485.12 209.4h7.8M489.02 205.5v7.8M495.08 206.22h7.8M498.98 202.32v7.8M503.21 203.08h7.8M507.11 199.18v7.8M510.08 199.81h7.8M513.98 195.91v7.8M516.04 196.79h7.8M519.94 192.89v7.8M521.29 193.23h7.8M525.19 189.33v7.8M525.99 187.61h7.8M529.89 183.71v7.8M530.24 185.15h7.8M534.14 181.25v7.8M534.12 182.09h7.8M538.02 178.19v7.8M537.69 178.69h7.8M541.59 174.79v7.8M541 175.38h7.8M544.9 171.48v7.8M544.07 172.18h7.8M547.97 168.28v7.8M546.95 169.33h7.8M550.85 165.43v7.8M549.66 166.6h7.8M553.56 162.7v7.8M552.21 163.99h7.8M556.11 160.09v7.8M554.62 161.5h7.8M558.52 157.6v7.8M556.9 159.11h7.8M560.8 155.21v7.8M559.08 156.82h7.8M562.98 152.92v7.8M561.16 154.62h7.8M565.06 150.72v7.8M563.14 152.52h7.8M567.04 148.62v7.8M565.04 150.5h7.8M568.94 146.6v7.8M566.86 148.57h7.8M570.76 144.67v7.8M568.61 146.71h7.8M572.51 142.81v7.8M570.29 144.92h7.8M574.19 141.02v7.8M571.91 143.2h7.8M575.81 139.3v7.8M573.48 141.55h7.8M577.38 137.65v7.8M574.99 139.96h7.8M578.89 136.06v7.8M576.45 138.43h7.8M580.35 134.53v7.8M577.87 136.95h7.8M581.77 133.05v7.8M579.24 135.52h7.8M583.14 131.62v7.8M580.57 134.15h7.8M584.47 130.25v7.8M581.86 132.73h7.8M585.76 128.83v7.8M583.12 131.3h7.8M587.02 127.4v7.8M584.34 129.91h7.8M588.24 126.01v7.8M585.53 128.55h7.8M589.43 124.65v7.8M586.69 127.23h7.8M590.59 123.33v7.8M587.82 125.95h7.8M591.72 122.05v7.8M588.92 124.69h7.8M592.82 120.79v7.8M590 123.46h7.8M593.9 119.56v7.8M591.04 122.26h7.8M594.94 118.36v7.8M592.07 121.09h7.8M595.97 117.19v7.8M593.07 119.94h7.8M596.97 116.04v7.8M594.05 118.82h7.8M597.95 114.92v7.8M595.01 117.72h7.8M598.91 113.82v7.8M595.95 116.64h7.8M599.85 112.74v7.8M596.87 115.58h7.8M600.77 111.68v7.8M597.77 114.58h7.8M601.67 110.68v7.8M598.65 113.61h7.8M602.55 109.71v7.8M599.52 112.65h7.8M603.42 108.75v7.8M600.37 111.69h7.8M604.27 107.79v7.8M601.2 110.75h7.8M605.1 106.85v7.8M602.02 109.83h7.8M605.92 105.93v7.8M602.83 108.92h7.8M606.73 105.02v7.8M603.62 108.04h7.8M607.52 104.14v7.8M604.39 107.19h7.8M608.29 103.29v7.8M605.15 106.37h7.8M609.05 102.47v7.8M605.9 105.58h7.8M609.8 101.68v7.8M606.64 104.83h7.8M610.54 100.93v7.8M607.37 104.12h7.8M611.27 100.22v7.8M608.08 103.41h7.8M611.98 99.51v7.8M608.78 102.73h7.8M612.68 98.83v7.8M609.47 102.06h7.8M613.37 98.16v7.8M610.15 101.41h7.8M614.05 97.51v7.8M610.82 100.77h7.8M614.72 96.87v7.8M611.49 100.15h7.8M615.39 96.25v7.8M612.14 99.54h7.8M616.04 95.64v7.8M612.78 98.94h7.8M616.68 95.04v7.8M613.41 98.35h7.8M617.31 94.45v7.8M614.03 97.77h7.8M617.93 93.87v7.8M614.65 97.21h7.8M618.55 93.31v7.8M615.26 96.65h7.8M619.16 92.75v7.8M615.86 96.11h7.8M619.76 92.21v7.8M616.45 95.57h7.8M620.35 91.67v7.8M617.03 95.05h7.8M620.93 91.15v7.8M617.6 94.53h7.8M621.5 90.63v7.8M618.17 94.02h7.8M622.07 90.12v7.8M618.73 93.52h7.8M622.63 89.62v7.8M619.29 93.02h7.8M623.19 89.12v7.8M619.83 92.5h7.8M623.73 88.6v7.8M620.38 91.98h7.8M624.28 88.08v7.8M620.91 91.46h7.8M624.81 87.56v7.8M621.44 90.95h7.8M625.34 87.05v7.8M621.96 90.45h7.8M625.86 86.55v7.8M622.47 89.96h7.8M626.37 86.06v7.8M622.98 89.47h7.8M626.88 85.57v7.8M623.49 88.99h7.8M627.39 85.09v7.8M623.99 88.52h7.8M627.89 84.62v7.8M624.48 88.05h7.8M628.38 84.15v7.8M624.97 87.58h7.8M628.87 83.68v7.8M625.45 87.13h7.8M629.35 83.23v7.8M625.93 86.67h7.8M629.83 82.77v7.8M626.4 86.23h7.8M630.3 82.33v7.8M626.87 85.79h7.8M630.77 81.89v7.8M627.33 85.36h7.8M631.23 81.46v7.8M627.78 84.94h7.8M631.68 81.04v7.8M628.24 84.52h7.8M632.14 80.62v7.8M628.69 84.1h7.8M632.59 80.2v7.8M629.13 83.69h7.8M633.03 79.79v7.8M629.57 83.29h7.8M633.47 79.39v7.8M630 82.9h7.8M633.9 79v7.8M630.44 82.51h7.8M634.34 78.61v7.8M630.86 82.12h7.8M634.76 78.22v7.8M631.28 81.74h7.8M635.18 77.84v7.8M631.7 81.37h7.8M635.6 77.47v7.8M632.12 81h7.8M636.02 77.1v7.8M632.53 80.63h7.8M636.43 76.73v7.8M632.94 80.27h7.8M636.84 76.37v7.8M633.34 79.92h7.8M637.24 76.02v7.8M633.74 79.57h7.8M637.64 75.67v7.8M634.14 79.23h7.8M638.04 75.33v7.8M634.53 78.89h7.8M638.43 74.99v7.8M634.92 78.55h7.8M638.82 74.65v7.8M635.31 78.22h7.8M639.21 74.32v7.8M635.69 77.9h7.8M639.59 74v7.8M636.07 77.58h7.8M639.97 73.68v7.8M636.44 77.26h7.8M640.34 73.36v7.8M636.82 76.95h7.8M640.72 73.05v7.8M637.19 76.64h7.8M641.09 72.74v7.8M637.55 76.34h7.8M641.45 72.44v7.8M637.92 76.05h7.8M641.82 72.15v7.8M638.28 75.77h7.8M642.18 71.87v7.8M638.64 75.48h7.8M642.54 71.58v7.8M638.99 75.2h7.8M642.89 71.3v7.8M639.35 74.92h7.8M643.25 71.02v7.8M639.7 74.65h7.8M643.6 70.75v7.8M640.04 74.37h7.8M643.94 70.47v7.8M640.39 74.1h7.8M644.29 70.2v7.8M640.73 73.84h7.8M644.63 69.94v7.8M641.07 73.57h7.8M644.97 69.67v7.8M641.4 73.31h7.8M645.3 69.41v7.8M641.74 73.05h7.8M645.64 69.15v7.8M642.07 72.79h7.8M645.97 68.89v7.8M642.4 72.54h7.8M646.3 68.64v7.8M642.73 72.29h7.8M646.63 68.39v7.8M643.05 72.04h7.8M646.95 68.14v7.8M643.37 71.79h7.8M647.27 67.89v7.8M643.69 71.55h7.8M647.59 67.65v7.8M644.01 71.3h7.8M647.91 67.4v7.8M644.33 71.06h7.8M648.23 67.16v7.8M644.64 70.83h7.8M648.54 66.93v7.8M644.95 70.59h7.8M648.85 66.69v7.8M645.26 70.36h7.8M649.16 66.46v7.8M645.56 70.12h7.8M649.46 66.22v7.8M645.87 69.9h7.8M649.77 66v7.8M646.17 69.67h7.8M650.07 65.77v7.8M646.47 69.44h7.8M650.37 65.54v7.8M646.77 69.22h7.8M650.67 65.32v7.8M647.07 69h7.8M650.97 65.1v7.8M647.36 68.78h7.8M651.26 64.88v7.8M647.65 68.56h7.8M651.55 64.66v7.8M647.94 68.35h7.8M651.84 64.45v7.8M648.23 68.13h7.8M652.13 64.23v7.8M648.52 67.92h7.8M652.42 64.02v7.8M648.8 67.71h7.8M652.7 63.81v7.8M649.09 67.5h7.8M652.99 63.6v7.8M649.37 67.3h7.8M653.27 63.4v7.8M649.65 67.09h7.8M653.55 63.19v7.8M649.93 66.89h7.8M653.83 62.99v7.8M650.2 66.69h7.8M654.1 62.79v7.8M650.48 66.49h7.8M654.38 62.59v7.8M650.75 66.29h7.8M654.65 62.39v7.8M651.02 66.1h7.8M654.92 62.2v7.8M651.29 65.9h7.8M655.19 62v7.8M651.56 65.7h7.8M655.46 61.8v7.8M651.82 65.51h7.8M655.72 61.61v7.8M652.09 65.32h7.8M655.99 61.42v7.8M652.35 65.13h7.8M656.25 61.23v7.8M652.61 64.94h7.8M656.51 61.04v7.8M652.87 64.75h7.8M656.77 60.85v7.8M653.13 64.57h7.8M657.03 60.67v7.8M653.39 64.38h7.8M657.29 60.48v7.8M653.64 64.2h7.8M657.54 60.3v7.8M653.9 64.02h7.8M657.8 60.12v7.8M654.15 63.84h7.8M658.05 59.94v7.8M654.4 63.66h7.8M658.3 59.76v7.8M654.65 63.48h7.8M658.55 59.58v7.8M654.9 63.31h7.8M658.8 59.41v7.8M655.15 63.13h7.8M659.05 59.23v7.8M655.39 62.96h7.8M659.29 59.06v7.8M655.64 62.79h7.8M659.54 58.89v7.8M655.88 62.62h7.8M659.78 58.72v7.8M656.12 62.45h7.8M660.02 58.55v7.8M656.36 62.28h7.8M660.26 58.38v7.8M656.6 62.11h7.8M660.5 58.21v7.8M656.84 61.95h7.8M660.74 58.05v7.8M657.08 61.78h7.8M660.98 57.88v7.8M657.31 61.62h7.8M661.21 57.72v7.8M657.55 61.46h7.8M661.45 57.56v7.8M657.78 61.3h7.8M661.68 57.4v7.8M658.01 61.14h7.8M661.91 57.24v7.8M658.24 60.98h7.8M662.14 57.08v7.8M658.47 60.82h7.8M662.37 56.92v7.8M658.7 60.66h7.8M662.6 56.76v7.8M658.93 60.51h7.8M662.83 56.61v7.8M659.15 60.35h7.8M663.05 56.45v7.8M659.38 60.2h7.8M663.28 56.3v7.8M659.6 60.05h7.8M663.5 56.15v7.8M659.82 59.89h7.8M663.72 55.99v7.8M660.04 59.74h7.8M663.94 55.84v7.8M660.26 59.59h7.8M664.16 55.69v7.8M660.48 59.44h7.8M664.38 55.54v7.8M660.7 59.29h7.8M664.6 55.39v7.8M660.92 59.15h7.8M664.82 55.25v7.8M661.13 59h7.8M665.03 55.1v7.8M661.35 58.86h7.8M665.25 54.96v7.8M661.56 58.71h7.8M665.46 54.81v7.8M661.78 58.57h7.8M665.68 54.67v7.8M661.99 58.42h7.8M665.89 54.52v7.8M662.2 58.28h7.8M666.1 54.38v7.8M662.41 58.14h7.8M666.31 54.24v7.8M662.62 58h7.8M666.52 54.1v7.8M662.83 57.86h7.8M666.73 53.96v7.8M663.03 57.72h7.8M666.93 53.82v7.8M663.24 57.58h7.8M667.14 53.68v7.8M663.44 57.44h7.8M667.34 53.54v7.8M663.65 57.31h7.8M667.55 53.41v7.8M663.85 57.17h7.8M667.75 53.27v7.8M664.05 57.03h7.8M667.95 53.13v7.8M664.25 56.9h7.8M668.15 53v7.8M664.46 56.76h7.8M668.36 52.86v7.8M664.65 56.63h7.8M668.55 52.73v7.8M664.85 56.5h7.8M668.75 52.6v7.8M665.05 56.37h7.8M668.95 52.47v7.8M665.25 56.23h7.8M669.15 52.33v7.8M665.44 56.1h7.8M669.34 52.2v7.8M665.64 55.97h7.8M669.54 52.07v7.8M665.83 55.84h7.8M669.73 51.94v7.8M666.03 55.71h7.8M669.93 51.81v7.8M666.22 55.59h7.8M670.12 51.69v7.8M666.41 55.45h7.8M670.31 51.55v7.8M666.6 55.32h7.8M670.5 51.42v7.8M666.79 55.19h7.8M670.69 51.29v7.8M666.98 55.06h7.8M670.88 51.16v7.8M667.17 54.93h7.8M671.07 51.03v7.8M667.36 54.8h7.8M671.26 50.9v7.8M667.55 54.67h7.8M671.45 50.77v7.8M667.73 54.55h7.8M671.63 50.65v7.8M667.92 54.42h7.8M671.82 50.52v7.8M668.1 54.29h7.8M672 50.39v7.8M668.29 54.17h7.8M672.19 50.27v7.8M668.47 54.04h7.8M672.37 50.14v7.8M668.65 53.92h7.8M672.55 50.02v7.8M668.83 53.79h7.8M672.73 49.89v7.8M669.01 53.67h7.8M672.91 49.77v7.8M669.19 53.55h7.8M673.09 49.65v7.8M669.37 53.43h7.8M673.27 49.53v7.8M669.55 53.3h7.8M673.45 49.4v7.8M669.73 53.18h7.8M673.63 49.28v7.8M669.91 53.06h7.8M673.81 49.16v7.8M670.08 52.94h7.8M673.98 49.04v7.8M670.26 52.82h7.8M674.16 48.92v7.8M670.44 52.71h7.8M674.34 48.81v7.8M670.61 52.59h7.8M674.51 48.69v7.8M670.78 52.47h7.8M674.68 48.57v7.8M670.96 52.35h7.8M674.86 48.45v7.8M671.13 52.24h7.8M675.03 48.34v7.8M671.3 52.12h7.8M675.2 48.22v7.8M671.47 52.01h7.8M675.37 48.11v7.8M671.64 51.89h7.8M675.54 47.99v7.8M671.81 51.78h7.8M675.71 47.88v7.8M671.98 51.66h7.8M675.88 47.76v7.8M672.15 51.55h7.8M676.05 47.65v7.8M672.32 51.44h7.8M676.22 47.54v7.8M672.49 51.33h7.8M676.39 47.43v7.8M672.65 51.22h7.8M676.55 47.32v7.8M672.82 51.11h7.8M676.72 47.21v7.8M672.98 51h7.8M676.88 47.1v7.8M673.15 50.89h7.8M677.05 46.99v7.8M673.31 50.78h7.8M677.21 46.88v7.8M673.48 50.67h7.8M677.38 46.77v7.8M673.64 50.56h7.8M677.54 46.66v7.8M673.8 50.45h7.8M677.7 46.55v7.8M673.97 50.34h7.8M677.87 46.44v7.8M674.13 50.24h7.8M678.03 46.34v7.8M674.29 50.13h7.8M678.19 46.23v7.8M674.45 50.02h7.8M678.35 46.12v7.8M674.61 49.92h7.8M678.51 46.02v7.8M674.77 49.81h7.8M678.67 45.91v7.8M674.92 49.71h7.8M678.82 45.81v7.8M675.08 49.6h7.8M678.98 45.7v7.8M675.24 49.5h7.8M679.14 45.6v7.8" stroke="#565e74" stroke-width="0.6"/>
<path d="M423.3 217.4h7.8M427.2 213.5v7.8M454.21 211.7h7.8M458.11 207.8v7.8M472.29 208.4h7.8M476.19 204.5v7.8M485.12 209.6h7.8M489.02 205.7v7.8M495.08 202.01h7.8M498.98 198.11v7.8M503.21 200.48h7.8M507.11 196.58v7.8M510.08 198.71h7.8M513.98 194.81v7.8M516.04 193.88h7.8M519.94 189.98v7.8M521.29 190.74h7.8M525.19 186.84v7.8M525.99 187.91h7.8M529.89 184.01v7.8M530.24 182.08h7.8M534.14 178.18v7.8M534.12 178.81h7.8M538.02 174.91v7.8M537.69 176.15h7.8M541.59 172.25v7.8M541 172.81h7.8M544.9 168.91v7.8M544.07 169.76h7.8M547.97 165.86v7.8M546.95 166.89h7.8M550.85 162.99v7.8M549.66 164.15h7.8M553.56 160.25v7.8M552.21 161.52h7.8M556.11 157.62v7.8M554.62 159.01h7.8M558.52 155.11v7.8M556.9 156.6h7.8M560.8 152.7v7.8M559.08 154.3h7.8M562.98 150.4v7.8M561.16 152.09h7.8M565.06 148.19v7.8M563.14 149.97h7.8M567.04 146.07v7.8M565.04 147.94h7.8M568.94 144.04v7.8M566.86 146h7.8M570.76 142.1v7.8M568.61 144.12h7.8M572.51 140.22v7.8M570.29 142.33h7.8M574.19 138.43v7.8M571.91 140.6h7.8M575.81 136.7v7.8M573.48 138.93h7.8M577.38 135.03v7.8M574.99 137.33h7.8M578.89 133.43v7.8M576.45 135.79h7.8M580.35 131.89v7.8M577.87 134.3h7.8M581.77 130.4v7.8M579.24 132.87h7.8M583.14 128.97v7.8M580.57 131.49h7.8M584.47 127.59v7.8M581.86 130.14h7.8M585.76 126.24v7.8M583.12 128.83h7.8M587.02 124.93v7.8M584.34 127.55h7.8M588.24 123.65v7.8M585.53 126.31h7.8M589.43 122.41v7.8M586.69 125.1h7.8M590.59 121.2v7.8M587.82 123.92h7.8M591.72 120.02v7.8M588.92 122.77h7.8M592.82 118.87v7.8M590 121.65h7.8M593.9 117.75v7.8M591.04 120.55h7.8M594.94 116.65v7.8M592.07 119.47h7.8M595.97 115.57v7.8M593.07 118.42h7.8M596.97 114.52v7.8M594.05 117.39h7.8M597.95 113.49v7.8M595.01 116.38h7.8M598.91 112.48v7.8M595.95 115.39h7.8M599.85 111.49v7.8M596.87 114.42h7.8M600.77 110.52v7.8M597.77 113.47h7.8M601.67 109.57v7.8M598.65 112.53h7.8M602.55 108.63v7.8M599.52 111.6h7.8M603.42 107.7v7.8M600.37 110.68h7.8M604.27 106.78v7.8M601.2 109.77h7.8M605.1 105.87v7.8M602.02 108.88h7.8M605.92 104.98v7.8M602.83 108h7.8M606.73 104.1v7.8M603.62 107.16h7.8M607.52 103.26v7.8M604.39 106.33h7.8M608.29 102.43v7.8M605.15 105.54h7.8M609.05 101.64v7.8M605.9 104.78h7.8M609.8 100.88v7.8M606.64 104.04h7.8M610.54 100.14v7.8M607.37 103.33h7.8M611.27 99.43v7.8M608.08 102.64h7.8M611.98 98.74v7.8M608.78 101.96h7.8M612.68 98.06v7.8M609.47 101.3h7.8M613.37 97.4v7.8M610.15 100.65h7.8M614.05 96.75v7.8M610.82 100.02h7.8M614.72 96.12v7.8M611.49 99.4h7.8M615.39 95.5v7.8M612.14 98.8h7.8M616.04 94.9v7.8M612.78 98.21h7.8M616.68 94.31v7.8M613.41 97.62h7.8M617.31 93.72v7.8M614.03 97.05h7.8M617.93 93.15v7.8M614.65 96.49h7.8M618.55 92.59v7.8M615.26 95.95h7.8M619.16 92.05v7.8M615.86 95.41h7.8M619.76 91.51v7.8M616.45 94.88h7.8M620.35 90.98v7.8M617.03 94.36h7.8M620.93 90.46v7.8M617.6 93.84h7.8M621.5 89.94v7.8M618.17 93.34h7.8M622.07 89.44v7.8M618.73 92.84h7.8M622.63 88.94v7.8M619.29 92.35h7.8M623.19 88.45v7.8M619.83 91.88h7.8M623.73 87.98v7.8M620.38 91.43h7.8M624.28 87.53v7.8M620.91 90.97h7.8M624.81 87.07v7.8M621.44 90.53h7.8M625.34 86.63v7.8M621.96 90.08h7.8M625.86 86.18v7.8M622.47 89.65h7.8M626.37 85.75v7.8M622.98 89.22h7.8M626.88 85.32v7.8M623.49 88.79h7.8M627.39 84.89v7.8M623.99 88.37h7.8M627.89 84.47v7.8M624.48 87.95h7.8M628.38 84.05v7.8M624.97 87.54h7.8M628.87 83.64v7.8M625.45 87.13h7.8M629.35 83.23v7.8M625.93 86.73h7.8M629.83 82.83v7.8M626.4 86.33h7.8M630.3 82.43v7.8M626.87 85.94h7.8M630.77 82.04v7.8M627.33 85.55h7.8M631.23 81.65v7.8M627.78 85.17h7.8M631.68 81.27v7.8M628.24 84.79h7.8M632.14 80.89v7.8M628.69 84.42h7.8M632.59 80.52v7.8M629.13 84.05h7.8M633.03 80.15v7.8M629.57 83.68h7.8M633.47 79.78v7.8M630 83.32h7.8M633.9 79.42v7.8M630.44 82.97h7.8M634.34 79.07v7.8M630.86 82.62h7.8M634.76 78.72v7.8M631.28 82.27h7.8M635.18 78.37v7.8M631.7 81.93h7.8M635.6 78.03v7.8M632.12 81.59h7.8M636.02 77.69v7.8M632.53 81.25h7.8M636.43 77.35v7.8M632.94 80.92h7.8M636.84 77.02v7.8M633.34 80.6h7.8M637.24 76.7v7.8M633.74 80.27h7.8M637.64 76.37v7.8M634.14 79.96h7.8M638.04 76.06v7.8M634.53 79.64h7.8M638.43 75.74v7.8M634.92 79.33h7.8M638.82 75.43v7.8M635.31 79.02h7.8M639.21 75.12v7.8M635.69 78.72h7.8M639.59 74.82v7.8M636.07 78.42h7.8M639.97 74.52v7.8M636.44 78.13h7.8M640.34 74.23v7.8M636.82 77.83h7.8M640.72 73.93v7.8M637.19 77.55h7.8M641.09 73.65v7.8M637.55 77.26h7.8M641.45 73.36v7.8M637.92 76.97h7.8M641.82 73.07v7.8M638.28 76.69h7.8M642.18 72.79v7.8M638.64 76.41h7.8M642.54 72.51v7.8M638.99 76.14h7.8M642.89 72.24v7.8M639.35 75.87h7.8M643.25 71.97v7.8M639.7 75.6h7.8M643.6 71.7v7.8M640.04 75.33h7.8M643.94 71.43v7.8M640.39 75.07h7.8M644.29 71.17v7.8M640.73 74.8h7.8M644.63 70.9v7.8M641.07 74.55h7.8M644.97 70.65v7.8M641.4 74.29h7.8M645.3 70.39v7.8M641.74 74.04h7.8M645.64 70.14v7.8M642.07 73.78h7.8M645.97 69.88v7.8M642.4 73.54h7.8M646.3 69.64v7.8M642.73 73.29h7.8M646.63 69.39v7.8M643.05 73.04h7.8M646.95 69.14v7.8M643.37 72.8h7.8M647.27 68.9v7.8M643.69 72.56h7.8M647.59 68.66v7.8M644.01 72.33h7.8M647.91 68.43v7.8M644.33 72.09h7.8M648.23 68.19v7.8M644.64 71.86h7.8M648.54 67.96v7.8M644.95 71.63h7.8M648.85 67.73v7.8M645.26 71.4h7.8M649.16 67.5v7.8M645.56 71.17h7.8M649.46 67.27v7.8M645.87 70.95h7.8M649.77 67.05v7.8M646.17 70.73h7.8M650.07 66.83v7.8M646.47 70.51h7.8M650.37 66.61v7.8M646.77 70.29h7.8M650.67 66.39v7.8M647.07 70.07h7.8M650.97 66.17v7.8M647.36 69.86h7.8M651.26 65.96v7.8M647.65 69.65h7.8M651.55 65.75v7.8M647.94 69.44h7.8M651.84 65.54v7.8M648.23 69.23h7.8M652.13 65.33v7.8M648.52 69.02h7.8M652.42 65.12v7.8M648.8 68.82h7.8M652.7 64.92v7.8M649.09 68.61h7.8M652.99 64.71v7.8M649.37 68.41h7.8M653.27 64.51v7.8M649.65 68.21h7.8M653.55 64.31v7.8M649.93 68.02h7.8M653.83 64.12v7.8M650.2 67.82h7.8M654.1 63.92v7.8M650.48 67.63h7.8M654.38 63.73v7.8M650.75 67.43h7.8M654.65 63.53v7.8M651.02 67.25h7.8M654.92 63.35v7.8M651.29 67.06h7.8M655.19 63.16v7.8M651.56 66.87h7.8M655.46 62.97v7.8M651.82 66.69h7.8M655.72 62.79v7.8M652.09 66.51h7.8M655.99 62.61v7.8M652.35 66.33h7.8M656.25 62.43v7.8M652.61 66.15h7.8M656.51 62.25v7.8M652.87 65.97h7.8M656.77 62.07v7.8M653.13 65.79h7.8M657.03 61.89v7.8M653.39 65.62h7.8M657.29 61.72v7.8M653.64 65.44h7.8M657.54 61.54v7.8M653.9 65.27h7.8M657.8 61.37v7.8M654.15 65.1h7.8M658.05 61.2v7.8M654.4 64.93h7.8M658.3 61.03v7.8M654.65 64.76h7.8M658.55 60.86v7.8M654.9 64.6h7.8M658.8 60.7v7.8M655.15 64.43h7.8M659.05 60.53v7.8M655.39 64.27h7.8M659.29 60.37v7.8M655.64 64.11h7.8M659.54 60.21v7.8M655.88 63.94h7.8M659.78 60.04v7.8M656.12 63.78h7.8M660.02 59.88v7.8M656.36 63.62h7.8M660.26 59.72v7.8M656.6 63.47h7.8M660.5 59.57v7.8M656.84 63.31h7.8M660.74 59.41v7.8M657.08 63.15h7.8M660.98 59.25v7.8M657.31 63h7.8M661.21 59.1v7.8M657.55 62.84h7.8M661.45 58.94v7.8M657.78 62.69h7.8M661.68 58.79v7.8M658.01 62.54h7.8M661.91 58.64v7.8M658.24 62.39h7.8M662.14 58.49v7.8M658.47 62.24h7.8M662.37 58.34v7.8M658.7 62.09h7.8M662.6 58.19v7.8M658.93 61.94h7.8M662.83 58.04v7.8M659.15 61.8h7.8M663.05 57.9v7.8M659.38 61.65h7.8M663.28 57.75v7.8M659.6 61.51h7.8M663.5 57.61v7.8M659.82 61.36h7.8M663.72 57.46v7.8M660.04 61.22h7.8M663.94 57.32v7.8M660.26 61.08h7.8M664.16 57.18v7.8M660.48 60.94h7.8M664.38 57.04v7.8M660.7 60.8h7.8M664.6 56.9v7.8M660.92 60.66h7.8M664.82 56.76v7.8M661.13 60.52h7.8M665.03 56.62v7.8M661.35 60.38h7.8M665.25 56.48v7.8M661.56 60.24h7.8M665.46 56.34v7.8M661.78 60.11h7.8M665.68 56.21v7.8M661.99 59.97h7.8M665.89 56.07v7.8M662.2 59.84h7.8M666.1 55.94v7.8M662.41 59.7h7.8M666.31 55.8v7.8M662.62 59.57h7.8M666.52 55.67v7.8M662.83 59.44h7.8M666.73 55.54v7.8M663.03 59.31h7.8M666.93 55.41v7.8M663.24 59.17h7.8M667.14 55.27v7.8M663.44 59.04h7.8M667.34 55.14v7.8M663.65 58.91h7.8M667.55 55.01v7.8M663.85 58.79h7.8M667.75 54.89v7.8M664.05 58.66h7.8M667.95 54.76v7.8M664.25 58.53h7.8M668.15 54.63v7.8M664.46 58.4h7.8M668.36 54.5v7.8M664.65 58.28h7.8M668.55 54.38v7.8M664.85 58.15h7.8M668.75 54.25v7.8M665.05 58.03h7.8M668.95 54.13v7.8M665.25 57.9h7.8M669.15 54v7.8M665.44 57.78h7.8M669.34 53.88v7.8M665.64 57.65h7.8M669.54 53.75v7.8M665.83 57.53h7.8M669.73 53.63v7.8M666.03 57.41h7.8M669.93 53.51v7.8M666.22 57.29h7.8M670.12 53.39v7.8M666.41 57.17h7.8M670.31 53.27v7.8M666.6 57.05h7.8M670.5 53.15v7.8M666.79 56.94h7.8M670.69 53.04v7.8M666.98 56.82h7.8M670.88 52.92v7.8M667.17 56.71h7.8M671.07 52.81v7.8M667.36 56.6h7.8M671.26 52.7v7.8M667.55 56.48h7.8M671.45 52.58v7.8M667.73 56.37h7.8M671.63 52.47v7.8M667.92 56.26h7.8M671.82 52.36v7.8M668.1 56.15h7.8M672 52.25v7.8M668.29 56.04h7.8M672.19 52.14v7.8M668.47 55.93h7.8M672.37 52.03v7.8M668.65 55.82h7.8M672.55 51.92v7.8M668.83 55.71h7.8M672.73 51.81v7.8M669.01 55.6h7.8M672.91 51.7v7.8M669.19 55.49h7.8M673.09 51.59v7.8M669.37 55.38h7.8M673.27 51.48v7.8M669.55 55.28h7.8M673.45 51.38v7.8M669.73 55.17h7.8M673.63 51.27v7.8M669.91 55.06h7.8M673.81 51.16v7.8M670.08 54.96h7.8M673.98 51.06v7.8M670.26 54.85h7.8M674.16 50.95v7.8M670.44 54.75h7.8M674.34 50.85v7.8M670.61 54.65h7.8M674.51 50.75v7.8M670.78 54.54h7.8M674.68 50.64v7.8M670.96 54.44h7.8M674.86 50.54v7.8M671.13 54.34h7.8M675.03 50.44v7.8M671.3 54.24h7.8M675.2 50.34v7.8M671.47 54.14h7.8M675.37 50.24v7.8M671.64 54.04h7.8M675.54 50.14v7.8M671.81 53.94h7.8M675.71 50.04v7.8M671.98 53.84h7.8M675.88 49.94v7.8M672.15 53.74h7.8M676.05 49.84v7.8M672.32 53.64h7.8M676.22 49.74v7.8M672.49 53.54h7.8M676.39 49.64v7.8M672.65 53.44h7.8M676.55 49.54v7.8M672.82 53.34h7.8M676.72 49.44v7.8M672.98 53.25h7.8M676.88 49.35v7.8M673.15 53.15h7.8M677.05 49.25v7.8M673.31 53.06h7.8M677.21 49.16v7.8M673.48 52.96h7.8M677.38 49.06v7.8M673.64 52.86h7.8M677.54 48.96v7.8M673.8 52.77h7.8M677.7 48.87v7.8M673.97 52.68h7.8M677.87 48.78v7.8M674.13 52.58h7.8M678.03 48.68v7.8M674.29 52.49h7.8M678.19 48.59v7.8M674.45 52.4h7.8M678.35 48.5v7.8M674.61 52.3h7.8M678.51 48.4v7.8M674.77 52.21h7.8M678.67 48.31v7.8M674.92 52.12h7.8M678.82 48.22v7.8M675.08 52.03h7.8M678.98 48.13v7.8M675.24 51.94h7.8M679.14 48.04v7.8" stroke="#4a5163" stroke-width="0.65"/>
</g>
<path d="M458.3 259L549 167.57" stroke="#111" stroke-width="1.15" fill="none"/>
<rect x="462.9" y="71.2" width="77.2" height="76.6" fill="#390149"/>
<g fill="#cdbb27"><circle cx="466.36" cy="73.93" r="1.6"/><circle cx="478.57" cy="73.36" r="2.2"/><circle cx="485.66" cy="74.78" r="2.1"/><circle cx="494.75" cy="73.93" r="2.1"/><circle cx="506.11" cy="76.2" r="2.2"/><circle cx="528.25" cy="78.47" r="1.6"/><circle cx="481.97" cy="81.02" r="1.6"/><circle cx="491.91" cy="78.47" r="2.1"/><circle cx="497.59" cy="79.6" r="2.2"/><circle cx="501.85" cy="79.6" r="1.6"/><circle cx="509.8" cy="82.44" r="1.6"/><circle cx="464.94" cy="83.29" r="2.1"/><circle cx="467.78" cy="87.55" r="1.3"/><circle cx="533.08" cy="82.44" r="1.3"/><circle cx="517.46" cy="86.99" r="2"/><circle cx="531.66" cy="86.99" r="2.1"/><circle cx="482.54" cy="87.55" r="1.6"/><circle cx="487.08" cy="88.41" r="2.1"/><circle cx="492.48" cy="91.81" r="1.6"/><circle cx="498.16" cy="92.66" r="2.2"/><circle cx="514.63" cy="90.39" r="2.1"/><circle cx="474.31" cy="95.5" r="2.1"/><circle cx="481.97" cy="94.08" r="2.2"/><circle cx="496.17" cy="96.07" r="2.2"/><circle cx="498.44" cy="97.49" r="2.1"/><circle cx="516.9" cy="96.07" r="1.6"/><circle cx="489.64" cy="98.91" r="2.2"/><circle cx="497.59" cy="106.86" r="2.1"/><circle cx="504.69" cy="104.59" r="2"/><circle cx="513.21" cy="105.16" r="1.6"/><circle cx="520.3" cy="104.59" r="2"/><circle cx="529.67" cy="104.02" r="2.2"/><circle cx="537.34" cy="104.59" r="2"/><circle cx="490.49" cy="104.02" r="2.2"/><circle cx="488.5" cy="108.28" r="2.2"/><circle cx="484.24" cy="111.12" r="1.6"/><circle cx="469.76" cy="111.12" r="2.1"/><circle cx="468.63" cy="113.96" r="2.1"/><circle cx="493.33" cy="113.96" r="2.2"/><circle cx="496.17" cy="115.38" r="1.3"/><circle cx="503.27" cy="112.26" r="1.6"/><circle cx="510.37" cy="111.69" r="2.1"/><circle cx="528.25" cy="112.54" r="2.2"/><circle cx="525.41" cy="115.95" r="2.2"/><circle cx="479.13" cy="117.93" r="2.2"/><circle cx="483.96" cy="120.77" r="1.3"/><circle cx="489.64" cy="117.37" r="1.6"/><circle cx="509.8" cy="115.95" r="2.2"/><circle cx="508.95" cy="121.63" r="2.2"/><circle cx="523.14" cy="121.06" r="2.1"/><circle cx="468.63" cy="119.64" r="2.1"/><circle cx="531.66" cy="117.37" r="2.2"/><circle cx="530.24" cy="123.04" r="2"/><circle cx="499.86" cy="123.9" r="2"/><circle cx="485.66" cy="125.88" r="2.2"/><circle cx="485.66" cy="129.58" r="2.2"/><circle cx="490.49" cy="131.56" r="2.2"/><circle cx="498.16" cy="130.99" r="2.1"/><circle cx="501.85" cy="129.29" r="2.1"/><circle cx="506.11" cy="131.56" r="2.2"/><circle cx="516.61" cy="128.72" r="1.6"/><circle cx="526.83" cy="128.72" r="2.2"/><circle cx="507.53" cy="125.88" r="2.2"/><circle cx="464.94" cy="138.66" r="2.1"/><circle cx="470.62" cy="136.39" r="2.2"/><circle cx="479.99" cy="134.4" r="2"/><circle cx="484.24" cy="137.24" r="2.1"/><circle cx="493.33" cy="140.08" r="2.1"/><circle cx="513.21" cy="136.39" r="1.6"/><circle cx="520.3" cy="139.23" r="2.2"/><circle cx="466.93" cy="144.34" r="2.2"/><circle cx="508.38" cy="142.35" r="2.2"/><circle cx="518.88" cy="146.33" r="2.2"/><circle cx="513.21" cy="146.33" r="2.1"/></g>
<g fill="#3f9a78"><circle cx="498.41" cy="78.21" r=".7"/><circle cx="472.73" cy="119.76" r=".7"/><circle cx="493.87" cy="122.08" r=".7"/><circle cx="503.32" cy="101.51" r=".7"/><circle cx="479.45" cy="134.7" r=".7"/><circle cx="484.51" cy="118.7" r=".7"/><circle cx="471.68" cy="143.29" r=".7"/><circle cx="475.52" cy="109.29" r=".7"/><circle cx="525.3" cy="89.23" r=".7"/><circle cx="512.71" cy="102.2" r=".7"/><circle cx="536.66" cy="81.9" r=".7"/><circle cx="515.44" cy="114.61" r=".7"/><circle cx="488.83" cy="143.12" r=".7"/><circle cx="464.91" cy="96.38" r=".7"/></g>
<rect x="600" y="124.1" width="78" height="75.7" fill="#390149"/>
<defs><clipPath id="cb2"><rect x="600" y="124.1" width="78" height="75.7"/></clipPath></defs>
<g fill="#cdbb27" clip-path="url(#cb2)"><ellipse cx="601.71" cy="126.3" rx="1.74" ry="2.01"/><ellipse cx="605.95" cy="126.3" rx="1.74" ry="2.01"/><ellipse cx="615.22" cy="124.97" rx="2.83" ry="2.01"/><ellipse cx="622.91" cy="126.3" rx="2.01" ry="2.28"/><ellipse cx="632.71" cy="124.71" rx="2.28" ry="1.74"/><ellipse cx="628.74" cy="129.61" rx="2.28" ry="2.28"/><ellipse cx="634.43" cy="130.94" rx="1.74" ry="2.28"/><ellipse cx="638.81" cy="130.94" rx="1.19" ry="2.28"/><ellipse cx="603.03" cy="133.59" rx="3.1" ry="2.56"/><ellipse cx="618.27" cy="132.53" rx="3.1" ry="2.56"/><ellipse cx="630.06" cy="135.84" rx="2.56" ry="2.56"/><ellipse cx="606.21" cy="138.89" rx="3.1" ry="2.56"/><ellipse cx="619.2" cy="139.55" rx="2.56" ry="2.56"/><ellipse cx="624.5" cy="139.81" rx="1.74" ry="2.28"/><ellipse cx="629.53" cy="143.26" rx="1.74" ry="1.74"/><ellipse cx="635.36" cy="143.52" rx="2.01" ry="2.28"/><ellipse cx="601.31" cy="144.85" rx="2.01" ry="2.56"/><ellipse cx="611.65" cy="147.1" rx="3.1" ry="3.1"/><ellipse cx="619.2" cy="146.17" rx="2.56" ry="2.56"/><ellipse cx="633.11" cy="147.89" rx="1.74" ry="1.46"/><ellipse cx="636.42" cy="150.41" rx="2.01" ry="1.74"/><ellipse cx="626.09" cy="150.81" rx="3.1" ry="2.56"/><ellipse cx="606.21" cy="153.46" rx="2.83" ry="2.56"/><ellipse cx="627.81" cy="155.71" rx="2.28" ry="1.46"/><ellipse cx="612.84" cy="158.49" rx="2.56" ry="2.56"/><ellipse cx="634.04" cy="158.76" rx="2.56" ry="2.56"/><ellipse cx="625.56" cy="160.08" rx="2.56" ry="2.28"/><ellipse cx="620.52" cy="161.41" rx="2.01" ry="1.74"/><ellipse cx="606.61" cy="161.81" rx="2.01" ry="1.46"/><ellipse cx="639.34" cy="156.11" rx="0.92" ry="1.46"/><ellipse cx="639.07" cy="144.85" rx="0.92" ry="2.01"/><ellipse cx="643.56" cy="127.62" rx="2.01" ry="2.28"/><ellipse cx="647.27" cy="124.71" rx="2.01" ry="1.19"/><ellipse cx="647.54" cy="134.25" rx="2.83" ry="2.83"/><ellipse cx="665.16" cy="129.61" rx="3.92" ry="3.92"/><ellipse cx="655.49" cy="137.96" rx="3.1" ry="3.1"/><ellipse cx="651.25" cy="141.93" rx="2.56" ry="2.01"/><ellipse cx="670.46" cy="134.25" rx="2.56" ry="2.01"/><ellipse cx="669.13" cy="139.81" rx="3.38" ry="3.1"/><ellipse cx="677.08" cy="134.25" rx="0.92" ry="2.01"/><ellipse cx="654.96" cy="148.16" rx="3.38" ry="2.83"/><ellipse cx="677.08" cy="144.85" rx="1.19" ry="2.83"/><ellipse cx="641.97" cy="155.71" rx="2.83" ry="3.1"/><ellipse cx="650.59" cy="156.11" rx="2.56" ry="2.83"/><ellipse cx="657.87" cy="156.11" rx="2.01" ry="2.83"/><ellipse cx="666.48" cy="154.78" rx="2.83" ry="3.65"/><ellipse cx="674.04" cy="155.71" rx="2.56" ry="3.38"/><ellipse cx="640.91" cy="161.41" rx="2.56" ry="1.46"/><ellipse cx="649.26" cy="161.41" rx="2.56" ry="1.74"/><ellipse cx="675.76" cy="161.41" rx="2.01" ry="1.74"/><ellipse cx="657.87" cy="124.31" rx="1.46" ry="0.78"/><ellipse cx="676.42" cy="125.64" rx="0.92" ry="2.01"/><ellipse cx="606.61" cy="166.03" rx="2.56" ry="1.46"/><ellipse cx="632.18" cy="166.56" rx="2.28" ry="2.28"/><ellipse cx="626.88" cy="168.95" rx="2.01" ry="2.01"/><ellipse cx="639.07" cy="163.65" rx="1.19" ry="2.28"/><ellipse cx="605.95" cy="171.86" rx="3.1" ry="2.83"/><ellipse cx="616.55" cy="170.94" rx="2.83" ry="3.1"/><ellipse cx="621.85" cy="173.19" rx="1.74" ry="1.74"/><ellipse cx="627.81" cy="173.98" rx="2.01" ry="2.01"/><ellipse cx="637.08" cy="175.57" rx="2.28" ry="2.56"/><ellipse cx="622.51" cy="177.96" rx="2.28" ry="1.46"/><ellipse cx="622.24" cy="181.27" rx="2.28" ry="1.46"/><ellipse cx="639.07" cy="180.61" rx="1.19" ry="1.46"/><ellipse cx="635.1" cy="182.86" rx="2.01" ry="2.28"/><ellipse cx="628.21" cy="184.85" rx="2.28" ry="2.28"/><ellipse cx="638.41" cy="185.91" rx="1.46" ry="1.74"/><ellipse cx="608.33" cy="187.5" rx="2.83" ry="3.1"/><ellipse cx="616.81" cy="186.44" rx="2.56" ry="3.1"/><ellipse cx="602.24" cy="190.15" rx="2.56" ry="2.83"/><ellipse cx="622.91" cy="189.88" rx="2.83" ry="3.1"/><ellipse cx="631.12" cy="193.46" rx="3.65" ry="3.1"/><ellipse cx="604.36" cy="196.11" rx="3.38" ry="2.28"/><ellipse cx="615.89" cy="199.16" rx="2.01" ry="0.92"/><ellipse cx="664.5" cy="162.99" rx="2.56" ry="1.74"/><ellipse cx="646.21" cy="168.68" rx="3.1" ry="2.01"/><ellipse cx="662.51" cy="167.62" rx="2.56" ry="2.28"/><ellipse cx="670.46" cy="169.21" rx="2.83" ry="2.83"/><ellipse cx="647.94" cy="173.19" rx="3.1" ry="1.74"/><ellipse cx="659.86" cy="172.66" rx="3.1" ry="2.83"/><ellipse cx="668.47" cy="174.91" rx="2.56" ry="2.01"/><ellipse cx="646.21" cy="177.96" rx="2.56" ry="2.01"/><ellipse cx="654.56" cy="180.61" rx="2.83" ry="2.83"/><ellipse cx="664.5" cy="180.87" rx="3.65" ry="3.1"/><ellipse cx="674.83" cy="180.21" rx="3.1" ry="3.1"/><ellipse cx="643.56" cy="184.18" rx="2.28" ry="2.83"/><ellipse cx="651.25" cy="188.56" rx="2.83" ry="3.1"/><ellipse cx="659.2" cy="191.47" rx="3.1" ry="3.1"/><ellipse cx="667.81" cy="192.13" rx="3.1" ry="3.1"/><ellipse cx="677.08" cy="190.15" rx="1.19" ry="2.01"/><ellipse cx="645.29" cy="193.46" rx="2.83" ry="2.56"/><ellipse cx="645.95" cy="199.42" rx="2.28" ry="1.19"/><ellipse cx="651.25" cy="198.49" rx="1.46" ry="1.46"/><ellipse cx="657.61" cy="198.49" rx="2.56" ry="1.74"/></g>
<rect x="523" y="201.1" width="75.8" height="75.6" fill="#390149"/>
<g fill="#cdbb27"><circle cx="525.51" cy="212.44" r="1.5"/><circle cx="541.12" cy="210.46" r="1.2"/><circle cx="551.06" cy="208.18" r="1"/><circle cx="553.9" cy="203.93" r="1.5"/><circle cx="585.98" cy="208.18" r="1.2"/><circle cx="527.78" cy="216.99" r="1.5"/><circle cx="541.97" cy="217.55" r="1.4"/><circle cx="545.66" cy="218.12" r="1.2"/><circle cx="551.34" cy="213.86" r="1"/><circle cx="576.04" cy="216.99" r="1.2"/><circle cx="590.24" cy="216.99" r="1.2"/><circle cx="534.02" cy="225.22" r="1"/><circle cx="548.5" cy="228.91" r="1"/><circle cx="573.21" cy="219.83" r="1"/><circle cx="563.27" cy="233.74" r="1"/><circle cx="571.79" cy="234.59" r="1.4"/><circle cx="588.25" cy="233.17" r="1.4"/><circle cx="547.65" cy="237.43" r="1"/><circle cx="543.39" cy="240.27" r="1.5"/><circle cx="568.95" cy="240.27" r="1.5"/><circle cx="539.13" cy="247.37" r="1.5"/><circle cx="544.24" cy="251.06" r="1.2"/><circle cx="549.07" cy="251.06" r="1.5"/><circle cx="567.53" cy="245.95" r="1.4"/><circle cx="568.09" cy="250.21" r="1.5"/><circle cx="544.81" cy="255.03" r="1.4"/><circle cx="544.24" cy="257.87" r="1.2"/><circle cx="560.43" cy="257.3" r="1"/><circle cx="557.59" cy="260.14" r="1.4"/><circle cx="549.64" cy="262.13" r="1.5"/><circle cx="564.69" cy="260.99" r="1.5"/><circle cx="585.41" cy="257.87" r="1.5"/><circle cx="544.24" cy="266.39" r="1"/><circle cx="572.35" cy="265.25" r="1"/><circle cx="552.76" cy="270.08" r="1.2"/><circle cx="578.88" cy="268.66" r="1.5"/><circle cx="525.51" cy="267.81" r="1"/><circle cx="526.93" cy="272.92" r="1.5"/><circle cx="583.14" cy="244.53" r="1.5"/></g>
<g fill="#3f9a78"><circle cx="575.31" cy="205.87" r=".65"/><circle cx="541.09" cy="268.64" r=".65"/><circle cx="587.5" cy="218.39" r=".65"/><circle cx="564.43" cy="227.64" r=".65"/><circle cx="538.16" cy="259.56" r=".65"/><circle cx="531.5" cy="232.73" r=".65"/><circle cx="527.07" cy="240.46" r=".65"/><circle cx="574.36" cy="221.37" r=".65"/><circle cx="530.95" cy="238.87" r=".65"/><circle cx="526.58" cy="257.85" r=".65"/><circle cx="589.58" cy="202.99" r=".65"/><circle cx="582.84" cy="244.08" r=".65"/><circle cx="595.65" cy="260.94" r=".65"/><circle cx="590.44" cy="264.89" r=".65"/><circle cx="586.77" cy="257.79" r=".65"/><circle cx="590.66" cy="208.82" r=".65"/><circle cx="583.21" cy="251.99" r=".65"/><circle cx="551" cy="234.42" r=".65"/><circle cx="532.72" cy="225.19" r=".65"/><circle cx="576.66" cy="242.75" r=".65"/><circle cx="592.17" cy="221.13" r=".65"/><circle cx="541.22" cy="256.33" r=".65"/><circle cx="594.34" cy="229.3" r=".65"/><circle cx="553.23" cy="206.49" r=".65"/><circle cx="595.81" cy="238.33" r=".65"/><circle cx="571.8" cy="269.18" r=".65"/><circle cx="550.04" cy="249.07" r=".65"/><circle cx="578.82" cy="212.77" r=".65"/><circle cx="543.42" cy="245.8" r=".65"/><circle cx="543.41" cy="214.22" r=".65"/><circle cx="558.08" cy="243.06" r=".65"/><circle cx="570.9" cy="226.23" r=".65"/><circle cx="572.49" cy="235.48" r=".65"/><circle cx="560.93" cy="252.78" r=".65"/><circle cx="594.56" cy="206.01" r=".65"/><circle cx="569.5" cy="253.86" r=".65"/><circle cx="559.52" cy="234.02" r=".65"/><circle cx="554.9" cy="250.34" r=".65"/><circle cx="568.8" cy="208.93" r=".65"/><circle cx="550.69" cy="267.75" r=".65"/></g>
<path d="M542.1 119.5L564.56 130.06" stroke="#1a1a1a" stroke-width="0.6" fill="none"/>
<path d="M568.9 132.1L563.71 131.87L565.41 128.25Z" fill="#111"/>
<path d="M639 114.6L661.88 80.81" stroke="#1a1a1a" stroke-width="0.7" fill="none"/>
<path d="M664.8 76.5L663.79 82.1L659.98 79.52Z" fill="#111"/>
<path d="M551.9 200.8L546.23 189.23" stroke="#1a1a1a" stroke-width="0.65" fill="none"/>
<path d="M544.2 185.1L548.02 188.35L544.43 190.11Z" fill="#111"/>
<path d="M423.9 278.1H427.5M420.3 255.38H427.5M423.9 232.67H427.5M420.3 209.95H427.5M423.9 187.23H427.5M420.3 164.52H427.5M423.9 141.8H427.5M420.3 119.08H427.5M423.9 96.37H427.5M420.3 73.65H427.5M423.9 50.93H427.5M420.3 28.22H427.5M423.9 5.5H427.5M436 278.1V281.7M458.3 278.1V285.3M480.6 278.1V281.7M502.9 278.1V285.3M525.2 278.1V281.7M547.5 278.1V285.3M569.8 278.1V281.7M592.1 278.1V285.3M614.4 278.1V281.7M636.7 278.1V285.3M659 278.1V281.7M681.3 278.1V285.3" stroke="#2c2c2c" stroke-width=".8" fill="none"/>
<rect x="427.5" y="5.5" width="253.8" height="272.6" stroke="#2c2c2c" stroke-width=".85" fill="none"/>
<text x="417.2" y="260.08" text-anchor="end" fill="#111" stroke="#111" stroke-width=".22" font-size="13.6">−8</text>
<text x="417.2" y="214.65" text-anchor="end" fill="#111" stroke="#111" stroke-width=".22" font-size="13.6">−6</text>
<text x="417.2" y="169.22" text-anchor="end" fill="#111" stroke="#111" stroke-width=".22" font-size="13.6">−4</text>
<text x="417.2" y="123.78" text-anchor="end" fill="#111" stroke="#111" stroke-width=".22" font-size="13.6">−2</text>
<text x="417.2" y="78.35" text-anchor="end" fill="#111" stroke="#111" stroke-width=".22" font-size="13.6">0</text>
<text x="417.2" y="32.92" text-anchor="end" fill="#111" stroke="#111" stroke-width=".22" font-size="13.6">2</text>
<text x="458.3" y="297.1" text-anchor="middle" fill="#111" stroke="#111" stroke-width=".22" font-size="13.6">3</text>
<text x="502.9" y="297.1" text-anchor="middle" fill="#111" stroke="#111" stroke-width=".22" font-size="13.6">4</text>
<text x="547.5" y="297.1" text-anchor="middle" fill="#111" stroke="#111" stroke-width=".22" font-size="13.6">5</text>
<text x="592.1" y="297.1" text-anchor="middle" fill="#111" stroke="#111" stroke-width=".22" font-size="13.6">6</text>
<text x="636.7" y="297.1" text-anchor="middle" fill="#111" stroke="#111" stroke-width=".22" font-size="13.6">7</text>
<text x="681.3" y="297.1" text-anchor="middle" fill="#111" stroke="#111" stroke-width=".22" font-size="13.6">8</text>
<text x="555" y="312.7" text-anchor="middle" fill="#111" stroke="#111" stroke-width=".22" font-size="13.6">ln(t)</text>
<text transform="translate(387.6 142.4) rotate(-90)" text-anchor="middle" fill="#111" stroke="#111" stroke-width=".22" font-size="13.85">ln(-ln(1-Y(t)/Y<tspan font-size="9.5" dy="2.6">eq</tspan><tspan dy="-2.6">))</tspan></text>
<text x="374.2" y="11.3" text-anchor="start" fill="#111" stroke="#111" stroke-width=".22" font-size="13.9" font-weight="bold">(b)</text>
<path d="M444.5 27.4h7.8M448.4 23.5v7.8" stroke="#c5467d" stroke-width=".65" fill="none"/>
<path d="M440.2 43.5H456" stroke="#111" stroke-width="1.1" fill="none"/>
<text x="462.2" y="31.4" text-anchor="start" fill="#111" stroke="#111" stroke-width=".22" font-size="13.6">Phase field results</text>
<text x="462.4" y="47.9" text-anchor="start" fill="#111" stroke="#111" stroke-width=".22" font-size="13.6">Fitted line (Slope = 1.989)</text>
<text x="440.4" y="66.8" text-anchor="start" fill="#fa0007" stroke="#fa0007" stroke-width=".22" font-size="13.6">MAE: 0.038</text>
</svg>
</body>
</html>
